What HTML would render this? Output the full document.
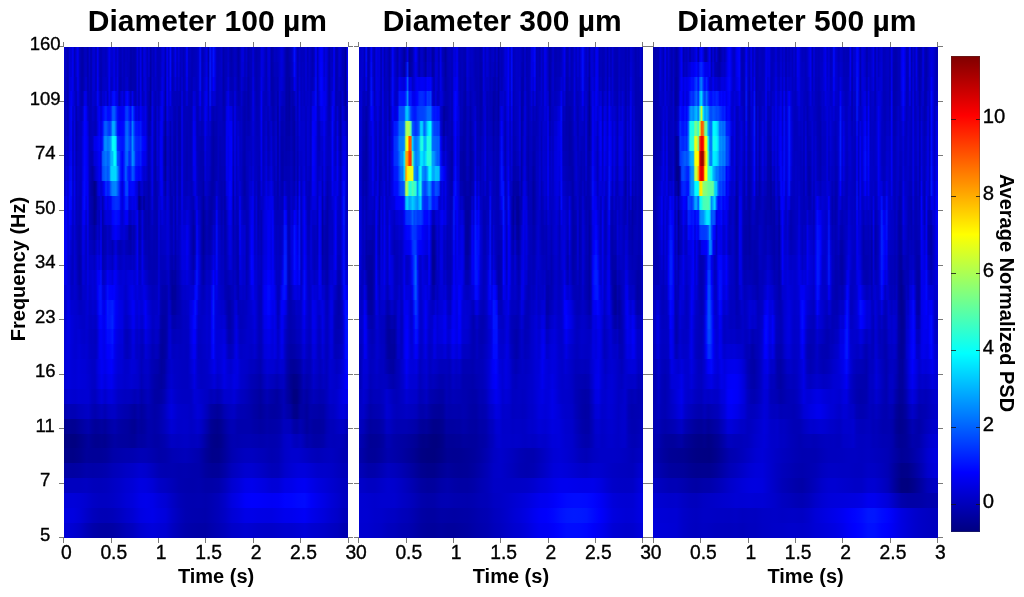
<!DOCTYPE html>
<html><head><meta charset="utf-8"><title>Spectrograms</title>
<style>
html,body{margin:0;padding:0;background:#fff;}
body{width:1024px;height:597px;position:relative;overflow:hidden;font-family:"Liberation Sans",Arial,sans-serif;color:#000;}
.p{position:absolute;overflow:hidden;background:#0000d0;}
.r{height:14.879px;margin-left:-0.827px;width:286.053px;}
.r2{margin-left:-1.653px;width:287.707px;}
.r4{margin-left:-3.307px;width:291.014px;}
.t{position:absolute;font-weight:bold;font-size:30px;line-height:32px;white-space:nowrap;text-align:center;width:300px;top:5px;}
.yl{position:absolute;font-size:18.5px;line-height:18px;text-align:center;width:60px;left:15.2px;white-space:nowrap;}
.xl{position:absolute;font-size:19.3px;line-height:18px;text-align:center;width:40px;white-space:nowrap;top:543.5px;}
.b{position:absolute;font-weight:bold;font-size:20px;line-height:20px;white-space:nowrap;text-align:center;}
.k{position:absolute;background:#7a7a7a;}
.yl,.xl,.cl{-webkit-text-stroke:0.35px #000;}
.cl{position:absolute;font-size:20.3px;line-height:18px;left:982.7px;white-space:nowrap;}
</style></head><body>
<div class="t" style="left:57.4px">Diameter 100 µm</div>
<div class="p" style="left:63.6px;top:46.8px;width:284.5px;height:491.0px">
<div class="r" style="background:linear-gradient(90deg,#00c,#00c,#0000be,#0000af,#0000d5,#0000d0,#0000f5,#0000b5,#0000d4,#0000f5,#0000bd,#0000ac,#0000a7,#0000bc,#0000c0,#0000a9,#00c,#0000ac,#0000d2,#0000d4,#0000b3,#0000f6,#0000ba,#0000af,#0000c0,#0000c3,#0000ba,#0000ce,#0000f5,#0000d0,#0000d1,#0000e6,#0000bc,#0000dc,#0000ba,#0000b5,#0000c6,#0000b4,#0000c3,#0000bc,#0000c3,#0000a6,#0000b2,#0000ac,#0000b3,#0000e0,#0000b6,#0000ef,#0000b0,#0000e4,#0000d5,#0000b8,#0000db,#0000a5,#0000c4,#0000b8,#0000d7,#0000b9,#0000b9,#00b,#0000d8,#0000da,#0000b2,#0000f7,#0000c1,#000aff,#0000b4,#0000c3,#0000ef,#0000ba,#0000e0,#0000bd,#0000c5,#0000b6,#0000c7,#0004ff,#0000ba,#0000c0,#0000b3,#0000b8,#0000bc,#0000be,#0000ce,#000fff,#0000b3,#00b,#0000d0,#0000e4,#0000ab,#0017ff,#0000db,#0012ff,#0000e6,#0000bd,#0000b9,#0000c0,#0000cb,#0000ab,#0000b9,#0000b9,#0000c9,#0000b2,#0000ab,#0000b8,#0000c3,#0000b9,#0000a4,#0000b3,#0000d7,#0000e1,#0000b7,#0000cb,#0000af,#0000b8,#0000b9,#00d,#0000b5,#0000b0,#0000b5,#0000b7,#0000e1,#0000de,#0000c6,#0000b2,#0000da,#0000d8,#0000a9,#0000af,#0000c3,#0000bd,#0000c2,#00c,#00d,#0000d7,#0000be,#0000a8,#0000a3,#0000b0,#0000b7,#0000d0,#01f,#0000db,#0000b0,#0000c9,#0000bc,#0000be,#0000bd,#0000db,#0000b3,#0000cd,#00b,#0000ad,#0000be,#0002ff,#0000ba,#0000e7,#00f,#0000f4,#0000c7,#0000e4,#0000cd,#0000ac,#0000c2,#0000bc,#0000fe,#0000ae,#0000b3,#0000d4,#0000d1,#0000b8,#0000b3,#00009a,#0000f2,#0000f2)"></div>
<div class="r" style="background:linear-gradient(90deg,#00c,#00c,#0000bd,#0000ad,#0000d7,#0000d4,#0000f6,#0000b6,#0000d0,#0000f6,#0000c0,#00a,#0000a6,#0000bc,#0000c5,#0000a8,#0000c9,#0000ac,#0000d4,#0000d6,#0000b2,#0000f9,#00b,#0000ad,#0000bf,#0000c4,#0000bd,#0000cb,#0000f6,#00c,#0000cf,#0000ea,#0000bd,#0000e0,#0000b8,#0000b2,#0000c6,#0000b6,#0000c7,#0000bf,#0000bd,#0000a6,#0000b0,#0000ad,#0000b1,#0000e0,#0000b5,#0000f1,#0000af,#0000e1,#0000d8,#0000b9,#0000d5,#0000a2,#0000c5,#0000ba,#0000d3,#0000b9,#0000b7,#0000bf,#00d,#0000d8,#0000ae,#0000f8,#0000c3,#0009ff,#0000b2,#0000c0,#0000ec,#0000b8,#0000db,#0000b9,#0000ca,#0000b4,#0000c6,#0002ff,#00b,#0000be,#0000b2,#0000ba,#0000bc,#0000be,#0000ce,#0010ff,#0000b5,#0000bf,#0000d1,#0000e8,#0000af,#001bff,#0000d9,#000eff,#0000e8,#0000bd,#00b,#0000c2,#0000cb,#0000a9,#0000b8,#0000ba,#0000d0,#0000b3,#0000ae,#0000b6,#0000c6,#0000ba,#0000a5,#0000b4,#0000d5,#0000da,#0000b8,#0000c9,#0000ac,#0000b7,#0000ba,#0000e1,#0000b6,#0000b1,#0000b6,#0000ba,#0000e2,#00d,#0000c4,#0000b1,#0000d8,#0000d9,#0000a8,#0000ad,#0000bd,#00b,#00b,#0000cd,#0000db,#0000d4,#0000c0,#0000a8,#0000a4,#0000ab,#0000b8,#0000c8,#0009ff,#0000dc,#0000b2,#0000cd,#0000bc,#0000c3,#0000bd,#0000db,#0000b8,#0000cb,#0000ba,#0000b1,#0000c0,#0004ff,#0000b9,#0000e8,#0002ff,#0000f7,#0000ca,#0000e8,#0000cb,#0000a9,#0000c3,#0000c2,#0000fd,#0000ad,#0000b4,#0000d2,#0000ce,#0000b9,#0000b2,#00009a,#0000ef,#0000ef)"></div>
<div class="r" style="background:linear-gradient(90deg,#0000c8,#0000c8,#0000ba,#00a,#0000db,#0000e2,#0000f1,#00b,#0000be,#0000f4,#0000c3,#00a,#0000a9,#0000bf,#0000d3,#0000ab,#0000c5,#0000ad,#0000d6,#0000d5,#0000b1,#0000fd,#0000c0,#0000ab,#0000c3,#0000c8,#0000c7,#0000c5,#0000fb,#0000c0,#0000ca,#00e,#0000c1,#0000e7,#0000b2,#0000ae,#0000c2,#0000b7,#0000cb,#00c,#0000b5,#0000a7,#0000b1,#0000af,#0000ae,#0000e0,#0000b1,#0000f6,#0000b0,#0000d7,#0000de,#0000ba,#0000bf,#00009e,#0000ce,#0000bd,#0000c9,#0000bd,#0000b5,#0000c2,#0000e8,#0000d6,#0000a9,#0000fe,#0000c8,#0004ff,#0000b2,#0000bd,#0000dc,#0000b7,#0000d1,#0000b5,#0000d6,#0000b4,#0000c3,#0000f9,#0000b9,#00b,#0000b2,#0000c6,#0000c3,#0000bc,#0000ce,#0010ff,#0000b6,#0000c4,#0000da,#0000f0,#0000b5,#001bff,#0000d5,#0000fd,#0000e4,#0000ba,#0000bc,#0000c3,#0000c6,#0000a8,#0000b6,#0000bf,#00d,#0000b8,#0000b4,#0000b6,#0000d2,#0000bc,#0000a8,#0000b4,#0000d3,#0000c7,#0000b6,#0000c2,#0000a8,#0000b5,#00b,#0000e9,#00b,#0000b1,#0000b6,#0000bc,#0000eb,#0000d4,#0000c1,#0000b4,#0000d2,#0000d9,#00a,#00a,#0000b6,#00b,#0000b2,#0000d2,#0000d7,#0000ce,#0000c0,#0000a6,#0000a7,#0000a3,#0000b7,#0000b9,#0000ef,#00d,#0000b2,#0000d5,#0000bc,#0000c7,#0000bd,#0000d7,#0000bc,#0000cb,#0000b8,#0000b8,#0000cb,#0009ff,#0000ba,#0000e6,#0006ff,#0000fb,#0000d8,#0000ed,#0000ca,#0000a7,#0000c3,#0000ca,#0000fd,#0000ab,#0000b6,#0000ca,#0000c1,#0000c0,#0000b2,#00009a,#0000e6,#0000e6)"></div>
<div class="r" style="background:linear-gradient(90deg,#0000bd,#0000bd,#0000bc,#0000a8,#0000e1,#0000f8,#0000e1,#0000cb,#0000b3,#0000e7,#0000c3,#0000ad,#0000b1,#0000e5,#0000ec,#0000b3,#0000c0,#0000b2,#0000d2,#0000cb,#0000c4,#0005ff,#0000d3,#0000af,#0000d3,#0000cd,#0000e6,#0000bc,#0000f6,#0000d1,#0006ff,#0012ff,#0000eb,#0000e7,#0000af,#0000d2,#0000e4,#0000bf,#0000fa,#0007ff,#0000e0,#0000b7,#0000f1,#0000bd,#0000b4,#0000db,#0000b0,#0000f3,#0000b9,#0000c5,#0000e2,#00b,#0000b2,#00009c,#0000e1,#0000c0,#0000b8,#0000c6,#0000b5,#0000d3,#0000f6,#0000d2,#0000a4,#00f,#0000cd,#00e,#0000bc,#0000ba,#0000be,#0000b9,#0000be,#0000b0,#0000e8,#0000b5,#0000be,#0000df,#0000b8,#0000b8,#0000b3,#0000dc,#0000d3,#0000b7,#0000c9,#0001ff,#0000b6,#0000c7,#0000eb,#0000f3,#00b,#0014ff,#0000ca,#0000d7,#0000d4,#0000b8,#0000bc,#0000c3,#0000c3,#00a,#0000b2,#0000d5,#0000ef,#0000c3,#0000c0,#0000b7,#0000e4,#0000bf,#0000b1,#0000b5,#00c,#0000b9,#0000ae,#0000b8,#0000a7,#0000b3,#0000bd,#00e,#0000c3,#0000b3,#0000b5,#0000be,#0000f9,#0000c2,#00b,#0000b9,#0000c8,#0000d5,#0000b1,#0000a9,#0000b5,#0000c1,#0000a5,#0000d9,#0000c9,#0000bf,#0000be,#0000a4,#0000a8,#00009f,#0000b6,#0000ad,#0000bc,#0000dc,#0000b2,#0000e0,#0000be,#0000c9,#0000bf,#00c,#0000c5,#0000ce,#0000b6,#0000d6,#0000e2,#000bff,#0000be,#0000da,#0003ff,#0000f9,#0000ec,#0000ec,#0000c8,#0000a9,#0000c3,#0000e5,#0000f6,#0000ad,#0000ba,#0000bc,#0000b4,#0000ce,#0000b5,#00009c,#0000d3,#0000d3)"></div>
<div class="r" style="background:linear-gradient(90deg,#0000b8,#0000b8,#0000c1,#0000ab,#0000e2,#0004ff,#0000c5,#0000df,#00a,#0000cd,#0000bf,#0000b4,#0000c6,#0006ff,#0000fd,#0000c9,#0000b8,#0000b6,#0000ca,#0000c0,#0000b5,#0000eb,#0000f9,#0000d2,#0000fa,#0014ff,#0026ff,#0008ff,#0009ff,#0014ff,#0057ff,#005eff,#0034ff,#0009ff,#00e,#0000f2,#0000f6,#0000fb,#0038ff,#003cff,#001bff,#0001ff,#004aff,#0013ff,#0000da,#0000eb,#0000d0,#0000fe,#0000df,#0000db,#00e,#0000c1,#0000a7,#0000a7,#0000f0,#0000c1,#0000b1,#0000d7,#0000ba,#0000e5,#0000fd,#0000c6,#0000a1,#0000ef,#0000cf,#0000c9,#0000cd,#0000b7,#0000b4,#0000c2,#0000ac,#0000ad,#0000f3,#0000b7,#00b,#0000bc,#0000b8,#0000b5,#0000b7,#0000ef,#0000e2,#0000b2,#0000be,#0000df,#0000b6,#0000c6,#0000f4,#0000e6,#0000c0,#0000f0,#0000b6,#0000b2,#0000bd,#0000b5,#0000be,#0000c1,#0000c1,#0000b1,#0000b1,#0000e9,#0000f7,#0000e7,#0000e4,#0000ba,#0000f0,#0000c3,#0000bf,#00b,#0000c3,#0000b4,#0000ac,#0000b6,#0000ab,#0000b2,#0000c2,#0000e7,#0000c6,#0000b7,#0000b6,#0000bf,#0000fd,#0000ba,#0000bd,#0000c6,#0000b8,#00c,#0000be,#0000ac,#0000b7,#0000c8,#00009b,#0000d9,#0000b7,#0000b3,#00b,#0000a4,#0000a8,#0000a2,#0000b6,#0000a8,#0000a9,#0000d4,#0000b5,#0000e2,#0000c2,#0000cb,#0000cb,#0000bd,#0000d0,#0000cd,#0000b7,#0000f3,#0000f4,#0000fe,#0000c0,#0000c3,#00e,#0000eb,#0000f7,#0000e0,#0000c3,#0000b0,#0000c6,#0000fd,#0000e3,#0000b2,#0000d4,#0000b6,#00a,#0000d7,#0000cb,#0000ac,#00b,#00b)"></div>
<div class="r" style="background:linear-gradient(90deg,#0000b6,#0000b6,#0000c6,#0000b1,#0000e0,#0004ff,#0000b7,#0000e7,#0000a8,#0000bc,#0000c0,#0000bc,#0000db,#0003ff,#0000fe,#00d,#0000b5,#0000b9,#0000c0,#00b,#0000b7,#0000df,#0001ff,#00d,#000aff,#0050ff,#0063ff,#0047ff,#03f,#0048ff,#0af,#00acff,#0064ff,#000eff,#0000fe,#0003ff,#0004ff,#000dff,#0061ff,#0067ff,#003eff,#0017ff,#0084ff,#0040ff,#01f,#0013ff,#0008ff,#0019ff,#0000eb,#0000e0,#0000ec,#0000c2,#0000a6,#0000b4,#0000f3,#0000bd,#0000ad,#0000df,#0000c1,#0000f0,#0000fa,#0000b8,#00009d,#0000db,#0000cb,#0000b2,#0000d2,#0000b4,#0000ae,#0000c9,#0000a8,#0000ab,#0000f1,#0000b9,#00b,#0000b7,#0000ba,#0000b3,#00b,#0000f6,#0000eb,#0000b3,#0000ba,#0000c2,#0000b4,#0000bf,#0000f0,#0000d6,#0000c7,#0000d1,#0000b1,#0000a9,#0000b3,#0000b2,#0000c1,#0000bc,#0000be,#0000b8,#0000b4,#0000f3,#0000f2,#0000f8,#0000f8,#0000bc,#0000f0,#0000c5,#0000d1,#0000c0,#0000c5,#0000b4,#0000ad,#0000b9,#0000b4,#0000b8,#0000c5,#0000dc,#0000c5,#00b,#0000b8,#0000bf,#0000f9,#0000b7,#0000c0,#0000d1,#0000af,#0000c3,#0000d1,#0000b2,#0000bd,#0000d0,#00009c,#0000d3,#0000b0,#0000af,#0000b8,#0000a7,#0000a9,#0000a7,#0000b8,#00a,#0000a3,#0000cd,#0000b7,#0000dc,#0000ca,#0000ce,#0000d0,#0000ba,#0000d6,#0000cb,#0000b8,#0000fe,#0000f9,#0000ef,#0000c0,#0000b5,#0000da,#0000db,#0000f3,#0000d2,#0000c1,#0000b7,#0000ca,#0005ff,#0000d3,#0000b7,#0000e5,#0000b7,#0000a6,#0000d8,#0000e0,#0000c8,#0000b8,#0000b8)"></div>
<div class="r" style="background:linear-gradient(90deg,#0000b6,#0000b6,#0000cd,#0000b9,#0000e1,#0002ff,#0000b5,#0000e7,#0000ab,#0000be,#0000c1,#0000bf,#0000e4,#0003ff,#0000fc,#0000e6,#0000b9,#0000b8,#0000c2,#0000eb,#0000ec,#0000fa,#0007ff,#0000ec,#001bff,#0081ff,#0094ff,#0079ff,#0087ff,#00a4ff,#05fffa,#06fff9,#00e6ff,#002eff,#001fff,#0015ff,#01f,#001aff,#0069ff,#0070ff,#004cff,#0034ff,#0096ff,#0052ff,#0026ff,#0024ff,#001bff,#002bff,#0009ff,#0002ff,#0000f9,#0000ca,#0000ab,#0000c1,#0000f2,#0000b9,#0000ab,#0000df,#0000c6,#0000f5,#0000f7,#0000ae,#000098,#0000cf,#0000c6,#0000ad,#0000d1,#0000b1,#00a,#0000ce,#0000a9,#0000ab,#0000ef,#00b,#00b,#0000b4,#00b,#0000b4,#0000bc,#0000f7,#0000f1,#0000b8,#0000b7,#0000b6,#0000b0,#0000b7,#0000e8,#0000cb,#0000c9,#0000c5,#0000ae,#0000a6,#0000af,#0000b1,#0000c1,#0000b6,#00b,#0000ba,#0000b6,#0000f6,#0000eb,#0000fa,#0000fe,#0000ba,#0000ed,#0000c2,#0000dc,#0000c1,#0000c4,#0000b4,#0000ad,#0000bd,#0000bd,#0000c0,#0000c4,#0000d5,#0000c4,#0000be,#00b,#0000bd,#0000f5,#0000b6,#0000c4,#0000d7,#0000b3,#0000bf,#0000d7,#0000b8,#0000bf,#0000d5,#00009f,#0000cf,#0000ac,#0000ac,#0000b5,#00a,#0000ae,#0000ad,#00b,#0000ae,#0000a5,#0000c9,#0000b4,#0000d5,#0000cb,#0000cf,#0000d2,#0000b8,#0000d7,#00c,#0000ba,#0002ff,#0000f9,#0000e6,#0000bf,#0000b6,#0000d0,#0000d0,#0000ed,#0000cb,#0000c2,#0000be,#0000cb,#0003ff,#0000ce,#0000bc,#0000ef,#0000be,#0000a8,#0000d9,#0000ea,#0000de,#0000b7,#0000b7)"></div>
<div class="r" style="background:linear-gradient(90deg,#0000b8,#0000b8,#0000d3,#0000c1,#0000e7,#0005ff,#0000b8,#0000e8,#0000b0,#0000c4,#0000c2,#0000bf,#0000e5,#0005ff,#0000fc,#0000e7,#00b,#0000b1,#0000b6,#0000da,#00d,#0000eb,#0000fd,#0000e1,#0060ff,#006aff,#007bff,#0061ff,#0072ff,#00b1ff,#00bcff,#07fff8,#00f1ff,#004eff,#0040ff,#000eff,#0000fa,#001eff,#0062ff,#0065ff,#0026ff,#0034ff,#008fff,#0076ff,#0020ff,#001bff,#01f,#0021ff,#0000f7,#0000ec,#0000ed,#0000c7,#0000ad,#0000c5,#0000f1,#0000b6,#00a,#0000db,#0000c8,#0000f7,#0000f6,#0000ab,#000096,#0000cd,#0000c5,#0000ad,#0000ce,#0000b0,#0000a8,#0000d0,#0000ac,#0000ad,#0000f0,#0000bc,#0000ba,#0000b2,#00b,#0000b5,#0000bc,#0000f5,#0000f4,#0000be,#0000b7,#0000b3,#0000af,#0000b2,#0000e2,#0000c7,#0000ca,#0000c5,#0000ac,#0000a6,#0000b0,#0000b1,#0000c1,#0000b3,#0000b9,#0000b9,#0000b7,#0000f6,#0000e9,#0000f9,#0000fd,#0000b5,#0000eb,#0000bf,#00d,#0000c1,#0000c2,#0000b1,#0000ac,#0000be,#0000c1,#0000c7,#0000c2,#0000d5,#0000c5,#0000bf,#0000bc,#0000b9,#0000f3,#0000b8,#0000c6,#0000db,#0000b8,#0000c2,#0000da,#0000bc,#0000bc,#0000d5,#0000a1,#0000cf,#0000ab,#0000a9,#0000b4,#0000ae,#0000b3,#0000b2,#0000be,#0000b3,#0000a6,#0000c8,#0000ae,#0000d2,#0000c6,#0000ce,#0000d4,#0000b8,#0000d5,#00c,#0000ba,#0003ff,#0000f8,#0000e3,#0000c0,#0000bd,#0000d0,#0000ca,#0000eb,#0000ca,#0000c2,#0000c0,#0000c9,#0002ff,#0000d1,#0000c2,#0000f5,#0000c6,#0000ae,#00d,#0000f0,#0000e3,#0000b5,#0000b5)"></div>
<div class="r" style="background:linear-gradient(90deg,#0000ba,#0000ba,#00d,#0000c8,#0000f2,#000bff,#0000bd,#0000ed,#0000b6,#0000c9,#0000c2,#0000be,#0000e9,#0007ff,#0000fb,#0000ec,#0000ba,#0000a9,#0000a1,#0000ba,#0000d2,#0000e3,#0000f8,#00d,#0050ff,#005aff,#006aff,#0052ff,#06f,#00ceff,#00d7ff,#00d7ff,#00daff,#0090ff,#0048ff,#000cff,#0000f5,#001eff,#06f,#002eff,#000cff,#001dff,#0056ff,#0045ff,#000aff,#0006ff,#0000f7,#0008ff,#0000e0,#0000ce,#0000d7,#0000c0,#0000ac,#0000c2,#0000f1,#0000b4,#0000a9,#0000cf,#0000c8,#0000f4,#0000f8,#0000af,#00009b,#0000d3,#0000c7,#0000ad,#0000c8,#0000b4,#0000a8,#0000d4,#0000ae,#0000af,#0000f4,#00b,#0000b9,#0000b3,#0000bc,#0000b8,#00b,#0000eb,#0000f4,#0000c3,#0000b7,#0000b2,#0000b0,#0000ad,#0000db,#0000c8,#0000c9,#0000c0,#00a,#0000a6,#0000b0,#0000b5,#0000c1,#0000b2,#0000b5,#0000b7,#0000b2,#0000f2,#0000eb,#0000fd,#0000fb,#0000ad,#0000e9,#0000bd,#0000d4,#0000c6,#0000c0,#0000af,#0000a9,#00b,#0000c0,#0000cd,#0000c6,#0000dc,#0000c2,#0000c2,#0000b8,#0000b6,#0000ed,#00b,#0000c9,#0000e0,#0000bd,#0000cb,#0000e0,#0000c1,#0000b7,#0000ce,#0000a3,#0000cf,#0000ad,#0000a9,#0000b9,#0000b4,#0000b6,#0000b6,#0000c2,#0000b6,#0000a8,#00c,#0000a9,#00d,#0000bf,#0000cf,#0000dc,#0000ba,#0000cf,#0000c4,#0000ba,#00f,#0000f5,#0000e1,#0000c1,#0000c6,#0000d8,#0000be,#0000ea,#0000c8,#0000b9,#0000bd,#0000c7,#0000fe,#0000d7,#0000cd,#0000f6,#0000cb,#0000b5,#0000e6,#0000fc,#0000e2,#0000b4,#0000b4)"></div>
<div class="r" style="background:linear-gradient(90deg,#0000bf,#0000bf,#0000ea,#0000cd,#0000fe,#000fff,#0000c1,#0000f3,#0000ba,#0000ca,#0000bf,#0000bd,#0000f2,#0009ff,#0000f3,#0000f5,#0000b7,#0000a4,#00009b,#000089,#00009a,#0000d3,#0000e7,#0000d0,#0000e2,#0003ff,#0031ff,#001aff,#0028ff,#0062ff,#0080ff,#0083ff,#0089ff,#005cff,#002eff,#0000ed,#0000db,#0004ff,#0048ff,#0045ff,#0000fe,#0006ff,#0008ff,#0005ff,#0000e7,#0000d8,#0000a0,#0000ce,#0000d4,#0000b6,#0000bc,#0000b6,#0000a8,#0000bd,#00e,#0000b4,#0000ab,#0000b9,#0000c9,#0000eb,#0000f9,#00b,#0000a9,#0000dc,#0000cd,#0000ad,#0000bc,#0000be,#0000a8,#0000da,#0000b1,#0000b1,#0000f6,#0000bc,#0000ba,#0000ba,#0000c1,#0000bc,#0000b7,#0000d5,#0000ec,#0000c7,#0000b7,#0000b6,#0000b0,#0000a7,#0000ce,#0000c9,#0000bf,#0000b4,#0000a7,#0000a9,#0000b3,#0000cd,#0000bf,#0000b4,#0000b0,#0000b6,#00a,#0000e7,#00e,#0005ff,#0000f9,#0000a5,#0000e7,#0000bc,#0000c9,#0000d9,#0000c1,#0000b0,#0000a6,#0000b7,#0000be,#0000d3,#0000d3,#0000eb,#0000bc,#00c,#0000b2,#0000b3,#0000df,#0000c0,#00c,#0000e7,#0000ce,#0000db,#0000ea,#0000d2,#0000b5,#0000c1,#0000a6,#0000c8,#0000b2,#0000ae,#0000d2,#0000bf,#0000b8,#0000b7,#0000c5,#0000ba,#0000b2,#0000d7,#0000ab,#0000fb,#0000ba,#0000d6,#0000ec,#0000bd,#0000c3,#0000b8,#0000c0,#0000f6,#0000f0,#0000e1,#0000c1,#0000da,#0000e3,#0000b3,#0000e7,#0000c4,#0000b1,#00b,#0000c4,#0000f1,#00d,#0000e1,#0000ec,#0000ca,#0000bc,#0000f0,#000fff,#0000db,#0000b4,#0000b4)"></div>
<div class="r" style="background:linear-gradient(90deg,#0000d7,#0000d7,#0000f6,#0000cf,#0003ff,#0005ff,#0000c2,#00e,#00b,#0000c6,#00b,#0000bd,#0000f9,#000bff,#0000df,#0000fb,#0000b8,#0000ac,#0000a5,#00008f,#000096,#0000be,#0000c4,#00d,#0000af,#0000d7,#0000fb,#0000e3,#0000f2,#0000f5,#0023ff,#0029ff,#0031ff,#002dff,#0025ff,#0000ed,#0000de,#0000f9,#0023ff,#0025ff,#00d,#0000de,#0000eb,#0000e3,#0000ed,#0000d1,#000080,#00009f,#0000bf,#000094,#0000b7,#0000b5,#0000a7,#0000bc,#0000e0,#0000b5,#0000af,#0000b2,#0000d9,#0000d8,#0000ef,#0000c8,#0000bc,#0000df,#0000d2,#0000b0,#0000ae,#0000ca,#0000a9,#0000de,#0000b5,#0000b7,#0000f0,#0000c2,#0000c1,#0000c9,#00c,#0000c1,#0000b7,#0000b7,#0000d8,#0000e7,#0000bf,#0000bf,#0000ac,#00009f,#0000b7,#0000c4,#0000b5,#00a,#0000a7,#0000b0,#0000b8,#00e,#0000c1,#0000b8,#0000ad,#0000b7,#0000a3,#0000d1,#0000ea,#0002ff,#0000f0,#0000a3,#0000dc,#0000ba,#0000be,#0000f7,#0000c6,#0000b5,#0000ae,#0000b5,#0000bc,#0000d8,#0000e5,#0000f7,#00b,#0000d7,#0000ad,#0000b8,#0000c6,#0000c7,#0000d9,#0000e9,#0000e3,#0000eb,#0000ed,#00e,#0000b9,#0000b9,#0000af,#0000be,#0000b8,#0000b7,#0000f2,#00d,#0000b6,#0000b4,#00c,#0000be,#0000c4,#0000e7,#0000b5,#0008ff,#0000ba,#00d,#0000fb,#0000cd,#0000b9,#0000b3,#0000cd,#0000e0,#0000e0,#0000db,#0000bd,#0000ed,#0000ec,#0000a7,#0000da,#00b,#0000ab,#0000ba,#0000c3,#0000d5,#0000df,#0000f5,#0000d4,#0000c6,#0000c2,#0000f3,#001cff,#00c,#0000b7,#0000b7)"></div>
<div class="r" style="background:linear-gradient(90deg,#0000e9,#0000e9,#0000f8,#0000d4,#0000fa,#0000ef,#0000c0,#0000e1,#0000ba,#0000be,#0000b6,#0000bd,#0000f5,#0000f6,#0000c9,#0000f6,#0000b7,#0000ad,#0000a5,#000091,#00009d,#0000c1,#0000b4,#0000f2,#0000a3,#0000c8,#00d,#0000de,#00d,#0000df,#0002ff,#0009ff,#0010ff,#0009ff,#0005ff,#0000d7,#0000d0,#0000e4,#0000fa,#0000f7,#0000c3,#0000c2,#0000d6,#00c,#0000e0,#0000f4,#0000a7,#0000b8,#0000e2,#0000b7,#0000af,#0000b4,#0000a8,#0000ba,#0000ca,#0000b5,#0000b3,#0000af,#0000e2,#0000ca,#0000dc,#0000ce,#0000c8,#0000db,#0000d4,#0000b6,#0000af,#0000d1,#00a,#0000d8,#00b,#0000c0,#0000e6,#0000cd,#0000cd,#0000e0,#0000d6,#0000c4,#0000b5,#00a,#0000c2,#0000fc,#0000cb,#0000c4,#0000a8,#009,#00a,#00b,#0000ae,#0000a5,#0000ab,#00b,#0000bf,#0005ff,#0000c7,#0000be,#0000ae,#0000be,#0000a2,#0000bd,#0000df,#0000f4,#0000e1,#0000a9,#00c,#0000b7,#0000b4,#0005ff,#0000d1,#0000c0,#0000be,#0000b7,#00b,#0000d9,#0000f1,#0000fa,#00b,#0000da,#0000ad,#0000bc,#0000b3,#0000cf,#0000e0,#0000e6,#0000f1,#0000f3,#0000e9,#0000fe,#0000c1,#0000b9,#0000b9,#00b,#0000bc,#0000bf,#000aff,#00f,#0000b7,#0000b5,#0000d5,#0000cd,#0000f7,#0000f3,#0000c7,#000fff,#00b,#0000df,#0001ff,#0000db,#0000b8,#0000b3,#0000d7,#0000cb,#0000cb,#0000cf,#0000b9,#0000f5,#0000eb,#0000a0,#0000c6,#0000b2,#0000a9,#0000bd,#0000c3,#0000c4,#00d,#0000fe,#0000ca,#0000c2,#0000c5,#00e,#0019ff,#0000ca,#0000bc,#0000bc)"></div>
<div class="r" style="background:linear-gradient(90deg,#0000f1,#0000f1,#0000f6,#0000d7,#0000ed,#0000dc,#0000bd,#0000d7,#0000bf,#0000b7,#0000b1,#00b,#0000ed,#0000e4,#0000be,#0000ef,#00b,#0000b6,#0000af,#0000a2,#0000b3,#0000cb,#0000b9,#0000f0,#0000a5,#0000b3,#0000b6,#0000c7,#0000bd,#0000c9,#0000e7,#0000f2,#0000fc,#0000ef,#0000e9,#0000d1,#0000d0,#0000d8,#0000cb,#0000c5,#0000a6,#0000a1,#0000b8,#0000ae,#0000c9,#0000f1,#0000a9,#0000b3,#0000e1,#0000b6,#0000ae,#0000b5,#0000ad,#0000b8,#0000bc,#0000b3,#0000b4,#0000ae,#0000e0,#0000c3,#0000cb,#0000cb,#0000cb,#0000d7,#0000d4,#00b,#0000b2,#0000d0,#0000ad,#0000ce,#0000bf,#0000c8,#0000e3,#0000d9,#0000da,#0000f2,#0000df,#0000c5,#0000b2,#0000a3,#0000b6,#0005ff,#0000d6,#0000c7,#0000a6,#000098,#0000a8,#0000b5,#0000ac,#0000a7,#0000b3,#00c,#0000c6,#000bff,#0000cd,#0000c3,#0000b3,#0000c1,#0000a6,#0000ba,#0000d6,#0000ea,#0000d9,#0000b1,#0000c3,#0000b5,#0000af,#0003ff,#0000d8,#0000cf,#0000d3,#0000b6,#0000b9,#0000d9,#0000f8,#0000f9,#0000be,#0000d7,#0000b2,#0000be,#0000b1,#0000d0,#0000e1,#0000e2,#0000f4,#0000f3,#0000e5,#0002ff,#0000c6,#0000bc,#0000c0,#0000ba,#0000be,#00c,#0016ff,#0012ff,#00b,#0000b7,#0000da,#00d,#0012ff,#0000fb,#0000d9,#01f,#00b,#0000db,#00f,#0000e2,#0000ba,#0000b8,#0000db,#0000c1,#0000be,#0000c4,#0000b7,#0000f4,#0000e7,#00009f,#0000b8,#0000ad,#00a,#0000bf,#0000c5,#0000c2,#0000dc,#0001ff,#0000c7,#0000bf,#0000c5,#0000e9,#0012ff,#0000ca,#0000c0,#0000c0)"></div>
<div class="r" style="background:linear-gradient(90deg,#0000f5,#0000f5,#0000f4,#0000d4,#0000e1,#0000d0,#00b,#0000d4,#0000c3,#0000b3,#0000ac,#0000b7,#0000e7,#0000dc,#0000bc,#0000ea,#0000c2,#0000c0,#00b,#0000b0,#0000c3,#0000d9,#0000c5,#0000f8,#0000a5,#0000b3,#0000b8,#0000cd,#0000c1,#0000bf,#0000b1,#0000cb,#0000de,#0000c0,#0000b3,#0000b7,#0000bf,#0000c8,#0000b9,#0000b6,#0000b0,#0000ab,#0000bc,#0000b4,#0000cf,#0000f8,#0000b1,#00b,#0000ec,#0000c1,#0000b5,#0000b7,#0000ae,#0000b4,#0000b6,#0000b0,#0000b3,#0000ae,#0000d8,#0000bf,#0000c3,#0000c4,#0000c7,#0000d4,#0000d3,#00b,#0000b2,#0000c9,#0000ad,#0000c3,#0000bf,#0000cb,#0000e4,#0000e1,#0000e1,#0000f7,#0000e2,#0000c6,#0000b2,#0000a3,#0000b6,#0008ff,#0000e0,#0000c9,#0000a7,#00009a,#0000ab,#0000b8,#0000b1,#0000af,#0000be,#0000d6,#0000ce,#000cff,#0000d1,#0000c7,#0000ba,#0000c0,#00a,#0000b9,#0000d1,#0000e6,#0000d7,#0000b8,#0000c1,#0000b4,#0000ac,#0000f9,#0000da,#0000d0,#0000d5,#0000b3,#0000b8,#0000da,#00f,#0000fc,#0000c4,#0000d4,#0000ba,#0000c1,#0000b5,#0000cf,#0000df,#0000e0,#0000f2,#0000f0,#0000e2,#0000fd,#0000ca,#0000bf,#0000c3,#0000bc,#0000c1,#0000d6,#001bff,#001aff,#0000bf,#0000b9,#0000da,#0000e6,#0014ff,#0001ff,#0000e5,#0012ff,#0000ba,#0000d6,#0000fe,#0000e5,#0000bf,#0000be,#0000dc,#0000c2,#0000b9,#0000be,#0000b9,#0000f4,#0000e6,#0000a2,#0000b2,#00a,#0000a9,#0000c0,#0000c9,#0000c6,#0000e1,#00f,#0000c5,#00b,#0000c4,#0000e8,#000dff,#00c,#0000c4,#0000c4)"></div>
<div class="r" style="background:linear-gradient(90deg,#0000f5,#0000f5,#0000f0,#0000d3,#0000d8,#0000c8,#0000ba,#0000d5,#0000c6,#0000b2,#0000a8,#0000b2,#0000e1,#0000d7,#0000bf,#0000e7,#0000ca,#0000ca,#0000ca,#0000c0,#0000ce,#0000e7,#0000d9,#0000fe,#0000ad,#0000b8,#0000c0,#0000d7,#0000ce,#0000ca,#0000bf,#0000db,#0000ea,#0000ce,#0000bf,#0000c1,#0000c7,#0000ce,#0000c3,#0000c6,#0000c4,#0000bf,#0000c8,#0000bf,#0000d2,#0000f4,#0000b8,#0000c0,#0000ec,#0000c9,#0000bc,#0000ba,#0000af,#0000b2,#0000b3,#0000b0,#0000b2,#0000b0,#0000d4,#0000bc,#0000bd,#0000bd,#0000c0,#0000cd,#0000ce,#0000b4,#0000ab,#0000b9,#0000a8,#00b,#0000bc,#0000c9,#0000e1,#0000e0,#0000df,#0000f1,#00d,#0000c8,#0000b7,#0000ac,#0000c5,#000fff,#0000e8,#0000cd,#0000ac,#0000a1,#0000b1,#0000c0,#0000ba,#0000ba,#00c,#0000e5,#0000d6,#0009ff,#0000d2,#0000c7,#0000be,#0000c2,#0000ae,#0000b8,#0000ca,#0000de,#0000d3,#00b,#0000c2,#0000b4,#00a,#0000ec,#0000d9,#0000cd,#0000d2,#0000b2,#0000ba,#0000dc,#0004ff,#0001ff,#00c,#0000d4,#0000c1,#0000c5,#0000ba,#0000d3,#0000e2,#0000e2,#0000f3,#0000f0,#0000e4,#0000f9,#0000cf,#0000c1,#0000c4,#0000bf,#0000c5,#0000e5,#0020ff,#001eff,#0000c1,#0000b7,#0000d5,#0000e7,#01f,#0002ff,#0000ec,#0013ff,#00b,#0000d5,#0002ff,#0000e9,#0000c4,#0000c1,#0000d8,#0000c3,#0000b8,#0000be,#0000bf,#0000f7,#0000e9,#00a,#0000b3,#0000ab,#0000a9,#0000c2,#0000ce,#0000cd,#0000e5,#0000f9,#0000c1,#0000b6,#0000c0,#0000e7,#000eff,#0000d2,#0000ca,#0000ca)"></div>
<div class="r" style="background:linear-gradient(90deg,#0000ef,#0000ef,#0000ea,#0000d9,#0000d7,#0000c3,#0000bd,#0000d4,#0000c9,#0000b6,#00a,#0000b1,#0000d9,#0000d3,#0000c5,#0000e6,#0000d1,#0000d2,#0000d8,#0000d0,#0000d7,#0000fa,#0000fb,#0010ff,#0000c2,#0000c9,#0000d7,#0000f6,#0000eb,#0000e7,#0000db,#0000f6,#0000f5,#0000e3,#0000d6,#0000d3,#0000d7,#0000d7,#0000cf,#0000d8,#0000dc,#0000dc,#0000e0,#0000d4,#0000da,#0000f1,#0000c8,#00c,#0000ea,#0000d9,#00c,#0000c5,#0000b8,#0000b7,#0000b5,#0000b3,#0000b6,#0000b6,#0000d7,#00b,#0000b7,#0000b6,#0000b7,#0000c0,#0000c9,#0000ab,#00009e,#0000a5,#00009f,#0000b2,#0000b5,#0000c2,#0000d3,#0000d7,#0000d5,#0000e1,#0000d5,#0000cd,#0000c3,#0000be,#0000e4,#0016ff,#0000e9,#0000cf,#0000b3,#00a,#0000b8,#0000c7,#0000c3,#0000c3,#0000db,#00f,#0000de,#00f,#0000d2,#0000c7,#0000c1,#0000c3,#0000b1,#0000b4,#00b,#0000c5,#0000c6,#00b,#0000c5,#0000b5,#0000a9,#00d,#0000d6,#00c,#0000d1,#0000b6,#0000bf,#0000d8,#0000fd,#0001ff,#0000d4,#0000d4,#0000c3,#0000c3,#00b,#0000db,#00e,#00e,#0001ff,#0000fc,#0000f0,#0000fc,#0000de,#0000c2,#0000c1,#0000bf,#0000d5,#0000fc,#0021ff,#001dff,#0000c1,#0000b3,#0000c9,#0000e1,#0004ff,#0000fb,#0000ec,#0008ff,#0000be,#0000dc,#000bff,#0000ec,#0000c7,#0000c1,#0000d1,#0000ce,#0000c1,#0000c8,#0000ca,#0000f8,#0000ef,#0000b6,#0000be,#0000b0,#0000ad,#0000c6,#0000d7,#0000d3,#0000de,#0000e1,#0000ba,#0000ad,#0000ba,#0000e2,#0010ff,#0000e0,#0000d4,#0000d4)"></div>
<div class="r" style="background:linear-gradient(90deg,#0000d9,#0000d9,#0000dc,#0000e1,#0000dc,#0000c7,#0000c6,#0000ce,#0000c9,#0000bf,#0000b4,#0000b5,#00c,#0000cb,#0000cb,#0000de,#0000cd,#0000cf,#0000d8,#0000d1,#0000d4,#0000f9,#000fff,#0013ff,#0000de,#0000d7,#0000ec,#000eff,#0001ff,#0001ff,#0000fd,#0002ff,#0000f1,#0000e9,#0000de,#0000d9,#0000d9,#0000d1,#0000c9,#0000d4,#0000df,#0000e5,#0000eb,#0000e1,#0000d7,#0000e0,#0000d5,#0000d3,#0000da,#0000e6,#0000df,#0000d3,#0000c6,#0000c1,#00b,#0000ba,#0000be,#0000be,#0000d9,#0000b8,#0000ae,#0000ad,#0000ac,#0000b0,#0000c6,#0000b0,#000098,#00009a,#00009a,#0000ab,#0000b0,#0000b9,#0000c7,#0000cb,#0000ca,#0000cf,#0000cf,#0000d3,#0000d1,#0000d8,#0007ff,#000dff,#0000da,#0000c9,#00b,#0000b8,#0000c1,#0000cd,#0000c9,#0000c8,#0000f3,#0019ff,#0000e5,#0000ea,#0000d3,#0000cb,#0000c6,#0000c4,#0000b5,#0000b1,#0000ae,#0000b2,#0000ba,#00b,#0000ce,#0000be,#0000ae,#0000ca,#0000cb,#0000c5,#0000ca,#0000bc,#0000c5,#0000d1,#0000e3,#0000f2,#0000d9,#0000d4,#0000c1,#0000ba,#0000b9,#0000e0,#0000f9,#0000fa,#000aff,#0008ff,#0000f9,#0000f8,#0000ed,#0000d0,#0000b8,#0000bf,#0000eb,#000dff,#0013ff,#0005ff,#0000be,#0000ae,#0000b8,#0000cd,#0000de,#0000e3,#0000da,#0000e4,#0000c3,#0000e6,#000dff,#0000e9,#0000cb,#0000c1,#0000ca,#0000e1,#0000d6,#0000d8,#0000d2,#0000e8,#0000ea,#0000ce,#0000ce,#0000b8,#0000b6,#0000ca,#0000e3,#00d,#0000cd,#0000c2,#0000b2,#0000a8,#0000b5,#0000d4,#0008ff,#0001ff,#0000e9,#0000e9)"></div>
<div class="r" style="background:linear-gradient(90deg,#0000cf,#0000cf,#0000d2,#0000e7,#0000e2,#0000d3,#0000d2,#0000d0,#0000ce,#0000ca,#0000c3,#0000c1,#0000c6,#0000c8,#0000d0,#0000d6,#0000c9,#0000c9,#0000d1,#00c,#00c,#0000ed,#000dff,#0014ff,#0000f3,#0000e8,#00f,#001dff,#0013ff,#0018ff,#001dff,#000cff,#0000f7,#0000f0,#0000e5,#0000e5,#0000e0,#0000d2,#0000c9,#0000d1,#0000dc,#0000e7,#0000f5,#0000f5,#0000dc,#0000da,#0000e4,#0000d8,#0000d9,#0000eb,#0000f9,#0000e1,#0000d4,#0000cd,#0000c4,#0000c4,#0000c6,#0000c5,#0000d6,#0000b3,#0000a8,#0000a6,#0000a6,#0000ab,#0000c8,#0000c0,#0000a1,#00009f,#0000a2,#0000ad,#0000b1,#0000b5,#0000bf,#0000c4,#0000c3,#0000c7,#0000cb,#0000df,#0000e5,#0000fb,#0013ff,#0000f4,#00c,#0000c8,#0000c3,#0000c4,#0000c8,#0000d0,#00c,#0000cb,#0000fe,#001dff,#0000e6,#0000db,#0000d4,#0000d1,#00c,#0000ce,#0000c2,#0000b3,#0000a9,#0000a8,#0000b4,#00b,#0000d6,#0000d7,#0000b9,#0000bc,#0000be,#0000bc,#0000c0,#0000c1,#0000c9,#0000ce,#0000d3,#0000df,#0000df,#0000d1,#0000bf,#0000b6,#0000b9,#00d,#0000f6,#0000f8,#0006ff,#0003ff,#0000f4,#0000eb,#0000f0,#0000d7,#0000b4,#0000c8,#0000f7,#0000fd,#0000f3,#0000e0,#0000b9,#0000ad,#0000b0,#0000b7,#0000ba,#0000c7,#0000c5,#0000c7,#0000c7,#0000e8,#0001ff,#0000df,#00c,#0000c3,#0000cb,#00e,#0000e9,#0000e3,#0000d2,#0000d0,#00d,#0000e3,#0000d8,#0000bf,#0000bd,#0000cf,#0000e8,#0000e3,#0000c3,#0000b6,#0000af,#00a,#0000b4,#0000c6,#0000f5,#0010ff,#000aff,#000aff)"></div>
<div class="r" style="background:linear-gradient(90deg,#0000d4,#0000d4,#0000d9,#0000e7,#0000e5,#0000db,#0000d7,#0000d3,#0000d0,#0000d2,#0000cd,#0000c9,#0000c8,#0000c8,#0000d1,#0000d0,#0000c7,#0000c4,#0000c9,#0000c5,#0000c4,#0000de,#0000fe,#0005ff,#0000f6,#0000ef,#0002ff,#0019ff,#0014ff,#001bff,#0023ff,#000aff,#0000f5,#0000ed,#0000e5,#0000e5,#0000e1,#0000ce,#0000c5,#0000c8,#0000d1,#0000dc,#00e,#0000f2,#0000d8,#0000d4,#0000e0,#0000d1,#0000ce,#0000e0,#0000f7,#0000e7,#0000dc,#0000d2,#0000c5,#0000c4,#00c,#00c,#00c,#0000ad,#0000a2,#0000a1,#0000a4,#0000ac,#0000ca,#00c,#0000b1,#0000ad,#0000af,#0000b6,#0000b7,#0000b8,#0000bd,#0000c2,#0000c1,#0000c3,#0000c8,#0000e0,#0000ed,#0004ff,#000bff,#0000df,#0000c7,#0000c6,#0000c6,#0000c9,#00c,#0000d1,#0000ce,#0000cd,#0000fe,#0014ff,#0000e5,#0000d8,#0000d6,#0000d5,#0000d2,#0000d7,#0000d3,#00b,#0000ab,#0000a8,#0000b2,#0000bc,#0000d9,#0000e2,#0000c9,#0000ba,#00b,#0000bd,#0000c1,#0000c5,#0000cb,#00c,#0000cf,#0000d6,#0000de,#0000d0,#0000c0,#0000b8,#00b,#0000d6,#0000ec,#00e,#0000f8,#0000f6,#0000e9,#0000e0,#0000eb,#0000da,#0000ba,#0000cf,#0000f1,#0000f4,#0000da,#0000c9,#0000b5,#0000ae,#0000b0,#0000b3,#0000b6,#0000be,#0000c2,#0000c3,#0000c8,#0000e2,#0000f0,#0000d5,#0000cb,#0000c3,#0000ca,#0000ed,#0000ed,#0000e3,#0000ce,#0000c4,#0000d1,#0000e6,#0000d9,#0000c1,#0000c0,#0000d0,#0000e5,#0000e0,#0000be,#0000b2,#0000b0,#0000af,#0000b6,#0000c3,#0000e8,#000fff,#0015ff,#0015ff)"></div>
<div class="r" style="background:linear-gradient(90deg,#0000d7,#0000d7,#0000dc,#0000e4,#0000e3,#0000db,#0000d7,#0000d2,#0000d0,#0000d5,#0000d5,#0000ce,#00c,#0000cb,#0000d0,#0000cd,#0000c5,#0000c1,#0000c3,#0000bf,#0000be,#0000d4,#0000f2,#0000f9,#0000f1,#0000eb,#0000f9,#000bff,#0009ff,#0010ff,#0017ff,#0000fc,#0000ea,#0000e2,#0000db,#0000db,#0000da,#0000c5,#0000ba,#0000ba,#0000c1,#00c,#0000df,#0000e3,#00c,#0000c8,#0000d0,#0000c3,#0000bf,#0000ce,#0000e6,#0000dc,#0000d4,#0000cb,#0000be,#0000bf,#0000c7,#0000c7,#0000bf,#0000a5,#00009d,#00009e,#0000a2,#0000ad,#00c,#0000d1,#0000bd,#0000b9,#00b,#0000be,#0000be,#0000bc,#0000bf,#0000c1,#0000c1,#0000c1,#0000c5,#0000db,#0000eb,#0000fd,#0000fd,#0000d4,#0000c3,#0000c3,#0000c6,#0000c9,#0000cb,#0000d0,#0000cd,#0000cf,#0000fb,#000eff,#0000e5,#0000d8,#0000d8,#0000d8,#0000d9,#0000df,#00d,#0000c4,#0000b2,#0000ad,#0000b5,#0000bf,#0000da,#0000e5,#0000d1,#0000bf,#0000c0,#0000c2,#0000c5,#0000c9,#00c,#0000cb,#00c,#0000d1,#0000d9,#0000cd,#0000c0,#0000b8,#00b,#0000d0,#0000e3,#0000e5,#0000eb,#0000eb,#0000e1,#0000db,#0000e7,#0000dc,#0000c3,#0000d4,#00e,#00e,#0000d0,#0000be,#0000b2,#0000ac,#0000ad,#0000b0,#0000b2,#0000b9,#0000bd,#0000bf,#0000c6,#0000db,#0000e4,#0000cf,#0000c6,#0000c0,#0000c6,#0000e5,#0000e8,#0000de,#0000c9,#0000c0,#0000ca,#0000e0,#0000d5,#0000c0,#0000c0,#0000ce,#0000e1,#0000da,#0000bd,#0000b3,#0000b4,#0000b5,#00b,#0000c6,#0000e6,#000dff,#01f,#01f)"></div>
<div class="r" style="background:linear-gradient(90deg,#0000d9,#0000d9,#0000dc,#0000e1,#0000e0,#0000da,#0000d5,#0000d2,#0000d2,#0000d7,#0000d9,#0000d3,#0000d1,#0000d0,#0000d3,#0000cf,#0000c7,#0000c3,#0000c3,#0000c1,#0000c1,#0000d5,#0000f1,#0000f8,#0000f0,#0000e9,#0000f3,#00f,#00f,#0006ff,#000bff,#0000f3,#0000e4,#0000dc,#0000d7,#0000d7,#0000d6,#0000c6,#0000bd,#0000bc,#0000c2,#0000ca,#0000db,#00d,#0000ca,#0000c6,#0000c9,#0000bd,#0000b8,#0000c3,#0000d7,#0000d1,#0000ca,#0000c2,#0000b6,#0000b7,#0000bd,#0000bd,#0000b4,#0000a0,#00009a,#00009d,#0000a4,#0000b0,#0000cd,#0000d3,#0000c4,#0000c1,#0000c3,#0000c5,#0000c3,#0000c0,#0000c1,#0000c2,#0000c0,#0000bf,#0000c3,#0000d5,#0000e4,#0000f3,#0000f2,#0000cf,#0000c0,#0000c1,#0000c3,#0000c6,#0000c8,#0000cd,#0000cb,#0000ce,#0000f5,#0007ff,#0000e5,#0000d8,#0000d8,#0000da,#00d,#0000e5,#0000e5,#0000d0,#0000c0,#00b,#0000bf,#0000c7,#0000df,#0000e8,#0000d7,#0000c7,#0000c7,#0000c9,#0000ca,#0000cb,#0000cb,#0000c8,#0000c6,#0000ca,#0000d0,#0000c7,#0000bc,#0000b6,#0000b9,#0000ca,#0000dc,#0000de,#0000e2,#0000e2,#0000db,#0000d9,#0000e3,#0000da,#0000c7,#0000d4,#0000e8,#0000e6,#00c,#0000b9,#0000ac,#0000a7,#0000a6,#0000a7,#0000a9,#0000ae,#0000b2,#0000b6,#0000bd,#0000d0,#0000d8,#0000c7,#0000bf,#0000ba,#0000c0,#0000dc,#0000e0,#0000d7,#0000c4,#0000bd,#0000c5,#0000d7,#0000ce,#0000be,#0000be,#0000cb,#00d,#0000d6,#0000bf,#0000b8,#0000ba,#0000bc,#0000c3,#0000cd,#0000e9,#000bff,#000dff,#000dff)"></div>
<div class="r r2" style="background:linear-gradient(90deg,#0000d9,#0000d9,#0000df,#0000d8,#0000d5,#0000db,#0000d7,#0000d6,#0000cf,#0000c6,#0000c5,#0000e4,#0000f4,#0000e9,#0000f8,#0000fe,#0000e6,#0000d7,#0000d6,#0000ca,#0000cb,#0000d8,#0000d6,#0000cb,#0000ba,#0000c8,#0000c9,#0000b7,#0000b1,#0000ad,#00009c,#0000a3,#0000c0,#0000ce,#0000c6,#0000c5,#0000c2,#0000c1,#0000c0,#0000d4,#0000ea,#0000c8,#0000c1,#0000c4,#0000c9,#0000da,#0000ec,#0000d4,#0000da,#0000ea,#0000d6,#0000cd,#0000de,#0000e3,#0000cd,#0000cb,#0000c8,#0000c0,#0000c0,#0000b8,#0000b1,#0000c9,#0000d6,#0000d3,#0000d2,#0000c6,#0000d3,#0000cf,#0000ac,#00009b,#000098,#00009e,#00a,#0000c6,#0000b8,#0000b8,#0000d5,#0000c8,#0000bc,#0000cb,#0000bc,#0000d3,#00c,#0000c1,#0000ca,#0000e2,#0007ff,#0007ff)"></div>
<div class="r r2" style="background:linear-gradient(90deg,#0000d4,#0000d4,#0000de,#0000d8,#0000d6,#0000db,#0000d8,#0000d7,#0000d2,#0000c7,#0000c4,#0000de,#00e,#0000de,#0000ed,#0000f1,#0000de,#0000d1,#0000d1,#0000cb,#0000ce,#0000d3,#0000cd,#0000cb,#0000b6,#0000c2,#0000c5,#0000b4,#0000a9,#0000a4,#00009e,#0000a8,#0000c4,#0000d1,#0000c8,#0000c5,#0000c2,#0000c1,#0000c1,#0000cb,#0000e2,#0000cb,#0000c2,#0000c4,#0000c7,#00c,#0000da,#0000c9,#0000d1,#0000e4,#0000da,#0000d5,#0000e4,#0000df,#00c,#0000c8,#0000c1,#0000b7,#0000b3,#0000ae,#0000a7,#0000ba,#0000c8,#0000c0,#0000bc,#0000b2,#0000bf,#0000c2,#0000a4,#000092,#000087,#00008b,#00009d,#0000b8,#0000ac,#0000b4,#0000ca,#0000c0,#0000b7,#0000c1,#00b,#0000d2,#0000cd,#0000c9,#0000d4,#0000e7,#0000fe,#0000fe)"></div>
<div class="r r2" style="background:linear-gradient(90deg,#0000c8,#0000c8,#0000d5,#0000d1,#0000cf,#0000d4,#0000d2,#0000d3,#0000d3,#0000c2,#0000bd,#0000ce,#0000dc,#00c,#0000db,#0000de,#0000d3,#0000c6,#0000c4,#0000c0,#0000c1,#0000be,#0000b6,#0000be,#00a,#0000b5,#0000bd,#0000b0,#0000a4,#0000a3,#0000a5,#0000b2,#0000ca,#0000d9,#0000ce,#0000c7,#0000c4,#0000c3,#0000c3,#0000c3,#0000d7,#0000d4,#00c,#0000c7,#0000c3,#0000b8,#0000be,#0000b4,#0000bc,#0000ce,#0000cf,#0000cf,#0000d9,#00c,#0000c2,#0000be,#0000b8,#0000b0,#00a,#0000a5,#00009e,#0000ab,#0000b5,#0000ab,#0000a6,#00009f,#0000ac,#0000b7,#0000a2,#000095,#000080,#000081,#00009b,#0000ac,#0000a2,#0000b1,#0000bc,#0000b6,#0000b1,#0000b4,#0000bd,#0000ce,#0000cb,#0000cf,#0000dc,#0000e9,#00e,#00e)"></div>
<div class="r r2" style="background:linear-gradient(90deg,#0000ad,#0000ad,#0000b8,#0000b5,#0000b5,#0000bd,#0000bf,#0000c3,#0000c6,#0000b6,#0000ae,#0000b6,#0000be,#0000b3,#0000c1,#0000c5,#0000c5,#0000b8,#0000b4,#0000af,#0000ad,#0000a4,#00009d,#00a,#00009e,#0000a6,#0000b2,#0000ad,#0000a7,#0000ab,#0000b2,#0000bf,#0000d2,#0000e1,#0000d7,#0000ce,#0000cb,#0000ca,#0000c9,#0000c4,#0000cf,#0000d8,#0000d2,#0000c5,#0000b7,#0000a4,#00009f,#00009a,#0000a1,#0000b1,#0000ba,#0000c1,#0000c4,#0000b7,#0000b3,#0000b2,#0000af,#0000ac,#0000a5,#0000a1,#00009a,#0000a1,#0000a8,#0000a1,#00009f,#0000a1,#0000a7,#0000b7,#0000ab,#0000a4,#00008c,#00008a,#0000a3,#0000a5,#00009b,#0000ac,#00a,#0000a9,#0000a6,#0000a8,#0000b7,#0000c3,#0000c4,#0000cd,#0000d9,#0000df,#0000d5,#0000d5)"></div>
<div class="r r2" style="background:linear-gradient(90deg,#00008f,#00008f,#000095,#000092,#000093,#00009b,#0000a1,#0000a8,#0000ad,#0000a1,#009,#00009b,#0000a0,#00009a,#0000a5,#0000ab,#0000b0,#0000a7,#0000a3,#0000a0,#00009e,#000096,#000093,#0000a1,#00009c,#0000a1,#0000ac,#0000ac,#0000a8,#0000ac,#0000b3,#0000bc,#0000c8,#0000d6,#0000d1,#0000cb,#0000ca,#0000cb,#0000ca,#0000c4,#0000c8,#0000cf,#0000c7,#0000b8,#0000a8,#000095,#00008f,#00008c,#000093,#0000a0,#0000ac,#0000b6,#0000b6,#0000ae,#0000ad,#0000ad,#0000ad,#0000ad,#0000a8,#0000a6,#0000a2,#0000a5,#00a,#0000a7,#0000a8,#00a,#0000af,#0000be,#0000bd,#0000bc,#0000a8,#0000a4,#0000b2,#00a,#00009d,#0000a7,#0000a0,#0000a0,#0000a0,#0000a3,#0000b3,#00b,#00b,#0000c1,#0000c7,#0000c7,#0000ba,#0000ba)"></div>
<div class="r r2" style="background:linear-gradient(90deg,#000082,#000082,#000084,#000081,#000081,#008,#00008e,#000095,#00009c,#000094,#00008f,#00008f,#000092,#00008f,#000098,#00009e,#0000a4,#0000a0,#00009f,#00009e,#00009d,#009,#009,#0000a4,#0000a2,#0000a5,#0000ac,#00a,#0000a6,#0000a6,#00a,#0000af,#0000b8,#0000c4,#0000c3,#0000c1,#0000c3,#0000c5,#0000c5,#0000bf,#0000bf,#0000c1,#0000b7,#0000a9,#00009a,#00008d,#008,#000087,#00008c,#000098,#0000a4,#0000af,#0000b2,#0000b0,#0000b2,#0000b3,#0000b4,#0000b4,#0000b2,#0000b1,#0000ae,#0000af,#0000b2,#0000af,#0000af,#0000b1,#0000b7,#0000c5,#0000ca,#00c,#0000c0,#0000bc,#0000c2,#0000b8,#00a,#0000ae,#0000a7,#0000a6,#0000a7,#0000ab,#0000b7,#0000bc,#0000ba,#00b,#0000bc,#0000b9,#0000ae,#0000ae)"></div>
<div class="r r4" style="background:linear-gradient(90deg,#00008a,#00008a,#000087,#00008e,#00009a,#000098,#000098,#00009c,#0000a9,#0000ad,#0000b0,#0000b1,#0000b7,#0000b6,#0000af,#0000a8,#0000ab,#0000b5,#0000b8,#00b,#0000b5,#0000ae,#00009a,#00008b,#00008c,#00009d,#0000b1,#0000ba,#0000c0,#0000c1,#0000bc,#0000b8,#0000b1,#0000b5,#0000c8,#0000cf,#0000cf,#0000c7,#0000be,#0000b9,#0000be,#0000c1,#00b,#0000b3,#0000b3)"></div>
<div class="r r4" style="background:linear-gradient(90deg,#0000a4,#0000a4,#0000a2,#0000a5,#0000ac,#0000a9,#0000ab,#0000af,#0000b9,#0000be,#0000c5,#0000c9,#0000d1,#0000cd,#0000c1,#0000b4,#0000b1,#0000b2,#0000af,#0000b0,#0000ad,#0000ac,#00009f,#000098,#009,#0000a8,#0000bd,#0000c6,#0000d0,#0000d1,#0000ca,#0000c2,#0000b9,#0000ba,#00c,#0000d5,#0000dc,#0000dc,#0000d4,#00c,#0000cb,#0000c8,#0000c0,#0000ba,#0000ba)"></div>
<div class="r r4" style="background:linear-gradient(90deg,#0000c0,#0000c0,#0000c0,#0000c0,#0000c2,#0000bc,#00b,#0000bd,#0000c4,#0000ca,#0000d2,#0000d7,#0000e1,#0000df,#0000d6,#0000c7,#0000c1,#0000b9,#0000b0,#0000ae,#0000ac,#0000ae,#0000a8,#0000a8,#0000ac,#0000bc,#0000d1,#0000db,#0000e9,#0000ec,#0000e6,#0000e0,#0000d7,#0000d8,#0000e7,#0000ea,#0000f2,#0000f4,#0000e9,#0000df,#0000d8,#0000d0,#0000c8,#0000c0,#0000c0)"></div>
<div class="r r4" style="background:linear-gradient(90deg,#0000d9,#0000d9,#0000d9,#0000d6,#0000d0,#0000c6,#0000c2,#0000c2,#0000c6,#0000cd,#0000d6,#0000dc,#0000e8,#0000eb,#0000e7,#0000db,#0000d4,#0000c5,#0000b8,#0000b2,#0000b0,#0000b1,#0000ae,#0000b3,#00b,#0000ca,#0000e0,#0000eb,#0000fa,#0000fe,#0000fc,#0000f9,#0000f6,#0000f8,#0003ff,#0004ff,#0008ff,#000aff,#0000fa,#00e,#0000e4,#0000d8,#0000ce,#0000c1,#0000c1)"></div>
<div class="r r4" style="background:linear-gradient(90deg,#0000e1,#0000e1,#0000df,#0000d7,#0000ca,#0000bd,#0000b7,#0000b6,#0000b9,#0000c1,#0000cb,#0000d3,#0000e1,#0000e7,#0000e9,#0000e1,#0000db,#0000c9,#0000bc,#0000b2,#0000af,#0000ae,#0000ac,#0000b3,#00b,#0000c6,#0000d6,#00d,#0000e7,#0000e8,#0000e5,#0000e4,#0000e3,#0000e8,#00e,#0000ef,#0000f3,#0000f7,#0000eb,#0000e3,#0000db,#0000d1,#0000c9,#0000ba,#0000ba)"></div>
<div class="r r4" style="background:linear-gradient(90deg,#0000d7,#0000d7,#0000d1,#0000c8,#0000b8,#0000ab,#0000a5,#0000a3,#0000a5,#0000ad,#0000b8,#0000bf,#0000ce,#0000d6,#0000db,#0000d6,#0000d2,#0000c2,#0000b6,#0000ad,#0000a9,#0000a7,#0000a6,#0000ae,#0000b5,#0000bd,#0000c9,#00c,#0000d1,#0000cf,#0000cb,#0000ca,#0000c9,#00c,#0000d0,#0000d0,#0000d4,#0000d9,#0000d1,#0000ce,#0000ca,#0000c3,#0000be,#0000b1,#0000b1)"></div>
</div>
<div class="k" style="left:63.1px;top:41.8px;width:1px;height:5px"></div><div class="k" style="left:63.1px;top:537.8px;width:1px;height:5px"></div><div class="xl" style="left:46.4px">0</div>
<div class="k" style="left:110.5px;top:41.8px;width:1px;height:5px"></div><div class="k" style="left:110.5px;top:537.8px;width:1px;height:5px"></div><div class="xl" style="left:93.8px">0.5</div>
<div class="k" style="left:157.9px;top:41.8px;width:1px;height:5px"></div><div class="k" style="left:157.9px;top:537.8px;width:1px;height:5px"></div><div class="xl" style="left:141.2px">1</div>
<div class="k" style="left:205.3px;top:41.8px;width:1px;height:5px"></div><div class="k" style="left:205.3px;top:537.8px;width:1px;height:5px"></div><div class="xl" style="left:188.7px">1.5</div>
<div class="k" style="left:252.8px;top:41.8px;width:1px;height:5px"></div><div class="k" style="left:252.8px;top:537.8px;width:1px;height:5px"></div><div class="xl" style="left:236.1px">2</div>
<div class="k" style="left:300.2px;top:41.8px;width:1px;height:5px"></div><div class="k" style="left:300.2px;top:537.8px;width:1px;height:5px"></div><div class="xl" style="left:283.5px">2.5</div>
<div class="k" style="left:347.6px;top:41.8px;width:1px;height:5px"></div><div class="k" style="left:347.6px;top:537.8px;width:1px;height:5px"></div><div class="xl" style="left:330.9px">3</div>
<div class="k" style="left:58.6px;top:46.3px;width:5px;height:1px"></div><div class="k" style="left:348.1px;top:46.3px;width:5px;height:1px"></div><div class="k" style="left:58.6px;top:100.9px;width:5px;height:1px"></div><div class="k" style="left:348.1px;top:100.9px;width:5px;height:1px"></div><div class="k" style="left:58.6px;top:155.4px;width:5px;height:1px"></div><div class="k" style="left:348.1px;top:155.4px;width:5px;height:1px"></div><div class="k" style="left:58.6px;top:210.0px;width:5px;height:1px"></div><div class="k" style="left:348.1px;top:210.0px;width:5px;height:1px"></div><div class="k" style="left:58.6px;top:264.5px;width:5px;height:1px"></div><div class="k" style="left:348.1px;top:264.5px;width:5px;height:1px"></div><div class="k" style="left:58.6px;top:319.1px;width:5px;height:1px"></div><div class="k" style="left:348.1px;top:319.1px;width:5px;height:1px"></div><div class="k" style="left:58.6px;top:373.6px;width:5px;height:1px"></div><div class="k" style="left:348.1px;top:373.6px;width:5px;height:1px"></div><div class="k" style="left:58.6px;top:428.2px;width:5px;height:1px"></div><div class="k" style="left:348.1px;top:428.2px;width:5px;height:1px"></div><div class="k" style="left:58.6px;top:482.7px;width:5px;height:1px"></div><div class="k" style="left:348.1px;top:482.7px;width:5px;height:1px"></div><div class="k" style="left:58.6px;top:537.3px;width:5px;height:1px"></div><div class="k" style="left:348.1px;top:537.3px;width:5px;height:1px"></div><div class="b" style="left:116.1px;top:566px;width:200px">Time (s)</div>
<div class="t" style="left:352.2px">Diameter 300 µm</div>
<div class="p" style="left:358.6px;top:46.8px;width:284.3px;height:491.0px">
<div class="r" style="background:linear-gradient(90deg,#0000c3,#0000c3,#0000ce,#0000d4,#0000b8,#000bff,#00a,#0000ba,#0004ff,#0000c2,#0000b6,#0000e9,#0000d8,#00d,#0000ab,#0000e4,#0000b2,#0000cb,#0000bd,#00a,#0000c4,#0005ff,#0000d0,#0000bd,#0000ab,#0000d3,#0000c4,#0000b5,#00009c,#0000b4,#0000e5,#00009b,#00009f,#0000ae,#0000d7,#0000fc,#0000d1,#0000a4,#0000c7,#0000c5,#0000b1,#00009a,#0000cb,#0000c1,#00c,#0000a2,#0000a7,#0000d8,#0000d2,#0000ad,#0000f2,#0000b7,#0000ae,#00009c,#0000b7,#0000c1,#0000bf,#0000b7,#0000df,#0000da,#0000f2,#0000b7,#0000b7,#0000bc,#0000b4,#0000b2,#0000db,#0000cf,#0000c4,#0000c8,#0000be,#0000b4,#0000b8,#0000b7,#0000ac,#0000b2,#0000e4,#0000be,#0000db,#0000ca,#0000b5,#0000c4,#0000c6,#0000ae,#0000d0,#0000a7,#0000bd,#0000b4,#0000c1,#00d,#0000d9,#0000f9,#0000c0,#000aff,#00b,#0000c1,#0000c8,#0000c4,#0000c8,#0000ba,#0000ac,#0000d1,#0000af,#0000b9,#0000b6,#0000e6,#0000e9,#0008ff,#0000b4,#0000bd,#0000b1,#0000cf,#0000b9,#0000f5,#00d,#0000bc,#0000a5,#0000b3,#0000d0,#0000b1,#0000b2,#0000b9,#0000b4,#0000bd,#0000d6,#0000f3,#0000b5,#0000b3,#0000d3,#0000b5,#0000ba,#0000d6,#0000bd,#0000db,#0000c2,#0000e1,#000eff,#0000d9,#0000bd,#0000d1,#0000ab,#0000d5,#0000d3,#0000bc,#0000f3,#0000ec,#0000b6,#0000bc,#0000b5,#0000b8,#0000ce,#0000b0,#0000d1,#0000b2,#0000d5,#0000b8,#0000b3,#0000b4,#0000c8,#0000bd,#0000bd,#0000be,#0000b1,#0000be,#0000b0,#0000d4,#0000c6,#0000bd,#0000af,#0000bc,#0000b4,#0000d2,#0000b6,#0000b6)"></div>
<div class="r" style="background:linear-gradient(90deg,#0000c4,#0000c4,#0000d0,#0000d0,#0000ba,#0005ff,#0000a9,#0000bd,#000bff,#0000c8,#0000b4,#0000e7,#0000d8,#00d,#0000ac,#0000e7,#0000b2,#0000c9,#0000bc,#0000a8,#0000c3,#0007ff,#0000d4,#0000bf,#0000ae,#0000d5,#0000c1,#0000b3,#00009f,#0000ce,#0024ff,#00009f,#0000a4,#0000b3,#0000d2,#0000ec,#0000cf,#0000a9,#0000c8,#0000c7,#0000b7,#0000a2,#0000d0,#0000c6,#0000d3,#0000a5,#0000ab,#0000db,#0000d5,#0000b3,#0000f2,#0000c0,#0000b2,#00009f,#0000b6,#0000bd,#0000bf,#0000b5,#0000e2,#00d,#0000f5,#00b,#0000b5,#0000be,#0000b4,#0000ae,#0000dc,#0000ce,#0000c1,#0000c6,#0000be,#0000b4,#0000b5,#0000b8,#0000ab,#0000ad,#0000e3,#0000c0,#0000d6,#0000ca,#0000b4,#0000c2,#0000be,#0000ad,#00c,#0000a5,#0000bc,#0000b3,#0000c2,#00d,#0000db,#0000f9,#0000c1,#000bff,#00b,#0000c1,#0000ca,#0000c5,#0000cb,#0000b3,#0000a9,#0000d4,#0000b1,#0000b7,#00b,#0000e6,#0000e0,#0006ff,#0000b4,#0000be,#0000b2,#0000d0,#0000b7,#0000f2,#0000da,#0000bf,#0000a2,#0000b8,#0000d2,#0000b1,#0000b5,#0000ba,#0000b7,#0000c2,#0000d3,#0000f0,#0000b3,#0000b3,#0000cf,#0000b6,#0000ba,#0000dc,#00b,#0000d7,#0000c3,#0000e1,#000eff,#0000d7,#0000be,#0000cf,#0000a5,#0000d5,#0000d6,#0000c0,#0000f3,#0000ec,#0000b6,#0000bc,#0000b2,#0000b8,#0000ce,#0000af,#0000d2,#0000b5,#0000d5,#0000b7,#0000b2,#0000b3,#0000c7,#00b,#0000bf,#0000bf,#0000b1,#0000bf,#0000b3,#0000d9,#0000c7,#0000bf,#0000b1,#0000b9,#0000b5,#0000d1,#0000b5,#0000b5)"></div>
<div class="r" style="background:linear-gradient(90deg,#0000c8,#0000c8,#0000d4,#0000c9,#00b,#0000f0,#00a,#0000bf,#01f,#0000d7,#0000b4,#0000e4,#0000de,#0000da,#0000ad,#0000ec,#0000b6,#0000c2,#0000bf,#0000a9,#0000cb,#0009ff,#0000d9,#0000c3,#0000be,#0000f3,#0000e5,#0000df,#0000d6,#00f,#005bff,#0000e4,#0000ec,#0000c6,#0000d1,#0000ed,#0000f5,#0000ec,#0000f6,#0000f6,#0000f2,#0000e9,#0002ff,#0000fd,#0004ff,#0000cf,#0000b0,#0000de,#0000cf,#0000b9,#0000ed,#0000ca,#0000b5,#0000a6,#0000b3,#0000ba,#0000c0,#0000b3,#0000eb,#0000ed,#0000fa,#0000bf,#0000b5,#0000be,#0000b3,#0000a8,#0000d7,#0000cb,#0000bc,#0000c2,#0000c0,#0000b7,#0000b3,#0000b7,#0000a9,#00a,#0000e0,#0000c6,#0000c4,#0000c6,#0000b4,#0000bf,#0000b0,#00a,#0000c2,#0000a3,#0000c0,#0000b5,#0000c7,#0000d2,#0000de,#0000fb,#0000bf,#000bff,#0000b8,#0000c0,#0000c9,#0000c7,#0000d2,#00a,#0000a8,#0000da,#0000b6,#0000b5,#0000bf,#0000e4,#0000d3,#0000fc,#0000b4,#0000bf,#0000b9,#0000d1,#0000b7,#0000f1,#0000d9,#0000c3,#00009f,#00b,#0000d1,#0000b3,#0000ba,#0000bd,#0000c0,#0000d7,#0000cd,#0000e9,#0000af,#0000b1,#0000c6,#0000b6,#0000b9,#0000e2,#0000ba,#0000ca,#0000c3,#0000da,#000eff,#0000d2,#0000c5,#0000c4,#00009e,#0000d2,#0000e0,#0000c9,#0000f7,#0000eb,#00b,#0000c2,#0000b0,#00b,#0000d1,#0000af,#0000de,#0000ba,#0000d5,#0000b8,#0000b3,#0000b3,#0000ca,#0000ba,#0000c4,#0000c2,#0000ae,#0000c1,#0000b3,#0000e4,#0000c8,#0000c1,#0000b1,#0000b6,#0000b2,#0000c5,#0000b5,#0000b5)"></div>
<div class="r" style="background:linear-gradient(90deg,#0000ce,#0000ce,#0000d8,#0000bc,#0000ba,#0000c9,#0000ae,#0000c3,#0016ff,#0000e9,#0000b9,#0000db,#0000e5,#0000d2,#0000ae,#0000ef,#00b,#0000bf,#0000c8,#00a,#0000d3,#0009ff,#0000d3,#0000c0,#00c,#0016ff,#0010ff,#000fff,#000dff,#002fff,#0093ff,#0014ff,#001aff,#0000f0,#0000eb,#0000f9,#0007ff,#0024ff,#002bff,#002aff,#0021ff,#000dff,#003aff,#0030ff,#0041ff,#0000d3,#0000b9,#0000e0,#0000c2,#0000c1,#0000e0,#0000d5,#0000ba,#0000b1,#0000b2,#0000b8,#0000c0,#0000b1,#0000f3,#0005ff,#0000f9,#0000c9,#0000b7,#0000be,#0000ae,#0000a7,#0000ca,#0000c7,#0000b4,#0000bf,#0000c5,#0000bf,#0000b0,#0000b6,#0000a8,#0000a9,#0000d8,#0000d1,#0000b5,#0000be,#0000b5,#0000ba,#0000a7,#0000a9,#0000b7,#0000a0,#0000cb,#0000c9,#0000ce,#0000bf,#0000df,#0000fb,#00b,#0006ff,#0000b5,#0000c0,#0000c6,#0000c8,#00d,#0000a4,#0000ac,#0000e3,#00b,#0000b2,#0000bf,#0000dc,#0000bd,#0000e5,#0000b4,#0000bf,#0000c4,#0000d0,#0000ba,#0000ed,#0000d7,#0000d5,#00009e,#0000bc,#0000c9,#00b,#0000bf,#0000c5,#00c,#0000f6,#0000c4,#0000d8,#0000ac,#0000af,#0000b5,#0000b4,#0000b8,#0000e2,#00b,#0000ba,#0000c3,#0000cd,#0000fe,#0000c9,#0000d1,#00b,#000097,#0000c8,#0000ef,#0000d5,#0000f9,#0000e2,#00c,#00d,#0000af,#0000ce,#0000d9,#0000b5,#0000f1,#0000c2,#0000d4,#0000bd,#0000b8,#0000b4,#0000d3,#0000bd,#0000d4,#0000c7,#00a,#0000c5,#0000b6,#0000f3,#0000c8,#0000c5,#0000b0,#0000b5,#0000b2,#0000bc,#0000b5,#0000b5)"></div>
<div class="r" style="background:linear-gradient(90deg,#0000d1,#0000d1,#0000d7,#0000b3,#0000b8,#00a,#0000b5,#0000cd,#0004ff,#0000f6,#0000c4,#0000cb,#0000e6,#0000c5,#0000b1,#0000eb,#0000bf,#00b,#0000d3,#0000a4,#0000c5,#0000fd,#0000e2,#0000da,#0000f3,#004eff,#004cff,#004cff,#0051ff,#00bfff,#00c5ff,#0082ff,#003fff,#0023ff,#0017ff,#001aff,#0036ff,#003fff,#0041ff,#0041ff,#04f,#004eff,#0069ff,#006dff,#006bff,#0024ff,#01f,#0018ff,#000eff,#01f,#0000ca,#0000bc,#009,#0000a8,#0000ab,#0000b7,#0000bf,#0000b0,#0000f3,#0005ff,#0000eb,#0000d9,#0000b8,#0000bc,#0000ab,#0000a8,#0000be,#0000bf,#0000ac,#0000bc,#0000c8,#0000d4,#0000b0,#0000b6,#0000a8,#0000ad,#0000cd,#0000db,#0000b0,#0000bd,#0000b8,#0000b7,#0000a2,#0000ae,#0000b3,#0000a2,#0000d5,#0000ec,#0000d3,#0000b5,#0000db,#0000f1,#0000b8,#0000f6,#0000b3,#0000bf,#0000c1,#0000c7,#0000e5,#0000a0,#0000b4,#0000e7,#0000bf,#0000b0,#0000be,#0000ce,#0000b6,#0000c3,#0000b4,#0000bd,#00c,#0000c8,#0000c3,#0000e0,#0000d2,#0000ed,#0000a2,#0000bd,#0000c0,#0000ca,#0000ca,#0000d9,#0000e0,#000bff,#0000b9,#0000c1,#0000ac,#0000ae,#0000a9,#0000af,#0000b8,#0000db,#0000c2,#0000b2,#0000c6,#0000ca,#0000de,#0000bd,#0000db,#0000b3,#000095,#0000ba,#0000f9,#0000de,#0000f0,#0000d1,#0000e2,#0000f6,#0000b0,#0000e5,#0000e0,#0000be,#0000fd,#0000dc,#0000ce,#0000d1,#0000c4,#0000b6,#0000db,#0000c9,#0000e1,#0000c9,#0000ae,#0000d2,#0000bc,#0000fb,#0000c4,#0000d2,#0000b2,#0000b7,#0000b2,#0000b2,#0000b7,#0000b7)"></div>
<div class="r" style="background:linear-gradient(90deg,#0000d2,#0000d2,#0000d4,#0000b2,#0000b5,#0000a1,#0000b8,#0000d2,#0000e0,#0000f9,#0000cb,#0000bd,#0000e4,#0000bd,#0000b6,#0000e4,#0000c2,#0000b7,#0000dc,#0000ae,#0000cd,#0000eb,#0019ff,#0018ff,#0028ff,#0064ff,#0063ff,#0064ff,#0071ff,#97ff68,#b2ff4d,#a4ff5b,#4cffb3,#0059ff,#003eff,#002fff,#04f,#0061ff,#00dbff,#00c6ff,#005eff,#0084ff,#00d4ff,#00fdff,#00fdff,#0068ff,#0040ff,#0042ff,#0039ff,#003fff,#0000d7,#0000bc,#009,#0000bc,#0000b0,#0000b8,#00b,#0000ad,#0000ea,#0003ff,#0000da,#0000de,#0000b6,#0000b7,#0000a9,#00a,#0000bf,#0000ba,#0000a6,#0000b6,#0000c7,#0000e5,#0000b3,#0000b8,#0000ac,#0000b5,#0000c7,#0000e2,#0000b1,#0000bf,#0000be,#00b,#0000a5,#0000b5,#0000b3,#00a,#0000da,#0002ff,#0000d5,#0000ad,#0000d5,#0000e7,#0000b9,#0000e7,#0000b3,#0000ba,#0000c1,#0000c7,#0000e7,#0000a2,#0000be,#0000e5,#0000be,#0000ae,#0000bd,#0000c4,#0000b4,#0000b7,#0000b7,#0000bd,#0000cf,#0000be,#0000cf,#0000d4,#00c,#0000f7,#00a,#0000c3,#0000be,#0000d5,#0000d5,#0000e6,#0000ec,#0006ff,#0000b3,#0000b7,#0000ad,#0000af,#0000a6,#0000ab,#0000b7,#0000d1,#0000ca,#0000b0,#0000c8,#0000c5,#0000c6,#00b,#0000df,#0000ac,#009,#0000b5,#0000fb,#0000e0,#0000e3,#0000c3,#0000ea,#0002ff,#0000b4,#0000f3,#0000e4,#0000c7,#00f,#0000ef,#0000cb,#0000e4,#0000cb,#0000b9,#0000e3,#00d,#0000e5,#0000c8,#0000ae,#0000de,#0000bf,#0000fa,#0000be,#0000d8,#0000b6,#0000ba,#0000b1,#0000ac,#00b,#00b)"></div>
<div class="r" style="background:linear-gradient(90deg,#0000d3,#0000d3,#0000d1,#0000b0,#0000b1,#0000a0,#0000b8,#0000d2,#0000d1,#0000fb,#0000ce,#0000b7,#0000e6,#00b,#0000b8,#0000de,#0000c3,#0000b4,#0000e3,#0000b7,#0000d4,#0000eb,#002fff,#0030ff,#0042ff,#007cff,#007bff,#007cff,#008bff,#cdff32,#fffd00,#ff4d00,#ff6200,#00d5ff,#007fff,#006fff,#0085ff,#00a3ff,#1effe1,#1cffe3,#00b2ff,#00b4ff,#1bffe4,#2fd,#12ffed,#006eff,#0063ff,#0063ff,#005bff,#0061ff,#0000fc,#0000cf,#0000b0,#0000d3,#00b,#0000b9,#0000b5,#0000a8,#0000e1,#0001ff,#0000d0,#00d,#0000b0,#0000af,#0000a6,#0000ab,#0000c1,#0000b8,#0000a4,#0000ae,#0000c0,#0000e8,#0000b4,#00b,#0000b1,#0000bd,#0000c6,#0000e6,#0000b4,#0000c2,#0000c2,#0000c0,#0000ac,#0000b9,#0000b4,#0000b0,#0000de,#000cff,#0000d7,#0000a9,#0000d4,#0000e5,#00b,#0000e0,#0000b2,#0000b4,#0000bf,#0000c6,#0000e4,#0000a4,#0000c6,#0000e4,#0000ba,#0000ac,#0000bd,#0000c0,#0000b0,#0000b1,#0000bd,#0000bf,#0000d1,#0000ba,#0000d2,#0000cf,#0000c9,#0000fb,#0000b4,#0000c9,#0000bd,#0000dc,#0000dc,#0000ea,#0000e9,#0003ff,#0000b4,#0000b6,#0000b0,#0000b1,#0000a6,#00a,#0000b4,#0000c8,#0000cf,#0000b6,#0000c6,#0000bd,#0000bd,#0000b9,#0000e1,#00a,#0000a1,#0000b9,#0000fc,#0000df,#0000d8,#00b,#0000e7,#0001ff,#0000b9,#0000f7,#0000e3,#0000cf,#0002ff,#0000f5,#0000ca,#0000ea,#00c,#0000bc,#0000e8,#0000e7,#0000e5,#0000c5,#0000ab,#0000de,#0000be,#0000fa,#00b,#0000d7,#0000b9,#0000be,#0000b1,#0000ae,#0000c0,#0000c0)"></div>
<div class="r" style="background:linear-gradient(90deg,#0000d4,#0000d4,#0000ce,#0000ad,#0000ae,#0000a3,#0000b6,#0000ce,#0000d0,#0000fe,#0000cf,#0000b3,#0000ea,#0000bc,#0000b7,#0000da,#0000c4,#0000b4,#0000e6,#0000bd,#0000dc,#0000f2,#002eff,#0030ff,#0038ff,#0067ff,#008cff,#008cff,#00e6ff,#ffaf00,#ff9a00,#ff3200,#ff3100,#5fffa0,#00afff,#07f,#008dff,#009bff,#00edff,#00e2ff,#00baff,#00e1ff,#24ffdb,#29ffd6,#1fffe0,#009fff,#0095ff,#0074ff,#005bff,#0061ff,#0008ff,#0000dc,#0000c3,#0000de,#0000c3,#0000ba,#0000b0,#0000a2,#0000de,#0003ff,#0000d1,#0000da,#00a,#0000a9,#0000a2,#0000a9,#0000c0,#0000b9,#0000a2,#0000a7,#0000b8,#0000e4,#0000b5,#0000be,#0000b3,#0000c2,#0000c7,#0000e9,#0000b4,#0000c3,#0000c5,#0000c4,#0000b2,#00b,#0000b4,#0000b3,#0000e2,#01f,#0000dc,#0000ab,#0000d6,#0000e9,#0000bf,#00d,#0000b1,#0000af,#00b,#0000c0,#00d,#0000a4,#0000c9,#0000e4,#0000b7,#00a,#0000bd,#0000bd,#00a,#0000ae,#0000c1,#0000c2,#0000d4,#0000bd,#0000d3,#0000d1,#0000ca,#0000fc,#0000ba,#0000cd,#0000bf,#0000df,#0000df,#0000e8,#0000e3,#0003ff,#0000ba,#0000b9,#0000b4,#0000b3,#0000a9,#0000ab,#0000b0,#0000c5,#0000d3,#0000bd,#0000c2,#0000b5,#0000bd,#0000b7,#0000de,#0000ab,#0000ab,#0000c0,#0001ff,#0000df,#0000d1,#0000b8,#0000e1,#0000fb,#0000bc,#0000f3,#00d,#0000cf,#0007ff,#0000f5,#0000cb,#0000e9,#0000c9,#00b,#0000e8,#0000e7,#0000e4,#0000c3,#0000a6,#0000d8,#00b,#0000fe,#0000bc,#0000d3,#0000ba,#0000c1,#0000b4,#0000b4,#0000c3,#0000c3)"></div>
<div class="r" style="background:linear-gradient(90deg,#0000d4,#0000d4,#00c,#0000a9,#0000ae,#0000a6,#0000b7,#00c,#0000d1,#0000fc,#0000cd,#0000b9,#0000ec,#0000b8,#0000b5,#0000d4,#00c,#0000b6,#0000e1,#00b,#0000d8,#0000e8,#0016ff,#0017ff,#001dff,#004fff,#0074ff,#0074ff,#00d8ff,#f90,#fe0,#e8ff17,#e7ff18,#edff12,#009aff,#007dff,#006dff,#00d2ff,#0ffff0,#0092ff,#007dff,#0071ff,#00a8ff,#02fffd,#00fbff,#00acff,#00a2ff,#00c5ff,#00beff,#00bcff,#0019ff,#000eff,#0000fa,#0000e8,#0000c7,#00b,#0000ae,#0000a2,#0000e8,#000aff,#0000da,#0000da,#00a,#0000a9,#0000a2,#0000a7,#0000ba,#0000b2,#0000a1,#0000a6,#0000b5,#0000eb,#0000b9,#0000ca,#0000b5,#0000c3,#0000c4,#0000e4,#0000b3,#0000c1,#00c,#0000c6,#0000b5,#00b,#0000b1,#0000b4,#0000e6,#0016ff,#00e,#0000b2,#0000d5,#0000f3,#0000c1,#0000d4,#0000ac,#0000ac,#0000b2,#0000b2,#0000d3,#0000a4,#0000cf,#0000e6,#0000bc,#00a,#0000bc,#0000b9,#0000a2,#0000ab,#0000c2,#0000c3,#0000d8,#0000be,#0000d0,#0000d4,#0000cb,#0000fe,#0000be,#00c,#0000c0,#0000de,#0000e0,#0000e6,#0000dc,#0004ff,#0000c1,#0000bf,#0000b8,#0000b5,#0000b0,#0000ad,#00a,#0000c2,#0000d4,#0000c3,#0000bd,#0000b1,#0000be,#0000b4,#0000d5,#0000ac,#0000b1,#0000c6,#0008ff,#0000e4,#0000d3,#0000b8,#00d,#0000f0,#0000c0,#0000ec,#0000d2,#0000ce,#0010ff,#00e,#0000c3,#0000e6,#0000c2,#0000b8,#0000df,#0000e1,#0000e1,#0000bf,#0000a1,#0000d2,#0000b6,#00f,#0000b7,#0000cf,#0000b8,#0000c2,#0000b6,#0000b7,#0000c4,#0000c4)"></div>
<div class="r" style="background:linear-gradient(90deg,#0000d7,#0000d7,#0000ce,#0000a9,#0000b7,#0000a8,#00b,#00c,#0000cf,#00e,#0000c8,#0000d0,#0000eb,#0000b3,#0000c3,#0000cd,#00d,#0000ba,#0000d4,#0000c0,#0000da,#0000ea,#000cff,#000bff,#000fff,#0034ff,#004bff,#004bff,#005dff,#baff45,#9aff65,#23ffdc,#28ffd7,#50ffaf,#3affc5,#27ffd8,#008eff,#00e7ff,#21ffde,#06f,#0043ff,#04f,#0069ff,#009bff,#0078ff,#0027ff,#0029ff,#0053ff,#004aff,#0039ff,#0000d1,#0000eb,#0000cf,#0000ec,#0000c7,#0000be,#0000b0,#0000ab,#0002ff,#01f,#0000ea,#0000dc,#0000b3,#0000b2,#0000a7,#0000a5,#0000ae,#0000ab,#0000a1,#0000b0,#0000b8,#0004ff,#0000c1,#0000df,#00b,#0000c3,#0000be,#0000d2,#0000b3,#0000c0,#0000e6,#0000c5,#0000b9,#00b,#0000b1,#0000b4,#0000e3,#0012ff,#000dff,#0000bd,#0000ce,#0004ff,#0000c7,#0000c2,#0000a3,#0000a7,#0000a5,#0000a3,#0000c4,#0000a9,#0000db,#0000e8,#0000c9,#0000ad,#0000ba,#0000b5,#00009d,#0000a8,#0000be,#0000c4,#0000d9,#0000b8,#0000c6,#0000d7,#0000cb,#0000fc,#0000c0,#0000c9,#0000c2,#0000da,#0000e1,#0000e3,#0000d1,#0007ff,#0000ca,#0000c7,#0000be,#0000b9,#0000bd,#0000b3,#0000a5,#0000bf,#0000cd,#0000c6,#0000b8,#0000b1,#0000c9,#0000b4,#0000c4,#0000ae,#0000b4,#0000c6,#000dff,#0000ed,#0000e0,#0000be,#0000db,#0000da,#0000d1,#0000e0,#0000c1,#0000d2,#0016ff,#00d,#0000bc,#0000e0,#0000b9,#0000b8,#0000cf,#0000d9,#0000d7,#0000b7,#00009f,#0000d1,#0000b1,#0000f6,#0000b0,#0000c7,#0000b3,#0000c2,#0000b7,#0000b3,#0000c9,#0000c9)"></div>
<div class="r" style="background:linear-gradient(90deg,#0000db,#0000db,#0000d3,#0000ae,#0000c3,#0000ad,#0000be,#0000c9,#0000ca,#0000cd,#0000be,#0000ed,#0000e0,#0000ac,#0000da,#0000c4,#0000ec,#0000c0,#0000c6,#0000cf,#0000d8,#00d,#0000df,#00f,#0002ff,#0005ff,#0002ff,#0004ff,#0016ff,#00bfff,#00d1ff,#009fff,#00aeff,#00cdff,#00baff,#009eff,#008dff,#00b9ff,#00d8ff,#0048ff,#002bff,#002bff,#002dff,#005fff,#0059ff,#001aff,#0012ff,#0020ff,#0019ff,#0000d3,#0000d4,#0000e9,#0000c9,#0000e8,#0000c3,#0000c0,#0000b5,#0000b9,#0017ff,#0000fe,#0000f8,#0000db,#0000c3,#0000ca,#0000b3,#0000a2,#0000a4,#0000a3,#0000a5,#0000d0,#0000c3,#000dff,#0000cd,#0000f6,#0000c6,#0000c1,#0000b5,#00b,#0000b7,#0000bf,#0005ff,#0000bf,#0000be,#0000bd,#0000b4,#0000b6,#0000d5,#0000f8,#001cff,#0000c7,#0000c8,#000dff,#0000d9,#0000b2,#009,#0000b3,#009,#000097,#0000b0,#0000b2,#0000e7,#0000e5,#0000db,#0000b4,#0000b7,#0000b5,#00009e,#0000a8,#0000bc,#0000c7,#0000d2,#0000b7,#0000bd,#0000d2,#0000c4,#0000ef,#0000c1,#0000c4,#0000c4,#0000d2,#0000de,#0000db,#0000be,#0009ff,#0000d3,#0000d1,#0000c6,#0000bd,#0000df,#0000bc,#0000a5,#0000b6,#0000c0,#0000cf,#0000b3,#0000b4,#0000d5,#00b,#0000b0,#0000b3,#0000af,#0000be,#0004ff,#0000f2,#0000f2,#00c,#0000d5,#0000b9,#0000e9,#00c,#0000b5,#0000d8,#0015ff,#0000be,#0000b6,#0000d1,#0000b6,#0000c6,#0000bd,#0000d1,#0000c5,#0000b5,#00a,#0000d0,#0000ac,#0000d9,#0000a7,#0000ba,#0000b0,#0000be,#0000b4,#0000ae,#0000d3,#0000d3)"></div>
<div class="r" style="background:linear-gradient(90deg,#0000de,#0000de,#0000d5,#0000b4,#0000cb,#0000b1,#0000bf,#0000c2,#0000c2,#0000ba,#0000b8,#0000fc,#0000ce,#0000a9,#0000e6,#0000c3,#0000f1,#0000c6,#0000c2,#0000e7,#0000d2,#00c,#0000c2,#0000d5,#0000d7,#0000e1,#0000d8,#0000de,#0000f6,#002cff,#0035ff,#03f,#0040ff,#0061ff,#0040ff,#004cff,#0038ff,#0039ff,#003eff,#0029ff,#0006ff,#0005ff,#0003ff,#001aff,#0000f5,#0000bf,#0000b4,#0000d4,#0000db,#0000cf,#0000ef,#0000fa,#0000e3,#0000ea,#0000c5,#0000bf,#0000b8,#0000c5,#0019ff,#0000e7,#0000fc,#0000d8,#0000d6,#0000e0,#0000c9,#0000a4,#00009f,#00009f,#0000ac,#0000e8,#0000d1,#0014ff,#0000ed,#0005ff,#0000d1,#0000c3,#0000b1,#0000b2,#0000bc,#0000c0,#01f,#0000ba,#0000c8,#0000bf,#0000b9,#0000b8,#0000c6,#0000d8,#0016ff,#0000e0,#0000c2,#0007ff,#0000e6,#0000ad,#000097,#0000be,#000097,#000093,#0000ab,#0000bf,#0000eb,#0000df,#0000e4,#00b,#0000b8,#0000b7,#0000a5,#0000ab,#0000bf,#00c,#0000c8,#0000b5,#0000b6,#0000c6,#0000b9,#0000d9,#0000c7,#0000be,#0000c6,#0000ce,#0000d9,#0000cf,#0000b9,#0000eb,#0000d6,#0000da,#0000ca,#0000be,#0000f0,#0000c1,#0000a7,#0000af,#0000b5,#0000db,#0000b0,#0000b6,#0000da,#0000c5,#0000b2,#0000b9,#0000a8,#0000b7,#0000f0,#0000f0,#0000fc,#0000da,#0000ce,#0000b7,#0000f6,#0000c0,#0000b2,#0000da,#0007ff,#0000b7,#0000b2,#0000c0,#0000b5,#0000d4,#0000be,#00c,#0000c1,#0000b5,#0000b8,#0000cd,#0000ab,#0000b9,#0000a4,#0000b2,#0000b3,#0000bc,#0000b2,#0000b0,#0000d8,#0000d8)"></div>
<div class="r" style="background:linear-gradient(90deg,#0000df,#0000df,#0000d4,#0000b8,#0000ca,#0000b0,#0000ba,#0000b8,#0000b6,#0000af,#0000b5,#0000fd,#0000c3,#00a,#0000e7,#0000c7,#0000f2,#0000cb,#0000c2,#0000f1,#0000d4,#0000c8,#0000bd,#0000c8,#0000c9,#0000d4,#0000cb,#0000d4,#0000ed,#0000fe,#0005ff,#0004ff,#0017ff,#0039ff,#0035ff,#0032ff,#0018ff,#0010ff,#01f,#0000fb,#0000f3,#0000ed,#0000e9,#000bff,#0000de,#0000a6,#00009d,#0000be,#0000d5,#0000c4,#0000e5,#0000e6,#0000c5,#0000d0,#0000b8,#0000bc,#0000b9,#0000c9,#0012ff,#00d,#0000fa,#0000d9,#0000e0,#0000ea,#0000d5,#0000a4,#00009b,#00009f,#0000b3,#0000f4,#0000e1,#001bff,#0004ff,#000bff,#0000d8,#0000c7,#0000b2,#0000b1,#0000c2,#0000c7,#000eff,#0000b8,#0000d5,#0000c1,#00b,#0000b7,#0000bd,#0000c1,#000dff,#0000e8,#0000bc,#0000fc,#0000eb,#0000b0,#0000a0,#0000c8,#00009f,#000098,#0000ad,#0000d1,#0000eb,#0000d9,#0000e5,#0000c3,#0000b9,#0000b8,#0000ac,#0000af,#0000c3,#0000d0,#0000c5,#0000b6,#0000b2,#00b,#0000b5,#0000ca,#0000c6,#0000b9,#0000c6,#0000d1,#0000d5,#0000c8,#0000b8,#0000d7,#0000d7,#00d,#0000ca,#0000b9,#0000ec,#0000c1,#0000a7,#0000ab,#0000b0,#0000dc,#0000ae,#0000b7,#0000db,#0000c9,#0000b5,#0000ba,#0000a3,#0000b2,#0000e6,#0000f1,#0005ff,#0000e8,#0000ce,#00b,#0000f6,#0000c0,#0000b4,#0000d9,#0000f4,#0000b2,#0000ae,#0000ba,#0000b4,#0000d8,#0000c4,#0000ce,#0000c4,#0000b9,#0000ce,#00c,#0000af,#0000b2,#0000a7,#0000b6,#0000b8,#00b,#0000b1,#0000b4,#0000d9,#0000d9)"></div>
<div class="r" style="background:linear-gradient(90deg,#0000df,#0000df,#0000d2,#0000b9,#0000c4,#0000a9,#0000af,#0000ab,#00a,#0000a7,#0000b5,#0000fc,#0000c1,#0000ad,#0000e3,#0000ca,#0000f2,#0000ce,#0000c3,#00e,#0000d0,#0000c1,#0000b5,#00b,#0000bd,#0000c7,#0000c0,#0000cd,#0000e6,#0000ed,#0000f1,#0000f2,#0003ff,#002dff,#003eff,#003cff,#000cff,#0000fb,#0000fb,#0000f3,#0000eb,#0000e2,#0000df,#0004ff,#0000d5,#00009a,#000091,#0000af,#0000ce,#0000bf,#0000e2,#0000e1,#0000be,#0000c6,#0000b3,#0000b7,#0000b6,#0000c6,#0007ff,#0000da,#0000f6,#0000dc,#0000e3,#0000ed,#0000d9,#0000a4,#00009c,#0000a3,#0000ba,#0000fa,#00e,#001fff,#000eff,#000bff,#0000da,#0000c9,#0000b6,#0000b4,#0000c5,#0000d0,#000eff,#00b,#0000d7,#0000c3,#0000b7,#0000b1,#0000b3,#0000b8,#0005ff,#0000e7,#0000b7,#0000f5,#0000ed,#0000b7,#0000ae,#0000d4,#0000ad,#0000a3,#0000b3,#0000d7,#0000e9,#0000d5,#0000e0,#0000c5,#0000ba,#0000b9,#0000b1,#0000b4,#0000c7,#0000d5,#0000c9,#00b,#0000b5,#0000ba,#0000b4,#0000c5,#0000c1,#0000b4,#0000c3,#0000cf,#0000d2,#0000c7,#0000b8,#0000d1,#0000da,#00d,#0000c4,#0000af,#0000df,#0000bd,#0000a5,#0000ab,#0000b1,#0000db,#0000ae,#0000b7,#0000da,#0000c9,#0000b5,#0000b8,#0000a2,#0000b2,#0000ec,#0000fe,#0013ff,#0000f7,#0000d2,#0000c2,#0000f2,#0000c3,#0000b9,#0000dc,#0000ed,#0000b1,#0000ab,#0000b3,#0000b0,#0000d3,#0000c6,#0000ce,#0000c5,#0000bd,#0000d8,#0000cf,#0000b6,#0000b7,#0000ae,#0000b9,#0000b9,#0000b9,#0000b0,#0000b6,#0000d6,#0000d6)"></div>
<div class="r" style="background:linear-gradient(90deg,#00d,#00d,#00c,#0000b8,#0000c3,#0000a6,#0000a5,#0000a2,#0000a1,#0000a4,#0000b6,#0000fd,#0000c6,#0000b3,#0000df,#0000d1,#0000ef,#0000ce,#0000c4,#0000ef,#0000e2,#0000d9,#0000c0,#0000b8,#0000ba,#0000c5,#0000bf,#0000cf,#0000ec,#0000c6,#0000c6,#0000cb,#0000ea,#0014ff,#003bff,#0065ff,#0008ff,#0000d1,#0000cd,#0000e1,#0000d6,#0000c8,#0000c6,#0001ff,#0000d4,#009,#00008d,#0000ab,#00c,#0000c1,#0000e5,#0000e4,#0000be,#0000c5,#0000b3,#0000b5,#0000b4,#0000c2,#0000fe,#0000dc,#0000f0,#0000e2,#0000e6,#0000ef,#0000d9,#00a,#0000a3,#00a,#0000c0,#0000f8,#0000f5,#001cff,#0013ff,#0006ff,#0000d7,#0000c8,#0000b9,#0000b9,#0000c6,#00d,#0010ff,#0000c3,#0000dc,#0000c8,#0000b4,#00a,#0000ae,#0000b8,#0004ff,#0000e8,#0000b7,#0000f4,#00e,#0000bf,#00b,#0000db,#0000ba,#0000ac,#0000b8,#0000dc,#0000e9,#0000d4,#0000da,#0000c0,#0000ba,#0000bc,#0000b5,#0000b9,#0000cb,#0000d3,#00c,#0000c2,#0000bc,#0000be,#0000b6,#0000c2,#0000be,#0000b1,#0000bd,#0000ca,#0000cd,#0000c4,#0000ba,#0000cf,#0000db,#0000df,#0000c0,#00a,#0000d4,#0000bd,#0000a6,#0000ae,#0000b5,#0000d6,#0000b2,#0000b8,#0000d9,#0000c6,#0000b3,#0000b3,#0000a3,#0000b7,#0000f8,#0010ff,#001fff,#0007ff,#0000da,#0000c6,#0000ef,#0000c6,#0000c0,#0000e3,#00e,#0000b3,#0000a7,#00a,#0000a8,#0000c8,#0000bf,#0000c8,#0000c4,#0000c1,#00d,#0000d3,#0000bc,#00b,#0000b4,#0000b9,#0000b6,#0000b2,#0000ac,#0000b3,#0000cb,#0000cb)"></div>
<div class="r" style="background:linear-gradient(90deg,#0000d7,#0000d7,#0000c3,#00b,#0000d1,#0000b5,#0000a0,#00009d,#00009b,#0000a2,#0000b8,#0001ff,#0000cf,#0000ba,#0000dc,#0000d7,#0000ec,#0000cb,#0000c1,#0000e6,#0000e4,#0000dc,#0000c3,#00b,#0000be,#0000c8,#0000c1,#0000d1,#0000f3,#00c,#0000cb,#0000d5,#0000e6,#000eff,#0040ff,#0068ff,#0015ff,#0000d6,#0000cb,#0000e0,#0000db,#0000d6,#0000d1,#0000fb,#0000d2,#0000a1,#000095,#0000b4,#0000c3,#0000c5,#0000de,#0000de,#0000c2,#00c,#0000b7,#0000b6,#0000b5,#0000ca,#0000fe,#0000e4,#0000eb,#0000f0,#0000f0,#0000f1,#0000d5,#0000b5,#0000af,#0000b4,#0000c6,#00e,#0000f2,#0017ff,#0017ff,#0001ff,#0000d4,#0000c6,#0000ba,#0000be,#0000ca,#0000eb,#0012ff,#0000d2,#00e,#0000de,#0000b9,#0000a8,#0000ab,#0000b7,#0006ff,#0000ec,#0000c2,#0000f8,#0000ed,#0000c3,#0000c2,#0000d6,#0000c0,#0000b3,#00b,#0000e5,#0000ed,#0000d5,#0000d2,#0000b8,#0000ba,#0000be,#0000b9,#0000bd,#0000d0,#0000c7,#0000ca,#0000c5,#0000c1,#0000c7,#0000b4,#0000b3,#0000b9,#0000af,#0000b9,#0000c7,#0000ca,#0000c2,#0000bc,#0000c5,#0000d3,#0000e8,#0000c6,#0000b3,#0000d3,#0000c2,#0000ac,#0000b0,#0000b7,#0000c6,#0000b3,#0000b9,#0000d5,#0000bf,#0000b1,#0000ae,#0000a2,#0000b6,#0002ff,#0018ff,#02f,#0015ff,#0000e6,#0000ca,#0000ed,#0000c6,#0000c7,#0000e9,#0000f2,#00b,#0000a5,#0000a1,#00009f,#0000be,#0000b3,#0000be,#0000c2,#0000c5,#0000e6,#00d,#0000c2,#0000be,#0000ba,#0000b9,#0000b1,#0000a9,#0000a7,#0000ac,#0000be,#0000be)"></div>
<div class="r" style="background:linear-gradient(90deg,#0000cb,#0000cb,#0000bc,#0000c2,#0000e5,#00c,#0000a1,#00009b,#00009a,#0000a2,#00b,#0000f8,#0000d9,#0000c0,#0000d5,#0000d7,#0000e0,#0000c5,#0000b9,#0000d1,#0000df,#0000d9,#0000c3,#0000be,#0000c4,#0000d3,#0000c1,#0000cd,#0000f6,#0000de,#0000e0,#0000df,#0000d7,#0000f6,#0032ff,#0059ff,#001bff,#0000d9,#0000c8,#0000dc,#0000e2,#0000eb,#0000dc,#0000e6,#0000c6,#0000ae,#00a,#0000c5,#0000bc,#0000cb,#0000d7,#0000d8,#0000d2,#0000da,#0000bf,#0000b9,#0000b9,#0000db,#0000fe,#0000ec,#0000e5,#0001ff,#0000fa,#0000e8,#0000cd,#0000c5,#0000c1,#0000c3,#0000cb,#0000d6,#00d,#0008ff,#000aff,#0000f1,#0000ce,#0000c3,#00b,#0000c1,#0000cd,#0000f0,#0008ff,#0000e3,#0007ff,#0002ff,#0000de,#0000af,#0000af,#0000b8,#0000ed,#0000e7,#0000d5,#0000f6,#0000e1,#0000c5,#0000c5,#00c,#0000c2,#0000b9,#0000bf,#0000eb,#0000e9,#0000ce,#0000c0,#0000b6,#0000ba,#0000c2,#0000bd,#0000c3,#0000d2,#0000c4,#0000c7,#0000c8,#0000c5,#0000d3,#0000ae,#0000ab,#0000b3,#0000b2,#00b,#0000ca,#0000ca,#0000c2,#0000bf,#0000c6,#0000d3,#0000f7,#00d,#0000d0,#0000db,#0000cd,#00b,#0000b7,#0000b6,#0000b9,#0000b4,#00b,#0000cd,#00b,#0000b2,#0000ac,#0000a2,#0000b2,#0000fa,#000eff,#0018ff,#0017ff,#0000f5,#0000d5,#0000e8,#0000c6,#0000cd,#0000e9,#0000f1,#0000c7,#0000a8,#00009a,#000096,#0000b2,#0000a6,#0000b5,#0000c0,#0000c9,#00e,#0000ed,#0000c9,#0000c3,#0000c5,#0000c5,#0000b1,#0000a5,#0000a5,#0000ab,#00b,#00b)"></div>
<div class="r" style="background:linear-gradient(90deg,#0000ce,#0000ce,#0000c4,#00c,#0000f6,#0000e0,#00a,#0000a2,#00009f,#0000a6,#00b,#0000e5,#0000da,#0000c1,#0000ca,#00c,#0000cd,#0000b8,#0000ac,#0000b4,#0000c9,#0000c8,#0000b9,#0000ba,#0000d0,#0000d8,#0000bd,#0000c6,#0000f1,#0000f1,#0000f1,#0000e3,#0000cd,#0000e0,#0018ff,#0040ff,#001bff,#0000db,#0000c6,#0000d5,#0000e6,#0000f9,#0000e3,#0000d0,#0000c8,#0000c1,#0000c5,#0000da,#0000c8,#0000d4,#0000d8,#0000da,#0000e6,#0000ea,#00c,#0000c1,#0000c2,#0000e7,#0000f9,#0000ec,#0000e0,#0005ff,#0000fc,#0000db,#0000d2,#0000d4,#0000d0,#0000d0,#0000cb,#0000be,#0000bc,#0000db,#0000e7,#0000d4,#0000c0,#0000ba,#0000b7,#0000bf,#0000c9,#0000e5,#0000f2,#0000eb,#0017ff,#0012ff,#0004ff,#0000c0,#0000ba,#0000bc,#0000d0,#0000db,#0000de,#0000e9,#0000cd,#0000c1,#0000c0,#0000c2,#0000bd,#0000b9,#0000c6,#0000e4,#0000da,#0000c1,#0000b8,#0000b6,#0000be,#0000c7,#0000c6,#0000cd,#0000d5,#0000c7,#0000c8,#0000d3,#0000d7,#0000d7,#0000ab,#0000a8,#0000b6,#0000bc,#0000c4,#0000d0,#0000ce,#0000c6,#0000c4,#0000c8,#0000d8,#0001ff,#0001ff,#0000f2,#0000ea,#0000e0,#0000d1,#0000c3,#00b,#0000b8,#0000b9,#0000c0,#0000c7,#0000c1,#0000ba,#0000b2,#0000a9,#0000b1,#0000e7,#0000f6,#0000f8,#0006ff,#0000f9,#0000e3,#00d,#0000c4,#0000ce,#0000df,#0000e9,#0000d1,#0000b0,#00009c,#000096,#0000ab,#00009e,#0000ac,#0000bd,#0000ca,#00e,#0000f5,#0000e0,#0000d0,#0000e2,#00d,#00b,#0000ad,#0000ac,#0000b4,#0000c0,#0000c0)"></div>
<div class="r" style="background:linear-gradient(90deg,#0000cd,#0000cd,#0000c9,#0000d3,#0000fd,#00e,#0000bd,#0000b1,#0000ac,#0000ae,#00b,#0000d3,#0000d3,#0000c5,#0000c1,#0000c2,#0000bf,#0000ad,#0000a1,#0000a3,#0000af,#0000b0,#0000a9,#0000b3,#0000d2,#0000d5,#0000ba,#0000c3,#0000eb,#0000f9,#0000f9,#0000e4,#0000cd,#0000db,#0003ff,#0028ff,#0015ff,#00d,#0000c8,#0000d3,#0000e6,#0000fa,#0000e2,#0000cd,#0000cb,#0000cd,#0000e4,#0000e7,#0000d4,#0000dc,#0000e0,#0000e2,#0000ef,#0000f2,#0000d6,#00c,#0000d3,#0000ef,#0000f6,#0000eb,#0000e1,#0001ff,#0000f8,#0000d8,#0000d3,#0000d6,#0000d4,#0000cf,#0000c4,#0000b6,#0000af,#0000be,#0000cb,#0000bd,#0000b3,#0000b0,#0000b1,#0000b8,#0000c1,#0000d4,#00d,#0000e8,#0016ff,#0015ff,#0014ff,#0000d2,#0000c8,#0000c4,#0000c6,#0000d3,#0000df,#0000dc,#0000c5,#0000b9,#0000b6,#0000b4,#0000b1,#0000b4,#0000c3,#0000d4,#0000ca,#0000b7,#0000b7,#0000b8,#0000c1,#0000cb,#0000cd,#0000d6,#0000da,#0000cf,#0000ce,#0000e0,#0000e5,#0000dc,#0000b4,#0000b3,#0000c2,#0000cb,#0000d1,#0000d9,#0000d2,#0000ca,#0000c8,#0000c9,#0000d7,#0000f8,#0006ff,#0000fa,#0000ef,#0000e6,#0000d9,#0000cb,#0000c1,#0000be,#0000c1,#0000c8,#0000ca,#0000c8,#0000c4,#0000be,#0000b9,#0000bc,#0000de,#0000e4,#0000e1,#0000f1,#0000f0,#0000e3,#0000d1,#0000be,#0000c7,#0000d2,#0000db,#0000d7,#0000bc,#0000ac,#0000a7,#0000b4,#0000a5,#0000ac,#0000b8,#0000ca,#0000e6,#0000f3,#0000eb,#0000e0,#0000f3,#0000ef,#0000d1,#0000bf,#00b,#0000c3,#00c,#00c)"></div>
<div class="r" style="background:linear-gradient(90deg,#0000c4,#0000c4,#0000c4,#0000d1,#0000fa,#0000f1,#0000ca,#0000bd,#0000b7,#0000b6,#0000be,#00c,#0000cf,#0000c6,#0000c0,#0000c0,#0000bc,#0000ab,#00009e,#00009b,#0000a1,#0000a2,#00009f,#0000b0,#0000cd,#0000d0,#0000ba,#0000c5,#0000ea,#0000fd,#0000fd,#0000e7,#0000d1,#0000d9,#0000f7,#0014ff,#0006ff,#0000d9,#0000c8,#0000d0,#0000e2,#0000f2,#0000dc,#0000c9,#0000ca,#0000d0,#0000eb,#0000e8,#0000d6,#0000db,#00d,#0000df,#0000eb,#00e,#0000d9,#0000d3,#0000de,#0000f5,#0000f9,#0000ed,#0000e5,#0000fc,#0000f4,#0000d7,#0000d1,#0000d1,#0000cf,#0000ca,#0000c1,#0000b6,#0000b2,#0000b8,#0000c3,#0000b8,#0000b2,#0000b1,#0000b4,#0000ba,#0000c1,#0000cd,#0000d5,#0000e5,#000fff,#01f,#01f,#0000dc,#0000ce,#0000cb,#0000cb,#0000d4,#0000e1,#0000d9,#0000c4,#0000b8,#0000b2,#0000ad,#00a,#0000b1,#0000be,#0000ca,#0000c3,#0000b7,#0000b9,#00b,#0000c3,#0000cb,#0000ce,#0000d6,#0000db,#0000d4,#0000d4,#0000e7,#0000f0,#0000e4,#0000c3,#0000c2,#0000cf,#0000d6,#0000da,#00d,#0000d6,#0000ce,#0000ca,#0000c8,#0000d0,#0000e6,#0000f4,#0000e8,#0000de,#0000d8,#0000d1,#0000c8,#0000c2,#0000c1,#0000c5,#0000cb,#0000cb,#0000c9,#0000c7,#0000c5,#0000c4,#0000c7,#0000df,#0000e0,#0000db,#0000e7,#0000eb,#0000e1,#00c,#00b,#0000c1,#0000c9,#0000d2,#0000d7,#0000c6,#0000be,#0000bc,#0000c3,#0000b1,#0000b1,#0000b7,#0000c7,#0000de,#0000ed,#0000eb,#0000e6,#0000f7,#0000f6,#00d,#0000ca,#0000c7,#0000cb,#0000d1,#0000d1)"></div>
<div class="r" style="background:linear-gradient(90deg,#0000ba,#0000ba,#0000bd,#0000cd,#0000f1,#0000ec,#0000cd,#0000c1,#0000bc,#0000bc,#0000c2,#0000cd,#0000cf,#0000c8,#0000c2,#0000c2,#0000be,#0000ae,#0000a1,#00009c,#00009e,#00009e,#00009c,#0000ac,#0000c7,#0000cb,#0000bc,#0000c8,#0000e9,#0000fd,#0000fd,#0000e9,#0000d5,#0000d8,#0000eb,#0000fc,#0000f0,#0000cf,#0000c3,#0000cb,#0000da,#0000e6,#0000d3,#0000c3,#0000c5,#0000cb,#0000e2,#00d,#0000cd,#0000ce,#0000cd,#0000cd,#0000d6,#0000d9,#0000c9,#0000c5,#0000d1,#0000e5,#0000e8,#00d,#0000d7,#0000e7,#0000e1,#0000c8,#0000c2,#0000c2,#0000c2,#0000c0,#00b,#0000b5,#0000b3,#0000b8,#0000c2,#0000ba,#0000b6,#0000b6,#0000ba,#0000c0,#0000c6,#0000d0,#0000d7,#0000e7,#000aff,#000bff,#000bff,#0000df,#0000d1,#0000cf,#0000d1,#0000da,#0000e5,#00d,#0000c9,#0000bd,#0000b5,#0000ae,#0000ab,#0000b2,#0000be,#0000c8,#0000c3,#0000ba,#0000bd,#0000bf,#0000c5,#0000cb,#0000ce,#0000d5,#0000da,#0000d6,#0000d8,#0000eb,#0000f5,#0000e9,#0000ce,#0000cd,#0000d6,#0000dc,#0000de,#0000df,#0000d9,#0000d1,#00c,#0000c9,#0000cd,#0000da,#0000e6,#0000da,#0000d1,#0000cd,#0000c8,#0000c3,#0000bf,#0000bf,#0000c4,#0000c8,#0000c7,#0000c5,#0000c4,#0000c4,#0000c6,#0000cb,#0000df,#0000e1,#00d,#0000e7,#0000e9,#0000e0,#00c,#0000bd,#0000c0,#0000c7,#0000d0,#0000d6,#0000cd,#0000c9,#0000c8,#0000cb,#0000ba,#0000b5,#0000b8,#0000c5,#0000d8,#0000e5,#0000e4,#0000e2,#0000f0,#0000f1,#0000db,#0000cb,#0000c8,#0000cb,#0000d0,#0000d0)"></div>
<div class="r r2" style="background:linear-gradient(90deg,#0000b7,#0000b7,#0000d9,#0000d8,#0000be,#0000c2,#0000cd,#0000c1,#0000c1,#0000b0,#0000a3,#0000a1,#0000b6,#0000c1,#0000d4,#0000f7,#00d,#0000db,#0000e2,#0000bf,#00c,#0000d4,#0000be,#0000cb,#0000c6,#0000bc,#0000bc,#0000be,#0000b8,#0000d0,#0000c5,#00c,#0000b4,#0000b4,#0000b4,#0000b0,#0000b9,#0000b9,#00b,#0000c7,#0000d8,#0000f6,#0005ff,#00d,#0000d4,#0000e3,#0000d8,#0000be,#0000b4,#0000be,#0000c6,#0000c1,#0000c6,#0000cd,#0000d7,#0000da,#0000f1,#0000df,#0000d7,#0000df,#0000dc,#0000d0,#0000ca,#0000d7,#0000ce,#0000c6,#0000bc,#0000bc,#0000bf,#0000bc,#0000bf,#0000d3,#0000e4,#0000ec,#0000d6,#0000c3,#0000cf,#0000d4,#0000ce,#0000c5,#0000ba,#0000cd,#0000d9,#0000dc,#0000db,#0000c4,#0000c7,#0000c7)"></div>
<div class="r r2" style="background:linear-gradient(90deg,#0000b8,#0000b8,#0000d5,#0000d1,#0000b9,#0000c0,#0000c5,#0000c0,#0000c2,#0000c0,#0000b3,#0000ad,#0000b6,#0000c0,#0000ce,#0000eb,#0000d5,#0000d4,#0000d4,#0000ba,#0000c5,#0000ce,#0000b8,#0000bd,#0000b7,#0000af,#0000af,#0000b8,#0000b2,#0000c4,#0000bc,#0000be,#0000af,#0000af,#0000ae,#0000ab,#0000b2,#0000b7,#0000ba,#0000c5,#0000d9,#0000f1,#0000fc,#0000e2,#0000d4,#0000e1,#0000d9,#0000c2,#0000bd,#0000c5,#0000c4,#0000c5,#0000ca,#0000cd,#0000d7,#00d,#0000ed,#0000de,#0000da,#0000e5,#0000dc,#0000d0,#0000ca,#0000ce,#0000cb,#0000c4,#0000b8,#0000b4,#0000b3,#0000b0,#0000b5,#00c,#0000e8,#00e,#0000d5,#0000ca,#0000d4,#0000d7,#0000cf,#0000c5,#0000c0,#0000ce,#0000ca,#0000c8,#0000cb,#0000b9,#0000bc,#0000bc)"></div>
<div class="r r2" style="background:linear-gradient(90deg,#0000c3,#0000c3,#0000d1,#0000c7,#0000b3,#0000ba,#0000bc,#0000bc,#0000c4,#0000d2,#0000c7,#0000bc,#0000b9,#0000c0,#0000c7,#0000d6,#0000cd,#0000cb,#0000c9,#0000b5,#0000ba,#0000c3,#0000b0,#0000ad,#0000a9,#0000a5,#0000a5,#0000b6,#0000b1,#0000b9,#0000b6,#0000b5,#0000b0,#0000af,#0000ab,#0000a8,#00a,#0000b4,#0000b4,#0000bd,#0000d3,#0000e1,#0000f0,#0000e5,#0000d0,#0000d8,#0000d3,#0000c2,#0000c2,#0000c5,#0000c1,#0000c4,#0000cb,#0000cd,#0000d6,#0000df,#0000e4,#0000db,#0000dc,#0000e9,#0000df,#0000d1,#0000cb,#0000cb,#0000c9,#0000c5,#0000b7,#0000b0,#00a,#0000a7,#0000ab,#0000c3,#0000e1,#0000e7,#0000d1,#0000ce,#0000d6,#0000d6,#0000ce,#0000c5,#0000c7,#0000d0,#00b,#0000b5,#00b,#0000b2,#0000b4,#0000b4)"></div>
<div class="r r2" style="background:linear-gradient(90deg,#0000c7,#0000c7,#0000c8,#0000b9,#00a,#0000af,#0000b2,#0000b5,#0000be,#0000d3,#0000cd,#0000c1,#0000bc,#0000be,#0000c0,#0000c5,#0000c1,#0000bf,#00b,#0000ac,#0000ab,#0000b1,#0000a4,#00009c,#00009a,#009,#00009c,#0000ae,#0000ac,#0000ae,#0000ae,#0000ad,#0000b1,#0000ae,#0000a8,#0000a5,#0000a5,#0000af,#0000ae,#0000b4,#0000c7,#0000ce,#0000e0,#00d,#0000cb,#0000cd,#0000cb,#0000c0,#0000c2,#0000c3,#0000bf,#0000c2,#0000ca,#0000cb,#0000d3,#0000de,#0000dc,#0000d8,#00d,#0000e8,#0000e1,#0000da,#0000d0,#00c,#0000cb,#0000c8,#0000ba,#0000b0,#0000a8,#0000a4,#0000a7,#00b,#0000d5,#0000db,#0000cb,#0000cd,#0000d4,#0000d3,#00c,#0000c5,#0000cb,#0000ce,#0000b7,#0000af,#0000b2,#0000b3,#0000b7,#0000b7)"></div>
<div class="r r2" style="background:linear-gradient(90deg,#0000bf,#0000bf,#0000b9,#00a,#00009f,#0000a2,#0000a3,#0000a7,#0000b0,#0000c4,#0000c1,#0000b8,#0000b3,#0000b3,#0000b3,#0000b3,#0000af,#0000ac,#0000a8,#00009c,#009,#00009b,#000093,#00008b,#00008b,#00008d,#000092,#0000a2,#0000a2,#0000a2,#0000a4,#0000a4,#00a,#0000a8,#0000a3,#0000a2,#0000a1,#0000a9,#0000a9,#0000ad,#0000bc,#0000c1,#0000d2,#0000d5,#0000c9,#0000ca,#0000ca,#0000c5,#0000c7,#0000c7,#0000c4,#0000c6,#0000cd,#00c,#0000d1,#0000d9,#0000d5,#0000d3,#0000d9,#0000e1,#0000de,#00d,#0000d5,#0000cf,#0000cd,#0000cb,#0000be,#0000b4,#0000ab,#0000a7,#0000a8,#0000b7,#00c,#0000d1,#0000c7,#0000ca,#0000cf,#0000d0,#0000cb,#0000c6,#00c,#0000cd,#0000b9,#0000b2,#0000b2,#0000b6,#00b,#00b)"></div>
<div class="r r2" style="background:linear-gradient(90deg,#0000b2,#0000b2,#00a,#00009e,#000095,#000096,#000097,#00009b,#0000a2,#0000b2,#0000b1,#00a,#0000a7,#0000a5,#0000a3,#0000a1,#00009d,#009,#000095,#00008b,#000087,#008,#000083,#000080,#000080,#000084,#00008a,#000097,#000097,#000097,#009,#009,#00009e,#00009e,#00009d,#00009d,#00009e,#0000a4,#0000a5,#00a,#0000b6,#0000bd,#00c,#0000d1,#0000cb,#0000cb,#0000cb,#0000c8,#0000ca,#0000c9,#0000c5,#0000c4,#0000c7,#0000c4,#0000c6,#0000cd,#0000cb,#0000cb,#0000d2,#0000da,#0000da,#0000dc,#0000d6,#0000d1,#0000cf,#00c,#0000c2,#0000b9,#0000b1,#0000ad,#0000ae,#0000b8,#0000c7,#00c,#0000c5,#0000c8,#00c,#0000cd,#0000c9,#0000c7,#0000cb,#0000cb,#0000bc,#0000b6,#0000b5,#0000ba,#0000bf,#0000bf)"></div>
<div class="r r4" style="background:linear-gradient(90deg,#0000a9,#0000a9,#009,#000098,#0000a1,#0000af,#0000a9,#0000a3,#00009b,#000092,#000085,#000081,#000080,#008,#000094,#000093,#000094,#000098,#00009c,#0000a5,#0000b2,#0000c4,#0000cb,#0000c5,#0000bd,#0000b5,#0000b0,#0000b0,#00b,#0000c7,#0000d5,#0000d8,#0000d2,#0000ca,#0000bd,#0000b7,#0000c2,#0000c8,#0000c8,#0000c8,#0000c6,#0000c1,#0000b9,#0000c2,#0000c2)"></div>
<div class="r r4" style="background:linear-gradient(90deg,#0000b6,#0000b6,#00a,#0000ab,#0000b5,#0000c1,#0000bc,#0000b4,#00a,#00009e,#000091,#00008c,#00008c,#000096,#00009e,#009,#000097,#009,#0000a0,#0000ab,#0000b7,#0000c7,#0000ca,#0000c3,#00b,#0000b3,#0000b0,#0000b3,#0000bf,#0000cb,#0000da,#00d,#0000d9,#0000d3,#00c,#0000c9,#0000d0,#0000cf,#0000c9,#0000c4,#0000c1,#0000bf,#0000bd,#0000ce,#0000ce)"></div>
<div class="r r4" style="background:linear-gradient(90deg,#0000c9,#0000c9,#0000c2,#0000c2,#0000c9,#0000d0,#00c,#0000c4,#0000ba,#0000ae,#0000a2,#00009d,#00009e,#0000a8,#0000ad,#0000a7,#0000a4,#0000a4,#0000a9,#0000b3,#0000ba,#0000c6,#0000c7,#0000c6,#0000c6,#0000c7,#0000c9,#0000cf,#0000d9,#0000de,#0000e8,#00e,#00e,#0000ec,#0000ea,#0000e9,#0000ea,#0000e2,#0000d4,#0000c9,#0000c6,#0000c5,#0000c6,#0000d9,#0000d9)"></div>
<div class="r r4" style="background:linear-gradient(90deg,#0000d3,#0000d3,#0000d0,#0000cd,#0000d0,#0000d0,#0000cf,#0000c7,#0000c1,#0000b8,#0000ad,#0000a9,#00a,#0000b3,#0000b4,#0000b0,#0000af,#0000ae,#0000b1,#0000b7,#0000b9,#0000c3,#0000c6,#0000cb,#0000d1,#0000d7,#00d,#0000e6,#0000ef,#0000f1,#0000f9,#0003ff,#0009ff,#000bff,#000bff,#0009ff,#0004ff,#0000f8,#0000e9,#0000da,#0000d5,#0000d3,#0000d4,#0000e2,#0000e2)"></div>
<div class="r r4" style="background:linear-gradient(90deg,#0000d3,#0000d3,#0000d1,#00c,#0000cb,#0000c6,#0000c3,#0000bc,#0000b8,#0000af,#0000a5,#0000a1,#0000a1,#0000a7,#0000a6,#0000a4,#0000a6,#0000a7,#0000ab,#0000b1,#0000b4,#0000be,#0000c3,#0000cb,#0000d4,#0000db,#0000e4,#0000f0,#0000fa,#0000fd,#0006ff,#0010ff,#0017ff,#0019ff,#0018ff,#0015ff,#000aff,#0000fe,#0000ef,#0000df,#0000da,#0000d6,#0000d7,#0000e1,#0000e1)"></div>
<div class="r r4" style="background:linear-gradient(90deg,#0000d1,#0000d1,#0000cf,#0000ca,#0000c7,#0000bf,#0000bc,#0000b5,#0000b2,#00a,#0000a1,#00009d,#00009c,#0000a0,#00009d,#00009d,#0000a0,#0000a3,#0000a9,#0000ae,#0000b2,#00b,#0000c0,#0000c8,#0000cf,#0000d4,#00d,#0000e9,#0000f3,#0000f4,#0000fb,#0004ff,#000bff,#000bff,#000aff,#0006ff,#0000fb,#0000f2,#0000e5,#0000d6,#0000d2,#0000ce,#0000cf,#0000d9,#0000d9)"></div>
</div>
<div class="k" style="left:358.1px;top:41.8px;width:1px;height:5px"></div><div class="k" style="left:358.1px;top:537.8px;width:1px;height:5px"></div><div class="xl" style="left:341.4px">0</div>
<div class="k" style="left:405.5px;top:41.8px;width:1px;height:5px"></div><div class="k" style="left:405.5px;top:537.8px;width:1px;height:5px"></div><div class="xl" style="left:388.8px">0.5</div>
<div class="k" style="left:452.9px;top:41.8px;width:1px;height:5px"></div><div class="k" style="left:452.9px;top:537.8px;width:1px;height:5px"></div><div class="xl" style="left:436.2px">1</div>
<div class="k" style="left:500.2px;top:41.8px;width:1px;height:5px"></div><div class="k" style="left:500.2px;top:537.8px;width:1px;height:5px"></div><div class="xl" style="left:483.6px">1.5</div>
<div class="k" style="left:547.6px;top:41.8px;width:1px;height:5px"></div><div class="k" style="left:547.6px;top:537.8px;width:1px;height:5px"></div><div class="xl" style="left:530.9px">2</div>
<div class="k" style="left:595.0px;top:41.8px;width:1px;height:5px"></div><div class="k" style="left:595.0px;top:537.8px;width:1px;height:5px"></div><div class="xl" style="left:578.3px">2.5</div>
<div class="k" style="left:642.4px;top:41.8px;width:1px;height:5px"></div><div class="k" style="left:642.4px;top:537.8px;width:1px;height:5px"></div><div class="xl" style="left:625.7px">3</div>
<div class="k" style="left:353.6px;top:46.3px;width:5px;height:1px"></div><div class="k" style="left:642.9px;top:46.3px;width:5px;height:1px"></div><div class="k" style="left:353.6px;top:100.9px;width:5px;height:1px"></div><div class="k" style="left:642.9px;top:100.9px;width:5px;height:1px"></div><div class="k" style="left:353.6px;top:155.4px;width:5px;height:1px"></div><div class="k" style="left:642.9px;top:155.4px;width:5px;height:1px"></div><div class="k" style="left:353.6px;top:210.0px;width:5px;height:1px"></div><div class="k" style="left:642.9px;top:210.0px;width:5px;height:1px"></div><div class="k" style="left:353.6px;top:264.5px;width:5px;height:1px"></div><div class="k" style="left:642.9px;top:264.5px;width:5px;height:1px"></div><div class="k" style="left:353.6px;top:319.1px;width:5px;height:1px"></div><div class="k" style="left:642.9px;top:319.1px;width:5px;height:1px"></div><div class="k" style="left:353.6px;top:373.6px;width:5px;height:1px"></div><div class="k" style="left:642.9px;top:373.6px;width:5px;height:1px"></div><div class="k" style="left:353.6px;top:428.2px;width:5px;height:1px"></div><div class="k" style="left:642.9px;top:428.2px;width:5px;height:1px"></div><div class="k" style="left:353.6px;top:482.7px;width:5px;height:1px"></div><div class="k" style="left:642.9px;top:482.7px;width:5px;height:1px"></div><div class="k" style="left:353.6px;top:537.3px;width:5px;height:1px"></div><div class="k" style="left:642.9px;top:537.3px;width:5px;height:1px"></div><div class="b" style="left:410.9px;top:566px;width:200px">Time (s)</div>
<div class="t" style="left:646.9px">Diameter 500 µm</div>
<div class="p" style="left:653.2px;top:46.8px;width:284.4px;height:491.0px">
<div class="r" style="background:linear-gradient(90deg,#0000ac,#0000ac,#0000ad,#0000b4,#0000b4,#00d,#0000c4,#0000b3,#0000f0,#0000b2,#0000d7,#0000bc,#0000ae,#0000c1,#0000af,#0000a1,#00b,#0000e0,#0000fa,#0000ae,#0000c2,#0000b9,#0000ce,#0000a8,#00c,#0000c8,#0000d8,#0000f0,#0000a9,#0000f4,#0003ff,#00d,#0000a9,#0000ac,#0000d5,#0000fb,#0000ad,#0000de,#00a,#0000d2,#0000ad,#00009c,#0000b1,#0000c5,#0000b7,#0000d4,#0000f9,#0004ff,#0000e2,#0000c4,#0000c5,#0000eb,#0000fe,#0004ff,#0000b7,#0000af,#0000bd,#0001ff,#0000cd,#0000bd,#0000f1,#0000b3,#0000de,#0000b8,#0000b5,#0000c2,#0000bc,#0000b8,#0000be,#0000ec,#0000e1,#0000e5,#0000be,#0000ba,#0000c0,#0000da,#0000bc,#0000ba,#0000d6,#0000bd,#0000d3,#0000ad,#0000c6,#0000ba,#0000c9,#0000ba,#0000d5,#0000b9,#0000f1,#0000ec,#0000c6,#0000bc,#0000bf,#0000b8,#0000c6,#0000df,#0000f4,#0000af,#0000e1,#0000ba,#0000c0,#00b,#0000c4,#0000c1,#0000dc,#0000ea,#0000c3,#0000d9,#0000bc,#0000c0,#000cff,#0000d5,#0000c7,#0000ba,#0000c8,#0000c4,#0000b3,#0000b9,#0000b5,#0000b6,#0000f7,#0000ad,#0000d2,#0000d1,#0008ff,#0000ed,#0000ae,#0000dc,#0000d5,#0000c9,#00a,#0000c6,#0000c1,#0000d2,#0000e7,#0000ad,#0000dc,#0000bc,#0000cb,#0000d4,#0000ba,#00b,#0000c4,#0000c4,#0000b3,#0000eb,#0000b5,#0000ad,#0000b1,#0000bd,#0000ba,#0000ec,#0001ff,#0000e6,#0000b9,#0000ba,#0005ff,#0000ae,#0000d3,#00b,#0000ea,#0000b3,#0000a9,#0000b2,#0000e7,#0000b4,#0000ac,#0000bd,#0000d4,#0000dc,#0000d8,#0000c7,#0000b5,#0000b5)"></div>
<div class="r" style="background:linear-gradient(90deg,#0000a9,#0000a9,#0000af,#0000b2,#0000b5,#0000dc,#0000c4,#0000b7,#0000ef,#0000b1,#0000d5,#0000be,#0000ad,#0000c4,#0000ad,#0000a4,#0000b6,#0000e0,#0000fd,#0000b6,#0000ca,#0000be,#0000d7,#0000d8,#0000f1,#0000ed,#0000f9,#0008ff,#0000e3,#001fff,#0026ff,#000dff,#0000ec,#0000ed,#0000e8,#0000fc,#0000b7,#0000e4,#0000b5,#0000b5,#0000ad,#0000a7,#0000be,#0000c7,#0000c3,#0000db,#0000fa,#0004ff,#0000e5,#0000c7,#0000c5,#0000e8,#0000fb,#0006ff,#0000ba,#0000b0,#0000bf,#0006ff,#0000cb,#00b,#0000ef,#0000b6,#0000e5,#0000b2,#0000b5,#0000c2,#0000bd,#0000b8,#0000c0,#0000ef,#0000dc,#0000e6,#00b,#00b,#0000c5,#00d,#0000c1,#0000ba,#0000db,#0000be,#0000d8,#0000ac,#0000cb,#0000be,#0000cb,#0000bc,#0000d3,#0000b9,#0000ef,#0000ea,#0000c7,#0000c1,#0000c3,#0000b8,#0000c5,#0000de,#0000f3,#0000b2,#0000e0,#0000b9,#0000c1,#0000ba,#0000c5,#0000c5,#00d,#0000ec,#0000c6,#0000dc,#0000bd,#0000c2,#000bff,#0000d6,#00c,#0000be,#00c,#0000c7,#0000b6,#0000b9,#0000b7,#00b,#0000f5,#00a,#0000d5,#0000d1,#000dff,#00e,#0000ac,#00d,#0000d6,#0000ca,#0000ad,#0000cd,#0000c2,#0000d3,#0000e6,#0000af,#0000dc,#0000c0,#0000cf,#0000d7,#0000ba,#0000bc,#0000c3,#0000c5,#0000b1,#0000ed,#0000b1,#0000ac,#0000b0,#00b,#00b,#0000ed,#0003ff,#0000e9,#0000b8,#0000b8,#0005ff,#0000b2,#0000d9,#0000b8,#0000e9,#0000b6,#0000a8,#0000b6,#0000e6,#0000b1,#0000ac,#0000bd,#0000d1,#0000e4,#0000da,#0000c6,#0000b5,#0000b5)"></div>
<div class="r" style="background:linear-gradient(90deg,#0000a6,#0000a6,#0000af,#0000b0,#0000b6,#0000d8,#0000c6,#0000bc,#0000eb,#0000b3,#0000d1,#0000bd,#0000ae,#0000c9,#0000a4,#00009f,#0000b4,#0000e6,#0000fe,#00d,#0000f4,#0000e5,#0000f1,#0001ff,#01f,#000bff,#002bff,#0042ff,#0005ff,#0064ff,#0078ff,#0030ff,#0003ff,#0026ff,#0000fc,#0000d2,#0000d3,#0000f7,#0000d1,#0000da,#00c,#0000c7,#0000de,#0000e1,#0000da,#0000eb,#0003ff,#0009ff,#0000e8,#0000cb,#00c,#0000e0,#0000f0,#0002ff,#0000be,#0000b3,#0000bd,#000eff,#0000c8,#0000b6,#0000eb,#0000bd,#0000f5,#0000ac,#0000b7,#0000bd,#0000bc,#0000ba,#0000c1,#0000f7,#00c,#0000e1,#0000b8,#0000be,#0000c8,#0000e5,#0000c7,#0000bd,#0000e4,#0000bf,#0000e7,#0000b0,#0000d5,#0000c9,#0000d1,#0000bf,#0000ca,#00b,#0000e6,#0000e9,#0000c9,#0000c5,#0000c4,#0000b9,#0000bf,#0000cf,#0000ef,#0000b8,#0000da,#0000b9,#0000be,#0000b7,#0000c3,#0000c9,#0000d7,#0000eb,#00c,#0000dc,#0000c1,#0000c5,#0005ff,#0000d5,#0000cd,#0000c1,#0000de,#0000cb,#0000bc,#0000ba,#0000b9,#0000c2,#0000ef,#0000a7,#0000d3,#0000ca,#0015ff,#0000ed,#00a,#00d,#0000db,#0000d4,#0000b1,#0000dc,#0000c1,#0000d0,#0000de,#0000af,#0000d8,#00c,#0000d5,#0000d6,#0000b9,#0000ba,#0000c1,#0000c4,#0000ae,#0000f5,#0000ae,#0000ac,#0000b1,#0000ba,#00b,#0000eb,#0007ff,#0000e8,#0000b7,#0000b7,#0000fd,#0000b6,#0000e0,#0000b4,#0000e1,#0000bc,#0000a7,#0000bc,#0000e0,#0000ae,#0000ae,#0000c4,#0000cd,#0000f8,#0000df,#0000c3,#0000b7,#0000b7)"></div>
<div class="r" style="background:linear-gradient(90deg,#0000a5,#0000a5,#0000ad,#0000af,#0000b6,#0000ce,#0000c8,#0000c3,#0000df,#0000c5,#0000ca,#0000bc,#0000b4,#0000cd,#00009e,#0000a0,#0000b3,#0000f9,#0000f9,#0000d2,#0000f8,#0000d9,#0000e9,#0020ff,#0035ff,#0026ff,#004dff,#0067ff,#0024ff,#0bf,#00daff,#0065ff,#0034ff,#006dff,#0034ff,#000dff,#000bff,#0021ff,#0014ff,#0025ff,#001dff,#0000f4,#0005ff,#0000f4,#0003ff,#0000ea,#0000fd,#0005ff,#0000d8,#0000ca,#0000da,#0000d0,#0000d8,#0000f1,#0000c4,#0000ba,#0000b9,#0015ff,#0000c2,#0000b0,#0000e1,#0000c6,#000bff,#0000a8,#0000bf,#0000b6,#0000ba,#0000c2,#0000c2,#0000fb,#00b,#0000d0,#0000b7,#0000cb,#0000c8,#0000ef,#00c,#0000cb,#0000f1,#0000c0,#0000fc,#0000b7,#0000e3,#0001ff,#0000db,#0000c3,#0000c1,#00b,#0000d4,#0000e4,#0000ca,#0000c9,#0000bf,#0000bc,#0000b7,#0000c6,#0000e3,#0000c1,#0000cf,#00b,#0000ba,#0000b4,#0000bd,#0000cb,#0000c9,#0000e2,#0000d5,#0000d5,#0000c7,#0000c8,#0000f2,#00c,#0000ca,#0000c5,#0000fb,#0000cf,#0000c6,#0000bc,#0000bc,#0000ca,#0000e0,#0000a7,#0000ce,#0000c1,#0018ff,#0000e4,#0000b1,#0000d5,#0000e0,#0000e6,#0000b6,#0000ef,#0000be,#0000c9,#0000cb,#0000b2,#0000d2,#0000df,#0000dc,#0000cd,#0000b9,#0000b7,#0000c0,#0000c2,#0000ae,#0001ff,#0000ae,#0000ad,#0000b5,#0000be,#00b,#0000e3,#0007ff,#0000e0,#0000b7,#0000bc,#0000e9,#0000b8,#0000e8,#0000b1,#0000d1,#0000c7,#0000a8,#0000c4,#0000d2,#0000ac,#0000b3,#0000d4,#0000c5,#0009ff,#0000e2,#0000bd,#0000c0,#0000c0)"></div>
<div class="r" style="background:linear-gradient(90deg,#0000a5,#0000a5,#0000ab,#0000af,#0000b7,#0000be,#0000c8,#0000d6,#0000c9,#0000dc,#0000bf,#0000bc,#00b,#0000cb,#0000a6,#0000af,#0000c9,#0012ff,#0003ff,#0000f7,#0013ff,#0000fb,#0028ff,#0084ff,#009aff,#0085ff,#00abff,#0bf,#0074ff,#36ffc9,#d9ff26,#00e8ff,#0096ff,#00b3ff,#0093ff,#0049ff,#0049ff,#005eff,#0054ff,#0047ff,#004dff,#0037ff,#002aff,#0017ff,#0026ff,#0000f4,#0009ff,#0001ff,#0000d1,#0000cb,#0000e7,#0000be,#0000be,#0000d9,#0000d2,#0000c4,#0000b7,#000fff,#0000bc,#0000ae,#0000d3,#0000cf,#0017ff,#0000a9,#0000d3,#0000b2,#0000bc,#0000d1,#0000c4,#0000f3,#0000b3,#0000ba,#0000b7,#0000de,#0000ca,#0000f1,#0000ce,#0000db,#0000fa,#0000c3,#000aff,#0000c0,#0000ec,#001fff,#0000e4,#0000c9,#0000bd,#0000bc,#0000c3,#0000d8,#0000c7,#00c,#0000b9,#0000c8,#0000b2,#0000c0,#0000cf,#0000cd,#0000c3,#0000c0,#0000b8,#0000b3,#0000b6,#0000ca,#0000c5,#0000d1,#0000dc,#0000cb,#0000d5,#0000c9,#0000d8,#0000c3,#0000c6,#0000c9,#0013ff,#0000d1,#0000d3,#0000c1,#0000bf,#0000d2,#0000ce,#0000ad,#0000ca,#00b,#0017ff,#0000d2,#0000c3,#0000cb,#0000e3,#0000f7,#0000be,#0000fd,#0000bd,#0000c8,#0000c6,#0000b9,#0000d3,#0000ef,#0000de,#0000c7,#00b,#0000b6,#0000c2,#0000c4,#0000b4,#0003ff,#0000b1,#0000af,#00b,#0000cb,#0000bc,#0000d4,#0000f9,#0000d1,#0000b9,#0000c5,#0000cb,#0000ba,#0000ec,#0000b3,#0000c5,#0000d2,#0000ab,#00c,#0000c0,#0000ae,#0000ba,#0000e3,#0000bc,#0008ff,#0000de,#00b,#0000d4,#0000d4)"></div>
<div class="r" style="background:linear-gradient(90deg,#0000a6,#0000a6,#0000a9,#0000b1,#0000b7,#0000b4,#0000c8,#0000e2,#00b,#0000ea,#0000b7,#0000bd,#0000bf,#0000c7,#0000b0,#0000b8,#0000d7,#002eff,#0014ff,#0010ff,#0024ff,#0012ff,#005cff,#0cfff3,#1fffe0,#0efff1,#78ff87,#6bff94,#2cffd3,#ceff31,#ff5100,#ff6b00,#6bff94,#63ff9c,#00abff,#006aff,#0071ff,#00f9ff,#00fbff,#00ebff,#00c5ff,#006aff,#0076ff,#0061ff,#0070ff,#001fff,#001eff,#0013ff,#0000e6,#0000d0,#0000eb,#00b,#0000be,#0000cd,#0000df,#0000c9,#0000b7,#0002ff,#0000bc,#0000af,#0000c9,#0000dc,#0014ff,#0000ac,#0000db,#0000b2,#0000c1,#0000e2,#0000c7,#0000e7,#0000ae,#0000b3,#0000b6,#0000e8,#0000cd,#0000ec,#0000cd,#0000e6,#0000fd,#0000ca,#000bff,#0000cb,#0000ec,#0020ff,#0000e8,#0000ce,#0000bc,#0000bc,#0000bf,#00c,#0000c2,#00c,#0000b4,#0000d9,#0000b2,#0000bc,#0000c4,#0000d6,#0000c1,#0000c8,#0000b8,#0000b4,#0000b1,#0000c7,#0000c3,#0000c6,#0000df,#0000c8,#0000d9,#0000c9,#0000c5,#0000bc,#0000c3,#0000d2,#0019ff,#0000d1,#0000e6,#0000c6,#0000bf,#0000d5,#0000cf,#0000b7,#0000c6,#0000b9,#0009ff,#0000c3,#0000e7,#0000c9,#0000e5,#0002ff,#0000ca,#0003ff,#0000be,#0000c6,#0000c3,#0000c0,#0000d3,#0000f5,#00d,#0000c3,#0000be,#0000b7,#0000c7,#0000c8,#0000bc,#0000fd,#0000b5,#0000b2,#0000c1,#0000d2,#0000be,#0000c9,#0000e7,#0000c3,#00b,#0000cf,#0000c4,#0000bc,#0000ea,#0000b9,#0000c5,#0000da,#0000ad,#0000da,#0000c1,#0000b4,#0000c1,#0000e9,#0000b7,#0008ff,#0000d8,#0000bc,#0000e0,#0000e0)"></div>
<div class="r" style="background:linear-gradient(90deg,#0000a6,#0000a6,#0000a9,#0000b2,#0000b7,#0000b4,#0000cb,#0000e8,#00b,#0000f0,#0000b7,#0000bc,#0000be,#0000c5,#0000a4,#000092,#0000ae,#0035ff,#0029ff,#0024ff,#0036ff,#0025ff,#0069ff,#16ffe9,#27ffd8,#1fffe0,#f6ff09,#e2ff1d,#7fff80,#ff2900,#eb0000,#ff0200,#ffef00,#e0ff1f,#1fe,#0073ff,#007bff,#0ffff0,#13ffec,#05fffa,#0df,#0084ff,#008fff,#007aff,#08f,#003fff,#0045ff,#001cff,#0000cd,#0000c9,#0000eb,#00b,#0000c1,#0000cd,#0000e2,#00c,#0000b7,#0000f6,#0000b9,#0000b2,#0000c3,#0000dc,#000eff,#0000ae,#0000db,#0000b1,#0000c4,#0000e9,#0000c9,#0000de,#0000ac,#0000af,#0000ae,#0000e7,#00c,#0000e7,#0000c9,#0000ec,#00f,#0000d3,#000aff,#0000d2,#0000ea,#001fff,#0000ea,#0000ce,#0000bc,#0000bf,#0000bf,#0000c5,#0000be,#0000ca,#0000b2,#0000e1,#0000b4,#0000b6,#0000be,#0000d8,#0000c1,#0000d1,#0000ba,#0000b5,#0000af,#0000c4,#0000c1,#0000c4,#0000e1,#0000c2,#0000d6,#0000c8,#0000c0,#0000b8,#0000c1,#0000d8,#001aff,#0000d0,#0000ed,#0000c9,#0000bd,#0000d3,#0000d2,#0000bf,#0000c1,#0000b9,#0000fd,#0000be,#0000f6,#0000c8,#0000ea,#000aff,#0000d9,#0005ff,#0000c1,#0000c6,#0000c3,#0000c5,#0000d2,#0000f7,#0000dc,#0000c0,#0000be,#0000ba,#00c,#0000cd,#0000c4,#0000fb,#0000b9,#0000b6,#0000c7,#0000d4,#0000be,#0000c4,#0000da,#0000bd,#0000bf,#0000d3,#0000c1,#0000bd,#0000e9,#0000bd,#0000c5,#0000db,#0000ac,#00d,#0000c3,#0000b9,#0000ca,#0000eb,#0000b7,#000bff,#0000d7,#0000bf,#0000e4,#0000e4)"></div>
<div class="r" style="background:linear-gradient(90deg,#0000a6,#0000a6,#0000ab,#0000b4,#0000b8,#00b,#0000d0,#0000ea,#0000bf,#0000f4,#0000b9,#0000b9,#0000bc,#0000c7,#0000a5,#00008e,#0000a7,#03f,#0042ff,#004fff,#005fff,#004eff,#0061ff,#00a2ff,#00b4ff,#00b3ff,#faff05,#fffe00,#fffd00,#d60000,#a10000,#9f0000,#ffad00,#ecff13,#42ffbd,#0080ff,#0081ff,#0ef,#00efff,#00e2ff,#00c4ff,#007cff,#08f,#0071ff,#0080ff,#003eff,#0046ff,#0018ff,#00c,#0000ca,#0000e9,#0000b9,#0000c2,#0000d0,#0000df,#0000c7,#0000b5,#0000f1,#0000b5,#0000b1,#0000be,#0000d7,#000aff,#0000af,#0000d7,#0000ad,#0000c4,#0000e7,#0000c9,#0000db,#0000ab,#0000ad,#0000a5,#0000df,#0000c6,#0000e4,#0000c6,#0000ec,#0003ff,#0000d9,#000bff,#0000d2,#0000ea,#001dff,#0000ea,#0000cb,#0000be,#0000c4,#0000c1,#0000c3,#00b,#0000c6,#0000b1,#0000e2,#0000b5,#0000ae,#0000b8,#0000d6,#0000c1,#0000d4,#0000bc,#0000b6,#0000af,#0000c3,#0000c1,#0000c5,#0000e1,#0000bd,#0000d0,#0000c6,#0000c2,#0000b7,#0000bc,#0000d6,#0018ff,#0000cf,#0000eb,#0000c8,#00b,#0000ce,#0000d2,#0000c3,#0000bf,#0000b9,#0000f9,#0000bd,#0000f7,#0000c7,#00e,#0010ff,#0000df,#0005ff,#0000c4,#0000c7,#0000c3,#0000c6,#0000cf,#0000f6,#00d,#0000c0,#0000bc,#0000bc,#0000d1,#0000d0,#0000c5,#0000fb,#0000bc,#0000b9,#0000c6,#0000d2,#00b,#0000bf,#0000d7,#0000bd,#0000c2,#0000d1,#0000bf,#0000bf,#0000e9,#0000bd,#0000c2,#0000d9,#00a,#0000dc,#0000c5,#0000bc,#00c,#0000eb,#00b,#0010ff,#0000dc,#0000c2,#0000e4,#0000e4)"></div>
<div class="r" style="background:linear-gradient(90deg,#0000a7,#0000a7,#0000ad,#0000b7,#0000bc,#0000c3,#0000db,#0000e6,#0000c6,#0000f5,#0000bc,#0000b8,#00b,#0000cf,#0000a2,#00008a,#00008d,#0000b4,#0042ff,#0049ff,#003dff,#0024ff,#001fff,#006fff,#0094ff,#0093ff,#c1ff3e,#cdff32,#ffb800,#fd0000,#db0000,#f30000,#fff500,#f7ff08,#38ffc7,#28ffd7,#0bfff4,#00bcff,#009cff,#07f,#007bff,#004fff,#0059ff,#0040ff,#0050ff,#0000fc,#0013ff,#0000f5,#0000d9,#0000cf,#0000e4,#0000b2,#0000bd,#0000d5,#00d,#0000c0,#0000b1,#0000eb,#0000b2,#0000ae,#0000b9,#0000d4,#0005ff,#0000af,#0000d0,#0000a9,#0000c0,#0000de,#0000c5,#0000d0,#00a,#0000ac,#00009e,#0000d2,#0000b7,#0000e3,#0000c3,#00d,#0006ff,#0000e2,#000cff,#0000ce,#0000ec,#001bff,#0000e2,#0000c6,#0000bf,#0000c8,#0000c2,#0000c6,#00b,#0000c2,#0000af,#00d,#0000b5,#0000a7,#0000b4,#0000d4,#0000be,#0000d6,#0000bd,#0000b7,#0000b1,#0000c5,#0000c4,#0000c7,#0000e0,#00b,#0000cb,#0000bf,#0000c2,#0000b4,#0000b5,#0000d4,#0012ff,#0000cb,#0000e2,#0000c5,#0000b9,#0000ca,#0000cf,#0000c4,#0000be,#0000b8,#0000fd,#00b,#0000f8,#0000c6,#0000e9,#000fff,#0000da,#0001ff,#0000c7,#0000c8,#0000c6,#0000c3,#0000ca,#0000f5,#0000df,#0000c5,#0000bd,#0000bf,#0000d5,#0000d0,#0000c3,#0000f9,#0000be,#0000b9,#0000c7,#0000cf,#0000b6,#0000bc,#0000de,#0000c2,#0000c5,#0000cb,#0000bc,#0000be,#0000e9,#0000ba,#0000bc,#0000d5,#00a,#0000e4,#0000c5,#0000ba,#0000d3,#0000e8,#0000be,#0015ff,#0000e3,#0000c6,#0000e9,#0000e9)"></div>
<div class="r" style="background:linear-gradient(90deg,#0000a8,#0000a8,#0000ae,#0000bc,#0000c3,#0000cd,#0000ec,#0000d8,#0000d3,#0000ed,#0000c5,#0000d6,#0000cb,#0000df,#0000a7,#0000ac,#000090,#0000be,#001aff,#0026ff,#0025ff,#01f,#000dff,#006dff,#0096ff,#008fff,#00f8ff,#01fffe,#00fcff,#ffe400,#fe0,#8cff73,#86ff79,#7eff81,#69ff96,#63ff9c,#63ff9c,#67ff98,#00d4ff,#00caff,#0065ff,#0038ff,#0045ff,#0028ff,#0039ff,#0000f4,#0009ff,#0000de,#0000cb,#00c,#0000da,#0000a8,#0000b4,#0000e0,#0000e3,#00b,#0000af,#0000e0,#0000b0,#0000a9,#0000b7,#0000d3,#0000f5,#0000ae,#0000c0,#0000a7,#00b,#0000cd,#0000bf,#0000be,#0000a9,#0000ac,#00009c,#0000bc,#0000ae,#0000e0,#0000c4,#0000c1,#0006ff,#0000ef,#0006ff,#0000c3,#0000ed,#001aff,#00c,#0000c2,#0000bf,#0000c8,#0000c3,#0000ce,#0000bd,#0000bf,#0000af,#0000d3,#0000b7,#0000a6,#0000b1,#0000d2,#0000b8,#0000d9,#0000cd,#0000c5,#0000ba,#00c,#0000ca,#0000ca,#0000db,#0000d5,#0000ca,#0000b4,#0000bf,#0000ae,#0000af,#0000d7,#0001ff,#0000c3,#0000d2,#0000c1,#0000b8,#0000ce,#0000ca,#0000c4,#0000c1,#0000b8,#0009ff,#0000be,#0000f9,#0000c4,#0000d7,#00f,#0000d2,#0000f5,#0000c7,#0000c5,#0000ca,#0000bf,#0000c5,#0000f1,#0000e2,#0000de,#0000c4,#0000c5,#0000ea,#0000d1,#0000c3,#0000f0,#0000c1,#0000b8,#0000ca,#0000c8,#0000af,#0000b9,#0000eb,#0000c9,#0000c7,#0000c4,#0000b8,#0000b9,#0000e6,#0000b6,#0000b7,#0000ce,#0000ac,#0000f5,#0000c2,#0000b3,#0000e3,#0000df,#0000bf,#0019ff,#0000ec,#0000cb,#0000f4,#0000f4)"></div>
<div class="r" style="background:linear-gradient(90deg,#00a,#00a,#0000ae,#0000bf,#0000c9,#0000d4,#0000f9,#0000c9,#0000e5,#0000d6,#0000d2,#0004ff,#0000e6,#0000ef,#0000b4,#0000db,#0000ad,#0000d5,#0000e7,#0003ff,#0001ff,#0000ec,#0046ff,#003eff,#0030ff,#0054ff,#00a4ff,#00a5ff,#0050ff,#00fbff,#1affe5,#4fb,#4bffb4,#4dffb2,#54ffab,#2fffd0,#0087ff,#00b6ff,#00e0ff,#005cff,#000aff,#000dff,#001bff,#0000f6,#000aff,#0000f8,#0000f3,#0000c8,#0000c5,#0000ca,#0000c6,#00009f,#0000ad,#0000f0,#0000ed,#0000b8,#0000af,#0000c8,#0000af,#0000a6,#0000b7,#0000cd,#0000d1,#0000ae,#0000ae,#0000ad,#0000b9,#0000c1,#0000b6,#0000b1,#0000ac,#0000ac,#00009f,#0000b1,#0000a7,#0000d3,#0000c4,#0000ab,#0000f7,#0000fc,#0000ef,#0000bf,#0000e7,#0000eb,#00b,#0000bd,#0000be,#0000c5,#0000c2,#0000d9,#0000be,#0000bd,#0000b5,#0000c1,#0000bf,#0000af,#0000b4,#00c,#0000b1,#00d,#0000f6,#0000e1,#00c,#0000d5,#0000d0,#00c,#0000d2,#00f,#0000c9,#0000ab,#0000ba,#00a,#0000b0,#0000da,#0000da,#0000b9,#0000c5,#0000bf,#0000ba,#0000d6,#0000c8,#0000c4,#0000c5,#00b,#000cff,#0000c8,#0000f1,#0000c2,#0000c8,#0000da,#0000ca,#0000db,#0000c9,#0000be,#0000e2,#0000b9,#0000c0,#0000e3,#0000e2,#0010ff,#0000d7,#0000d1,#0009ff,#0000d4,#0000c7,#0000da,#0000c4,#0000b7,#0000cd,#00b,#0000a8,#0000b6,#0000f2,#0000d0,#0000c9,#0000bc,#0000b5,#0000b2,#0000db,#0000b4,#0000b4,#0000c1,#0000b3,#0002ff,#0000c7,#0000af,#0000f7,#0000cb,#00b,#0000eb,#0000ea,#0000d1,#0000fb,#0000fb)"></div>
<div class="r" style="background:linear-gradient(90deg,#0000ac,#0000ac,#0000af,#0000be,#0000cb,#0000d6,#0000f7,#0000c5,#0000ec,#0000c2,#0000de,#000cff,#0000fc,#0000f3,#0000ad,#0000d5,#000095,#0000bf,#0000d0,#0000f5,#0000e1,#0000d4,#02f,#001cff,#000dff,#0018ff,#0000f7,#0015ff,#0008ff,#007cff,#008cff,#008dff,#00b8ff,#00e2ff,#00ecff,#00d1ff,#0051ff,#005bff,#004bff,#0000e5,#0000fa,#0000fa,#0008ff,#0000dc,#0000eb,#0000f2,#0000d4,#0000b9,#0000bf,#0000ca,#0000b9,#00009f,#0000ad,#0000f6,#00e,#0000b7,#0000af,#0000b0,#0000ae,#0000a5,#0000b5,#0000c1,#00b,#0000b0,#0000ae,#0000b8,#0000bc,#00b,#0000b3,#0000ab,#0000b3,#0000b0,#0000a7,#0000ad,#0000a5,#0000c1,#0000be,#00009d,#0000df,#0000fc,#0000d6,#0000bf,#0000d8,#0000c1,#0000b0,#0000b8,#0000bd,#0000c2,#0000c3,#0000de,#0000c2,#0000bd,#0000bc,#0000bd,#0000d9,#0000c0,#0000bd,#0000c4,#0000b2,#0000df,#000aff,#0000f9,#0000f0,#0000da,#0000d4,#0000cd,#00c,#000fff,#0000cb,#0000ad,#0000b6,#0000ad,#0000b6,#0000d6,#0000c0,#0000b4,#0000bf,#0000c0,#0000bc,#0000d9,#0000cd,#0000c3,#0000c7,#0000bf,#0001ff,#0000d2,#0000e2,#0000c3,#0000b9,#0000ca,#0000c2,#0000c1,#0000c9,#0000b4,#0000ef,#0000b2,#00b,#0000d1,#0000e0,#0024ff,#0000f7,#0000e9,#0015ff,#0000d5,#0000cb,#0000c7,#0000c7,#0000b9,#0000cb,#0000ae,#0000a3,#0000b2,#0000e9,#0000d3,#0000c8,#0000b7,#0000b6,#0000af,#0000cb,#0000b4,#0000b4,#0000bd,#0000b9,#0000fd,#0000d6,#0000b3,#0000fa,#0000b6,#0000b2,#00b,#0000da,#0000d5,#0000f7,#0000f7)"></div>
<div class="r" style="background:linear-gradient(90deg,#0000ad,#0000ad,#0000af,#0000ba,#0000c6,#0000d3,#00e,#0000c3,#0000e8,#0000c1,#0000e8,#0015ff,#000dff,#0000f3,#0000b2,#0000d6,#00009e,#0000bd,#0000c1,#0000e7,#0000ca,#0000c6,#0008ff,#0002ff,#0000f8,#000dff,#0000db,#0005ff,#0000eb,#0030ff,#0039ff,#0038ff,#003aff,#003fff,#0056ff,#00adff,#0049ff,#0010ff,#0003ff,#0000cb,#0000f1,#0000ec,#0000f3,#0000d0,#0000d4,#00e,#00c,#0000bf,#0000c4,#0000cb,#0000ba,#0000a3,#0000af,#0000f4,#0000ea,#0000b5,#0000ac,#00a,#0000ad,#0000a4,#0000b0,#0000b8,#0000b3,#0000b0,#0000b2,#0000c2,#0000c0,#0000ba,#0000b3,#0000ae,#00b,#0000b5,#0000ae,#0000ad,#0000a7,#0000b8,#0000b6,#00009c,#0000d1,#0000fb,#0000cf,#0000c5,#0000d4,#0000bd,#0000ae,#0000b6,#0000bc,#0000c1,#0000c9,#0000e1,#0000c7,#0000bd,#0000c7,#0000bf,#0000eb,#0000d2,#0000c9,#0000c8,#0000b8,#0000e5,#01f,#000aff,#00f,#0000dc,#0000d3,#0000cd,#0000cf,#0015ff,#0000d3,#0000b5,#00b,#0000b3,#0000ba,#0000cd,#0000b5,#0000af,#0000ba,#0000c1,#0000c5,#0000da,#0000d1,#0000c7,#0000c7,#0000c0,#0000f7,#0000da,#0000d9,#0000c0,#0000b0,#0000bd,#0000bd,#0000ba,#0000c3,#00a,#0000e7,#00a,#0000b5,#0000c6,#0000e1,#0027ff,#0009ff,#0000f4,#0010ff,#0000d1,#0000cb,#0000c7,#0000c6,#00b,#0000c7,#0000ac,#0000a0,#0000ad,#0000db,#0000cf,#0000c4,#0000b4,#00b,#0000b3,#0000c2,#0000b3,#0000b3,#0000b8,#0000ba,#0000f8,#0000e2,#0000c4,#0000f7,#0000ad,#00a,#0000ac,#0000c9,#0000d3,#0000f0,#0000f0)"></div>
<div class="r" style="background:linear-gradient(90deg,#0000ad,#0000ad,#0000af,#0000b5,#0000be,#00c,#0000e4,#0000c2,#0000e2,#0000c5,#0000f1,#001dff,#001aff,#0000f4,#0000b3,#00c,#00009d,#0000b7,#0000c2,#0000e1,#0000c5,#0000c5,#0000e6,#0000e7,#00e,#0001ff,#0000c3,#0000ef,#0000ce,#0000bc,#00e,#0000f2,#0000f7,#00f,#0020ff,#0093ff,#06f,#0000f4,#0000e1,#0000bf,#00e,#0000eb,#0000ed,#0000ce,#0000d0,#0000ea,#0000c5,#0000b7,#0000bf,#0000c8,#00b,#0000a8,#0000b2,#0000f0,#0000e7,#0000b2,#00a,#0000a9,#0000ad,#0000a5,#0000ad,#0000b2,#0000ae,#0000af,#0000b4,#0000c5,#0000c1,#0000ba,#0000b6,#0000b5,#0000c3,#0000bd,#0000b4,#0000ae,#0000a9,#0000b6,#0000b4,#00009f,#0000cf,#00f,#0000d5,#0000cf,#0000d9,#0000c4,#0000b7,#0000bc,#0000c0,#0000c5,#0000d1,#0000e6,#0000cb,#0000bf,#0000ca,#0000c4,#0000f3,#0000e1,#0000d3,#0000d0,#0000c3,#0000ef,#0018ff,#0014ff,#0002ff,#0000d9,#0000cf,#0000cd,#0000d7,#001cff,#00d,#0000be,#0000bf,#0000b5,#0000b9,#0000c4,#0000ab,#0000a7,#0000b5,#0000c0,#0000cb,#0000df,#0000d6,#0000c9,#0000c5,#0000c1,#0000f4,#0000e0,#0000d7,#0000bd,#0000ac,#0000b5,#0000b7,#0000b6,#00b,#0000a3,#0000dc,#0000a7,#0000b2,#0000c3,#0000e5,#0025ff,#000dff,#0000f3,#0004ff,#0000ca,#0000c4,#0000c2,#0000c1,#0000b7,#0000c1,#0000ab,#00009d,#0000a5,#0000cb,#0000c6,#0000bd,#0000b4,#0000c0,#0000ba,#0000c1,#0000b4,#0000af,#0000b1,#0000b6,#0000f3,#0000e9,#0000d3,#0000f8,#0000b0,#0000a9,#0000a9,#0000c1,#0000d0,#0000e9,#0000e9)"></div>
<div class="r" style="background:linear-gradient(90deg,#0000b0,#0000b0,#0000af,#0000b3,#0000b8,#0000c7,#0000d7,#0000bf,#0000db,#0000c8,#0000f8,#001fff,#001eff,#0000f4,#0000b9,#0000d1,#0000b0,#0000ca,#0000d6,#0000ed,#0000d3,#0000cf,#0000db,#00d,#0000ec,#0001ff,#0000c6,#00e,#0000c7,#0000af,#0000b1,#0000b6,#0000c7,#0000e5,#0024ff,#0028ff,#0000eb,#0000d7,#0000b9,#0000c9,#0000fe,#0006ff,#0003ff,#0000e5,#0000e8,#0001ff,#00d,#0000ca,#0000c7,#0000c9,#0000bc,#0000ab,#0000b4,#0000eb,#0000e5,#0000b6,#0000ac,#0000ae,#0000b2,#0000ab,#0000b0,#0000b2,#0000ac,#0000ac,#0000b1,#0000c0,#0000bf,#0000b9,#0000ba,#0000be,#00c,#0000c7,#0000bc,#0000b4,#0000ab,#0000b6,#0000b4,#0000a4,#0000ca,#0000fe,#0000db,#0000d5,#00d,#0000ce,#0000c5,#0000c9,#0000c9,#0000ca,#0000d6,#0000ea,#0000d4,#0000c4,#0000d0,#0000cb,#0000f4,#0000e4,#0000d9,#0000d6,#0000ca,#0000f4,#001aff,#0015ff,#0000fa,#0000d2,#0000ca,#00c,#0000dc,#001fff,#0000e5,#0000c1,#0000be,#0000b2,#0000b3,#0000ba,#0000a7,#0000a3,#0000b1,#0000c0,#0000d4,#0000e6,#0000d7,#0000c7,#0000c1,#0000c2,#0000f0,#0000e6,#0000db,#0000bf,#0000ae,#0000b0,#0000b1,#0000b4,#0000b9,#0000a5,#0000d7,#0000ac,#0000b5,#0000c5,#0000e7,#001fff,#0008ff,#0000eb,#0000f8,#0000c5,#00b,#00b,#00b,#0000b3,#0000bc,#0000a8,#009,#00009e,#0000ba,#0000bc,#0000b6,#0000b4,#0000c4,#0000c2,#0000c9,#0000b7,#0000ac,#0000a9,#0000af,#0000ef,#0000eb,#0000de,#00f,#0000be,#0000b3,#0000b0,#0000c2,#0000cf,#0000e3,#0000e3)"></div>
<div class="r" style="background:linear-gradient(90deg,#0000b4,#0000b4,#0000b2,#0000b7,#0000b8,#0000c5,#0000c5,#0000bc,#0000cf,#0000c7,#0000f9,#001dff,#0019ff,#0000f6,#0000b7,#0000c7,#0000b3,#0000d3,#0000da,#0000e9,#0000cf,#0000c5,#0000d3,#0000da,#0000f3,#0000fb,#0000cf,#0000e5,#0000c3,#0000ae,#0000ae,#0000b6,#0000cd,#0000f3,#0038ff,#003cff,#0000fd,#0000db,#0000b9,#0000c7,#0000f9,#0010ff,#0009ff,#0000e7,#0000ea,#00f,#0000df,#0000c9,#0000c4,#0000c5,#0000bd,#0000ad,#0000b4,#0000e2,#0000e4,#0000bf,#0000b3,#0000b6,#0000ba,#0000b7,#0000b8,#0000b4,#0000af,#0000ac,#0000ad,#00b,#0000bc,#0000ba,#0000c1,#0000c8,#0000d6,#0000d1,#0000c7,#0000bf,#0000b3,#0000b8,#0000b4,#0000a7,#0000bd,#0000f0,#0000da,#0000d6,#0000de,#0000d6,#0000cf,#0000d2,#0000ce,#0000ce,#0000d7,#0000e7,#0000e3,#0000d6,#0000df,#0000d7,#00e,#0000de,#0000d8,#0000d4,#0000ca,#0000f2,#0018ff,#0016ff,#00e,#0000ca,#0000c7,#0000c9,#0000d8,#0019ff,#0000e7,#0000bf,#0000b9,#0000af,#0000af,#0000b4,#0000ac,#0000a6,#0000b3,#0000c3,#0000e9,#00e,#0000cb,#0000c0,#0000c1,#0000c4,#0000e4,#0000eb,#0000e5,#0000c7,#0000b5,#0000b1,#0000af,#0000b5,#0000bd,#0000ac,#0000d5,#0000bf,#00b,#0000c8,#0000e4,#0017ff,#0000fe,#0000db,#0000eb,#0000c8,#0000b8,#0000b6,#0000b8,#0000b1,#0000bd,#0000a4,#000095,#000095,#0000a9,#0000b4,#0000b6,#0000b4,#00c,#0000cb,#0000db,#0000be,#0000ac,#0000a4,#0000ab,#0000ed,#00e,#0000ea,#0008ff,#0000d0,#0000c2,#0000be,#00c,#0000ce,#0000dc,#0000dc)"></div>
<div class="r" style="background:linear-gradient(90deg,#0000b9,#0000b9,#0000b9,#0000c5,#0000c3,#0000c5,#0000bc,#0000b9,#0000c3,#0000c2,#0000ed,#0012ff,#000cff,#0000f7,#0000b3,#0000bc,#0000b8,#0000dc,#0000db,#0000e0,#0000ca,#0000bf,#0000cb,#0000da,#0000fa,#0000f3,#0000d3,#0000d6,#0000c0,#0000b1,#0000ae,#0000b7,#0000d3,#0002ff,#0045ff,#0048ff,#0010ff,#0000e5,#0000c0,#0000c7,#0000f0,#0014ff,#0008ff,#0000df,#0000e1,#0000f1,#0000da,#0000c5,#0000c1,#0000c3,#0000be,#0000af,#0000b3,#0000ce,#0000db,#0000c8,#00b,#0000be,#0000c4,#0000c7,#0000c4,#0000bc,#00b,#0000b5,#0000af,#0000ba,#0000bc,#0000bf,#00c,#0000d6,#0000e4,#0000db,#0000d4,#0000d0,#0000c2,#0000bc,#0000b6,#0000ac,#0000b7,#0000d1,#0000d2,#0000d5,#0000de,#00d,#0000d5,#0000d3,#0000ce,#0000ce,#0000d3,#00d,#0000f3,#0000f3,#0000f4,#0000e2,#0000de,#0000d8,#0000d1,#0000cd,#0000c4,#0000e9,#01f,#0008ff,#0000d8,#00c,#0000c7,#0000c5,#0000cb,#0000fd,#0000de,#00b,#0000b5,#0000af,#0000ae,#0000b7,#0000b8,#0000b1,#0000bc,#0000d5,#0006ff,#0000f2,#0000c1,#0000be,#0000c3,#0000c9,#0000d2,#0000f1,#0000f9,#0000e1,#0000d0,#0000c5,#0000bc,#0000c2,#0000ca,#0000b6,#0000cd,#0000d3,#0000c7,#0000c8,#0000d9,#000aff,#0000e7,#0000be,#0000d4,#0000cf,#0000bc,#0000b9,#0000bd,#0000b5,#0000c3,#0000a2,#000094,#00008f,#00009e,#0000ad,#0000bf,#0000b7,#0000d8,#0000de,#0000f4,#0000d2,#0000ae,#0000a1,#0000ab,#0000eb,#0000f1,#0000f2,#0008ff,#0000df,#0000d8,#0000db,#0000da,#00c,#0000d1,#0000d1)"></div>
<div class="r" style="background:linear-gradient(90deg,#0000be,#0000be,#0000c0,#0000d8,#0000d7,#0000c7,#0000bc,#0000ba,#0000c0,#0000bf,#0000db,#0008ff,#0001ff,#0000f1,#0000b2,#0000b2,#0000be,#0000de,#0000d5,#0000d3,#0000c5,#0000bd,#0000c7,#0000dc,#0000f9,#0000e7,#0000d0,#0000c5,#0000c0,#0000b6,#0000b1,#0000ba,#0000db,#000fff,#004bff,#004eff,#001eff,#0000f0,#0000ca,#0000cb,#0000e3,#000aff,#0000fb,#0000d2,#0000cf,#0000da,#0000cf,#0000c1,#0000bf,#0000c1,#0000c0,#0000b3,#0000b4,#0000bc,#00c,#0000cb,#0000c0,#0000c4,#0000cd,#0000d7,#0000d6,#0000d1,#0000d4,#0000cb,#00b,#0000be,#0000c0,#0000c7,#0000e3,#0000f2,#0000f8,#0000e3,#0000df,#0000e6,#0000cf,#0000c0,#0000ba,#0000b4,#0000b5,#0000c3,#0000d1,#0000d6,#0000de,#0000e2,#0000d8,#0000d1,#0000cb,#00c,#0000d0,#0000d2,#0000fb,#000aff,#0002ff,#0000e5,#0000d5,#0000ce,#0000c8,#0000c4,#0000be,#0000da,#0005ff,#00e,#0000d7,#0000d0,#0000c8,#0000c1,#0000bf,#0000d9,#0000cf,#0000b7,#0000b4,#0000b4,#0000b2,#0000bd,#0000c7,#0000c4,#0000cb,#00e,#0013ff,#0000f2,#0000c1,#0000bd,#0000c7,#0000cf,#0000d8,#0000f5,#0010ff,#0008ff,#0000f9,#0000e9,#0000d9,#0000db,#0000da,#0000bf,#0000c4,#0000dc,#0000cf,#0000c5,#0000c8,#0000e6,#0000c7,#0000b6,#0000be,#0000d3,#0000c9,#0000c0,#0000cb,#0000c7,#0000c9,#0000a4,#000096,#000090,#000097,#0000a8,#0000c8,#0000c5,#0000e2,#0000ef,#0009ff,#0000e7,#0000b3,#0000a5,#0000b1,#0000e8,#0000f1,#0000f5,#00f,#0000e9,#0000f4,#0000fc,#0000e6,#0000c9,#0000c6,#0000c6)"></div>
<div class="r" style="background:linear-gradient(90deg,#0000bf,#0000bf,#0000c5,#0000e0,#0000e1,#0000ca,#0000c0,#0000be,#0000c1,#0000bf,#0000cd,#0001ff,#0000f8,#0000e5,#0000b4,#0000ac,#0000be,#0000d7,#0000cd,#0000c9,#0000c4,#0000c0,#0000c6,#00d,#0000f1,#00d,#0000ca,#0000c2,#0000be,#0000b9,#0000b6,#0000c0,#0000e3,#0017ff,#004cff,#004fff,#0026ff,#0000f9,#0000d4,#0000d0,#0000da,#0000f9,#0000eb,#0000c8,#0000c2,#0000c9,#0000c7,#0000c0,#0000bf,#0000c1,#0000c2,#0000b9,#0000b8,#00b,#0000c2,#0000c9,#0000c2,#0000c3,#0000cb,#0000d9,#0000cf,#0000ca,#0000ce,#0000ca,#0000bd,#0000c0,#0000c4,#0000d0,#0000f9,#0009ff,#0001ff,#0000e6,#0000e4,#0000fc,#0000e2,#0000c2,#0000bc,#0000b8,#0000b6,#0000c1,#0000d1,#0000d8,#0000df,#0000e4,#0000d9,#0000cf,#0000c9,#0000cb,#0000cd,#0000cf,#0000f8,#000cff,#00f,#0000de,#0000cb,#0000c3,#0000bf,#0000bd,#0000ba,#00c,#0000e7,#0000d7,#0000d4,#0000ce,#0000c4,#0000bc,#0000b7,#0000be,#0000c0,#0000b5,#0000b7,#0000ba,#0000b9,#0000c5,#0000d8,#0000d4,#0000d9,#0001ff,#0017ff,#0000f2,#0000c7,#0000c4,#0000ca,#0000d0,#0000d5,#0000e6,#0003ff,#00f,#0000f3,#0000e5,#0000d7,#0000db,#0000d8,#0000c0,#0000bc,#0000d9,#0000d1,#0000c1,#0000bc,#0000c9,#0000b9,#0000b2,#00b,#0000d1,#0000d1,#0000ca,#0000d3,#0000d2,#0000c9,#0000a7,#00009b,#000092,#000096,#0000a6,#0000ca,#0000ce,#0000e5,#0000f5,#0007ff,#0000f1,#0000bc,#0000b0,#00b,#0000e4,#0000ef,#0000f2,#0000f4,#0000ec,#0001ff,#000aff,#0000eb,#0000c9,#0000c1,#0000c1)"></div>
<div class="r" style="background:linear-gradient(90deg,#0000bd,#0000bd,#0000c4,#0000de,#0000e2,#00c,#0000c4,#0000c2,#0000c3,#0000c2,#0000c9,#0000f1,#0000f2,#0000df,#0000b6,#0000ac,#0000bd,#0000d1,#0000c9,#0000c5,#0000c5,#0000c4,#0000ca,#0000df,#0000ec,#0000d9,#0000c7,#0000c0,#0000bc,#0000b9,#0000b8,#0000c4,#0000e6,#0016ff,#0042ff,#0046ff,#0026ff,#0000fe,#0000df,#0000d5,#0000d9,#0000f0,#0000e6,#0000c9,#0000c2,#0000c8,#0000ca,#0000c8,#0000c6,#0000c8,#0000c8,#0000c3,#0000c1,#0000c2,#0000c5,#0000c8,#0000c1,#0000be,#0000c1,#0000c9,#0000ba,#0000b3,#0000b9,#0000bc,#0000ba,#0000c0,#0000c6,#0000d8,#0000fd,#000bff,#0000fe,#0000e6,#0000e7,#0000fa,#0000e3,#0000bf,#0000b9,#0000b7,#0000b5,#0000bf,#0000cf,#0000d8,#0000df,#0000e2,#0000d8,#0000cd,#0000c8,#0000c9,#0000cb,#0000cd,#0000f0,#0003ff,#0000f4,#0000d2,#0000bf,#0000b9,#0000b7,#0000b7,#0000b7,#0000c4,#0000d2,#0000c9,#0000c6,#0000c1,#00b,#0000b5,#0000b1,#0000b3,#0000ba,#0000b7,#00b,#0000c1,#0000c2,#0000cd,#0000e2,#0000e2,#0000e9,#000cff,#001cff,#0000f6,#0000d0,#0000cb,#00c,#0000cd,#0000cb,#0000d3,#0000e1,#00d,#0000d1,#0000c5,#0000bf,#0000c9,#00c,#00b,#0000b9,#0000d3,#0000cf,#0000c0,#0000b8,#0000bd,#0000b6,#0000b0,#0000b7,#0000c9,#0000cf,#0000ca,#0000d1,#0000d1,#0000c4,#0000a7,#00009c,#000095,#009,#0000a8,#0000cb,#0000d4,#0000e7,#0000f8,#0005ff,#0000f5,#0000c6,#0000bd,#0000c6,#0000e5,#0000ef,#0000ef,#00e,#0000eb,#0001ff,#000aff,#00e,#0000ce,#0000c6,#0000c6)"></div>
<div class="r" style="background:linear-gradient(90deg,#0000b8,#0000b8,#0000bf,#0000d5,#0000db,#0000c8,#0000c2,#0000c0,#0000c1,#0000c1,#0000c7,#0000eb,#0000f0,#0000e0,#0000bf,#0000b7,#0000c5,#0000d4,#0000ce,#0000c9,#0000c9,#0000c9,#0000ce,#0000e2,#0000ea,#0000d9,#0000c7,#0000bf,#00b,#0000b9,#0000ba,#0000c5,#0000e2,#0009ff,#002bff,#0030ff,#001aff,#0000fb,#0000e1,#0000d8,#00d,#0000f0,#0000e9,#0000d4,#0000cf,#0000d6,#0000d9,#0000d8,#0000d6,#0000d8,#0000d9,#0000d5,#0000d2,#0000d1,#0000d0,#00c,#0000c1,#0000b9,#0000b7,#0000b9,#0000ac,#0000a7,#0000af,#0000b6,#0000b9,#0000c1,#0000c8,#0000d9,#0000f7,#0001ff,#0000f3,#0000dc,#0000db,#0000e8,#0000d5,#0000b6,#0000b0,#0000af,#0000af,#0000b9,#0000c8,#0000d2,#0000d8,#0000da,#0000d2,#0000c9,#0000c5,#0000c6,#0000c9,#0000cb,#0000e7,#0000f6,#0000e8,#0000c8,#0000b6,#0000b1,#0000b1,#0000b4,#0000b6,#0000c1,#0000c8,#0000bd,#0000b7,#0000b3,#0000b2,#0000b1,#0000b1,#0000b5,#0000bd,#0000be,#0000c4,#0000c9,#00c,#0000d5,#0000e6,#0000e9,#0000f0,#000eff,#001bff,#0000f7,#0000d5,#0000cd,#0000ca,#0000c7,#0000c3,#0000c5,#0000cd,#0000c8,#0000bd,#0000b4,#0000b3,#0000be,#0000c4,#0000ba,#0000bc,#0000d3,#0000d2,#0000c4,#0000bc,#0000bc,#0000b5,#0000ae,#0000b2,#0000bf,#0000c6,#0000c4,#0000c9,#0000c9,#00b,#0000a3,#00009a,#000096,#00009b,#0000ab,#00c,#0000d9,#0000ea,#0000fc,#0006ff,#0000f8,#0000d0,#0000c8,#0000cf,#0000e6,#0000ed,#0000ea,#0000e6,#0000e6,#0000f9,#0005ff,#0000f0,#0000d8,#0000d1,#0000d1)"></div>
<div class="r r2" style="background:linear-gradient(90deg,#0000b6,#0000b6,#0000cf,#0000bd,#0000b8,#0000bf,#0000e8,#0000d8,#0000cf,#0000de,#0000cf,#0000cf,#0000e3,#0000cf,#0000c0,#0000bd,#0000d2,#0000fc,#0007ff,#0000e4,#0000d9,#0000ed,#0000de,#0000ea,#0000ec,#0000ed,#0000e9,#0000e0,#0000cf,#0000b6,#00a,#0000a6,#0000b5,#0000c4,#0000e2,#0000ea,#0000ca,#0000ca,#00a,#0000a6,#0000b5,#0000c7,#0000ca,#0000c1,#0000c5,#0000d5,#0000e9,#0000be,#0000b3,#0000b9,#0000c5,#0000ba,#0000b4,#0000b8,#0000c0,#0000cb,#0000d2,#0000de,#0000ec,#0009ff,#0000dc,#0000c4,#00b,#0000ba,#0000b6,#0000ae,#0000c1,#0000c0,#0000d9,#0000c8,#00b,#0000af,#0000c0,#0000c3,#0000ba,#00009d,#00009b,#0000bc,#0000e3,#0000fe,#0000e6,#0000cd,#0000df,#0000da,#0000e1,#0000f1,#0000d9,#0000d9)"></div>
<div class="r r2" style="background:linear-gradient(90deg,#0000b2,#0000b2,#0000ca,#0000b8,#0000b2,#0000bc,#0000d9,#0000da,#00d,#0000ea,#0000d3,#0000cf,#0000db,#0000cb,#0000c2,#0000c0,#0000d1,#0000df,#0000e7,#0000d7,#0000d2,#0000e7,#0000e2,#0000f6,#0000fa,#0000fa,#0000f6,#0000e9,#0000d7,#00b,#0000ad,#0000a9,#0000b5,#0000c3,#00d,#00d,#0000bd,#0000bd,#0000ab,#0000a3,#0000ae,#0000ba,#0000bf,#0000bc,#0000c2,#0000d2,#0000e7,#0000c9,#0000c1,#0000c7,#0000ce,#0000c9,#0000c3,#0000c5,#0000ca,#0000d3,#0000d5,#0000d8,#0000e5,#0000f5,#0000ce,#0000bc,#0000b2,#0000af,#0000ae,#0000ad,#0000c4,#0000c4,#0000db,#00c,#0000bc,#0000af,#0000c5,#0000c6,#0000b4,#00009c,#00009d,#0000b8,#0000df,#0000f2,#0000df,#0000c6,#0000cd,#0000c8,#0000cf,#0000e0,#0000d5,#0000d5)"></div>
<div class="r r2" style="background:linear-gradient(90deg,#0000b1,#0000b1,#0000c6,#0000b7,#0000b2,#0000bc,#0000cb,#0000d6,#0000e2,#0000ed,#0000d4,#00c,#0000ce,#0000c3,#0000be,#0000bc,#0000ca,#0000c6,#00c,#0000c8,#0000c9,#0000db,#0000e1,#0000fa,#00f,#0000fb,#0000f7,#0000e9,#0000da,#0000c0,#0000b4,#0000b1,#0000b9,#0000c5,#0000d8,#0000d5,#0000ba,#0000b8,#0000b3,#0000a8,#0000ae,#0000b5,#0000b8,#0000b8,#0000bf,#0000ce,#0000e2,#0000d8,#0000d8,#0000df,#0000e5,#0000e3,#0000dc,#0000d8,#0000d5,#0000d7,#0000d4,#0000d1,#0000de,#0000e2,#0000c7,#00b,#0000b0,#0000ab,#0000ac,#0000af,#0000c2,#0000c0,#0000d1,#0000c6,#0000b8,#0000b0,#0000c2,#0000c0,#0000a9,#000098,#00009a,#0000ae,#0000d0,#0000e0,#0000d1,#0000ba,#0000bd,#0000b9,#0000bf,#0000cb,#0000ce,#0000ce)"></div>
<div class="r r2" style="background:linear-gradient(90deg,#0000b3,#0000b3,#0000c0,#0000b6,#0000b3,#0000bc,#0000c5,#0000ce,#0000db,#0000e3,#0000cb,#0000c1,#0000bc,#0000b4,#0000b0,#0000af,#0000b9,#0000ae,#0000b4,#0000b8,#0000bc,#00c,#0000d9,#0000f2,#0000f5,#0000ef,#0000e9,#0000dc,#0000d4,#0000c2,#0000bd,#0000be,#0000c4,#0000cd,#0000d9,#0000d4,#0000c2,#0000bf,#0000c1,#0000b6,#0000b8,#0000b8,#0000b7,#0000b4,#0000ba,#0000c3,#0000d5,#0000db,#0000e3,#0000e7,#00e,#00e,#0000e7,#0000e0,#0000d8,#0000d5,#0000ce,#0000ca,#0000d5,#0000d4,#0000ca,#0000c9,#0000b6,#0000b1,#0000b1,#0000b6,#0000bf,#0000b9,#0000c2,#0000ba,#0000b2,#0000af,#0000b6,#0000b1,#00009b,#000090,#000094,#0000a1,#0000ba,#0000c9,#0000bd,#0000ae,#0000b2,#0000b4,#0000bc,#0000c6,#0000c9,#0000c9)"></div>
<div class="r r2" style="background:linear-gradient(90deg,#0000b3,#0000b3,#0000b9,#0000af,#0000ab,#0000af,#0000b3,#0000b8,#0000c1,#0000c6,#0000b4,#0000ab,#0000a5,#00009e,#00009a,#00009a,#0000a1,#000097,#00009d,#0000a3,#0000a9,#0000b7,#0000c5,#0000d9,#0000da,#0000d4,#0000d0,#0000c8,#0000c7,#0000c0,#0000c2,#0000c7,#0000cd,#0000d3,#0000db,#0000d6,#0000cb,#0000c9,#00c,#0000c2,#0000c3,#0000bf,#0000ba,#0000b6,#0000b6,#0000b7,#0000c1,#0000c8,#0000cf,#0000ce,#0000d2,#0000d5,#0000d3,#0000d0,#0000cb,#0000c9,#0000c5,#0000c3,#0000cd,#0000ce,#0000cd,#0000d1,#0000c0,#0000bc,#00b,#0000be,#0000c0,#0000b8,#00b,#0000b5,#0000b0,#0000b0,#0000b1,#00a,#000096,#00008e,#000091,#000098,#0000a8,#0000b5,#0000ad,#0000a8,#0000b1,#0000ba,#0000c2,#0000cb,#0000ce,#0000ce)"></div>
<div class="r r2" style="background:linear-gradient(90deg,#0000b0,#0000b0,#0000b0,#0000a5,#00009e,#00009d,#00009c,#00009e,#0000a3,#0000a5,#009,#000094,#000090,#00008b,#008,#008,#00008c,#000085,#000089,#000090,#000096,#0000a1,#0000ad,#0000bc,#0000be,#00b,#00b,#0000ba,#0000bd,#0000be,#0000c4,#0000cb,#0000d0,#0000d4,#0000d9,#0000d4,#00c,#0000ca,#0000cb,#0000c4,#0000c4,#0000c0,#00b,#0000b8,#0000b5,#0000b2,#0000b6,#0000b8,#0000b9,#0000b6,#0000b8,#0000bc,#0000be,#0000c0,#0000bf,#0000c0,#0000be,#0000be,#0000c7,#0000c8,#0000ca,#0000ce,#0000c3,#0000c0,#0000c0,#0000c2,#0000c2,#00b,#0000bc,#0000b8,#0000b5,#0000b5,#0000b3,#0000ac,#00009c,#000094,#000095,#000098,#0000a2,#0000ad,#0000ab,#0000ad,#0000b9,#0000c4,#0000ce,#0000d5,#0000d9,#0000d9)"></div>
<div class="r r4" style="background:linear-gradient(90deg,#0000ad,#0000ad,#00009f,#000096,#000094,#000092,#00008b,#000085,#000084,#000083,#00008d,#00009d,#0000af,#0000b4,#0000bc,#0000c7,#0000d2,#0000d7,#0000cf,#0000c7,#0000c0,#00b,#0000b5,#0000b1,#0000b2,#0000b2,#0000b9,#0000bf,#0000bf,#0000c0,#0000c3,#0000c3,#0000c0,#0000c3,#0000bf,#00b,#0000b6,#0000a6,#000097,#00009c,#00a,#0000b9,#0000d1,#0000df,#0000df)"></div>
<div class="r r4" style="background:linear-gradient(90deg,#0000b4,#0000b4,#0000a9,#0000a0,#00009e,#00009c,#000095,#000090,#000091,#000091,#00009a,#0000a8,#0000b7,#0000bf,#0000c9,#0000d4,#0000da,#0000db,#0000d0,#0000c5,#0000bc,#0000b7,#0000b1,#0000ae,#0000b2,#0000b6,#0000c0,#0000c6,#0000c6,#0000c4,#0000c4,#0000c1,#0000c0,#0000c7,#0000c5,#0000be,#0000b5,#00009e,#000089,#00008b,#00009d,#0000b2,#0000cd,#0000db,#0000db)"></div>
<div class="r r4" style="background:linear-gradient(90deg,#0000c3,#0000c3,#0000bc,#0000b6,#0000b6,#0000b0,#0000a9,#0000a5,#00a,#0000ac,#0000b4,#0000be,#0000ca,#0000d2,#0000d9,#0000df,#0000e0,#0000de,#0000d1,#0000c5,#0000b9,#0000b2,#0000ab,#0000a7,#0000b1,#0000bc,#0000ca,#0000d2,#0000d2,#0000ce,#0000cb,#0000c7,#0000c7,#0000d2,#0000d1,#0000c7,#0000ba,#00009c,#000081,#000080,#00008e,#0000a2,#0000b9,#0000c4,#0000c4)"></div>
<div class="r r4" style="background:linear-gradient(90deg,#0000d2,#0000d2,#0000cf,#00c,#0000cd,#0000c5,#0000bf,#0000bd,#0000c4,#0000c7,#0000ca,#0000ce,#0000d1,#0000d5,#0000d4,#0000d6,#0000d4,#0000d5,#0000d0,#0000ca,#0000c1,#0000bd,#0000b7,#0000b4,#0000bc,#0000c9,#0000d3,#0000da,#0000dc,#00d,#0000df,#0000e0,#0000e4,#0000ef,#00e,#0000e4,#0000da,#0000c3,#0000ad,#0000a6,#0000a6,#0000a8,#0000ae,#0000af,#0000af)"></div>
<div class="r r4" style="background:linear-gradient(90deg,#0000d8,#0000d8,#0000d6,#0000d4,#0000d4,#0000c9,#0000c4,#0000c1,#0000c6,#0000c6,#0000c4,#0000c4,#0000c3,#0000c5,#0000c0,#0000c2,#0000c1,#0000c6,#0000c7,#0000c8,#0000c5,#0000c7,#0000c6,#0000c4,#00c,#0000d7,#0000de,#0000e5,#0000eb,#0000f2,#0000fc,#0004ff,#000bff,#0016ff,#0015ff,#000bff,#0004ff,#0000f2,#0000e1,#0000d7,#0000ce,#0000c7,#0000c3,#0000be,#0000be)"></div>
<div class="r r4" style="background:linear-gradient(90deg,#0000da,#0000da,#0000d8,#0000d6,#0000d4,#0000c9,#0000c3,#0000c0,#0000c4,#0000c2,#0000bf,#0000bf,#0000be,#0000c0,#0000bc,#0000c0,#0000c0,#0000c5,#0000c7,#0000c9,#0000c9,#00c,#00c,#0000ca,#0000ce,#0000d5,#0000d9,#0000de,#0000e3,#0000eb,#0000f7,#00f,#0006ff,#0010ff,#000eff,#0004ff,#0000fd,#0000ef,#0000e1,#0000d7,#0000ce,#0000c7,#0000c3,#0000bf,#0000bf)"></div>
</div>
<div class="k" style="left:652.7px;top:41.8px;width:1px;height:5px"></div><div class="k" style="left:652.7px;top:537.8px;width:1px;height:5px"></div><div class="xl" style="left:636.0px">0</div>
<div class="k" style="left:700.1px;top:41.8px;width:1px;height:5px"></div><div class="k" style="left:700.1px;top:537.8px;width:1px;height:5px"></div><div class="xl" style="left:683.4px">0.5</div>
<div class="k" style="left:747.5px;top:41.8px;width:1px;height:5px"></div><div class="k" style="left:747.5px;top:537.8px;width:1px;height:5px"></div><div class="xl" style="left:730.8px">1</div>
<div class="k" style="left:794.9px;top:41.8px;width:1px;height:5px"></div><div class="k" style="left:794.9px;top:537.8px;width:1px;height:5px"></div><div class="xl" style="left:778.2px">1.5</div>
<div class="k" style="left:842.3px;top:41.8px;width:1px;height:5px"></div><div class="k" style="left:842.3px;top:537.8px;width:1px;height:5px"></div><div class="xl" style="left:825.6px">2</div>
<div class="k" style="left:889.7px;top:41.8px;width:1px;height:5px"></div><div class="k" style="left:889.7px;top:537.8px;width:1px;height:5px"></div><div class="xl" style="left:873.0px">2.5</div>
<div class="k" style="left:937.1px;top:41.8px;width:1px;height:5px"></div><div class="k" style="left:937.1px;top:537.8px;width:1px;height:5px"></div><div class="xl" style="left:920.4px">3</div>
<div class="k" style="left:648.2px;top:46.3px;width:5px;height:1px"></div><div class="k" style="left:937.6px;top:46.3px;width:5px;height:1px"></div><div class="k" style="left:648.2px;top:100.9px;width:5px;height:1px"></div><div class="k" style="left:937.6px;top:100.9px;width:5px;height:1px"></div><div class="k" style="left:648.2px;top:155.4px;width:5px;height:1px"></div><div class="k" style="left:937.6px;top:155.4px;width:5px;height:1px"></div><div class="k" style="left:648.2px;top:210.0px;width:5px;height:1px"></div><div class="k" style="left:937.6px;top:210.0px;width:5px;height:1px"></div><div class="k" style="left:648.2px;top:264.5px;width:5px;height:1px"></div><div class="k" style="left:937.6px;top:264.5px;width:5px;height:1px"></div><div class="k" style="left:648.2px;top:319.1px;width:5px;height:1px"></div><div class="k" style="left:937.6px;top:319.1px;width:5px;height:1px"></div><div class="k" style="left:648.2px;top:373.6px;width:5px;height:1px"></div><div class="k" style="left:937.6px;top:373.6px;width:5px;height:1px"></div><div class="k" style="left:648.2px;top:428.2px;width:5px;height:1px"></div><div class="k" style="left:937.6px;top:428.2px;width:5px;height:1px"></div><div class="k" style="left:648.2px;top:482.7px;width:5px;height:1px"></div><div class="k" style="left:937.6px;top:482.7px;width:5px;height:1px"></div><div class="k" style="left:648.2px;top:537.3px;width:5px;height:1px"></div><div class="k" style="left:937.6px;top:537.3px;width:5px;height:1px"></div><div class="b" style="left:705.6px;top:566px;width:200px">Time (s)</div>
<div class="yl" style="top:34.9px">160</div>
<div class="yl" style="top:89.5px">109</div>
<div class="yl" style="top:144.0px">74</div>
<div class="yl" style="top:198.6px">50</div>
<div class="yl" style="top:253.1px">34</div>
<div class="yl" style="top:307.7px">23</div>
<div class="yl" style="top:362.2px">16</div>
<div class="yl" style="top:416.8px">11</div>
<div class="yl" style="top:471.3px">7</div>
<div class="yl" style="top:525.9px">5</div>
<div class="b" style="left:-82px;top:258.6px;width:200px;transform:rotate(-90deg)">Frequency (Hz)</div>
<div class="p" style="left:951.0px;top:55.6px;width:29.2px;height:476.5px;background:linear-gradient(to bottom,#800000,#8f0000,#9f0000,#af0000,#bf0000,#cf0000,#df0000,#ef0000,#ff0000,#ff1000,#ff2000,#ff3000,#ff4000,#ff5000,#ff6000,#ff7000,#ff8000,#ff8f00,#ff9f00,#ffaf00,#ffbf00,#ffcf00,#ffdf00,#ffef00,#ffff00,#efff10,#dfff20,#cfff30,#bfff40,#afff50,#9fff60,#8fff70,#80ff80,#70ff8f,#60ff9f,#50ffaf,#40ffbf,#30ffcf,#20ffdf,#10ffef,#00ffff,#00efff,#00dfff,#00cfff,#00bfff,#00afff,#009fff,#008fff,#0080ff,#0070ff,#0060ff,#0050ff,#0040ff,#0030ff,#0020ff,#0010ff,#0000ff,#0000ef,#0000df,#0000cf,#0000bf,#0000af,#00009f,#00008f,#000080);box-shadow:inset 0 0 0 1px rgba(60,60,60,.35)"></div>
<div class="k" style="left:951.0px;top:504.0px;width:4.5px;height:1px;background:rgba(20,20,20,.8)"></div><div class="k" style="left:975.7px;top:504.0px;width:4.5px;height:1px;background:rgba(20,20,20,.8)"></div><div class="cl" style="top:491.8px">0</div>
<div class="k" style="left:951.0px;top:426.9px;width:4.5px;height:1px;background:rgba(20,20,20,.8)"></div><div class="k" style="left:975.7px;top:426.9px;width:4.5px;height:1px;background:rgba(20,20,20,.8)"></div><div class="cl" style="top:414.7px">2</div>
<div class="k" style="left:951.0px;top:349.9px;width:4.5px;height:1px;background:rgba(20,20,20,.8)"></div><div class="k" style="left:975.7px;top:349.9px;width:4.5px;height:1px;background:rgba(20,20,20,.8)"></div><div class="cl" style="top:337.7px">4</div>
<div class="k" style="left:951.0px;top:272.8px;width:4.5px;height:1px;background:rgba(20,20,20,.8)"></div><div class="k" style="left:975.7px;top:272.8px;width:4.5px;height:1px;background:rgba(20,20,20,.8)"></div><div class="cl" style="top:260.6px">6</div>
<div class="k" style="left:951.0px;top:195.7px;width:4.5px;height:1px;background:rgba(20,20,20,.8)"></div><div class="k" style="left:975.7px;top:195.7px;width:4.5px;height:1px;background:rgba(20,20,20,.8)"></div><div class="cl" style="top:183.5px">8</div>
<div class="k" style="left:951.0px;top:118.7px;width:4.5px;height:1px;background:rgba(20,20,20,.8)"></div><div class="k" style="left:975.7px;top:118.7px;width:4.5px;height:1px;background:rgba(20,20,20,.8)"></div><div class="cl" style="top:106.5px">10</div>
<div class="b" style="left:856.9px;top:283.4px;width:300px;transform:rotate(90deg)">Average Normalized PSD</div>
</body></html>
